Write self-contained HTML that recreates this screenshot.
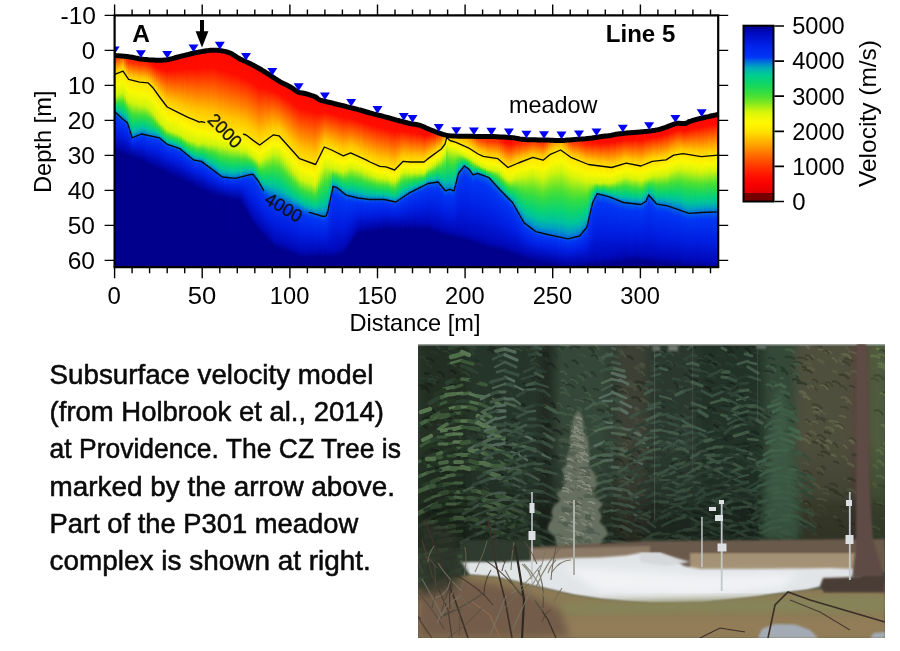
<!DOCTYPE html>
<html><head><meta charset="utf-8"><style>
html,body{margin:0;padding:0;background:#fff}
body{width:900px;height:651px;position:relative;overflow:hidden}
#field i{position:absolute;display:block}
svg{position:absolute;left:0;top:0}
#photo{position:absolute;left:418px;top:344px;width:467px;height:294px;overflow:hidden}
</style></head><body>
<div id="field">
<i style="left:114px;top:54.4px;width:2px;height:212.8px;background:linear-gradient(#ff3c00 0px,#ff3f00 5px,#ffbc00 15px,#ffe600 21px,#f9f901 31px,#d2f40b 41px,#c9f30d 42px,#41df38 47px,#0cd46d 51px,#01ce8e 53px,#00b2b2 55px,#0060e4 58px,#0036f5 62px,#001de0 77px,#0008b5 90px,#00008c 97px,#00008c 213px)"></i>
<i style="left:116px;top:54.6px;width:2px;height:212.6px;background:linear-gradient(#ff4600 0px,#ff4c00 5px,#ffbe00 14px,#ffe400 19px,#f8f902 30px,#d0f40c 40px,#c7f30e 41px,#3bde3b 47px,#09d375 52px,#00cd91 54px,#00a2bf 57px,#006cdf 59px,#0037f5 63px,#001de0 78px,#0008b3 91px,#00008c 97px,#00008c 213px)"></i>
<i style="left:118px;top:54.8px;width:2px;height:212.4px;background:linear-gradient(#ff4c00 0px,#ff4e00 4px,#ffbf00 13px,#ffe400 18px,#f9f902 29px,#d2f40b 39px,#b5f012 41px,#3bde3b 47px,#0cd46d 52px,#00cc92 55px,#00a9bb 58px,#0063e3 61px,#0036f5 65px,#001bdd 80px,#0009b7 91px,#00008c 97px,#00008c 213px)"></i>
<i style="left:120px;top:55.0px;width:2px;height:212.2px;background:linear-gradient(#ff5300 0px,#ff5400 3px,#ffc000 12px,#ffe400 17px,#f9f902 28px,#d3f40b 38px,#a7ee15 41px,#3bde3b 47px,#0bd371 53px,#00c29e 57px,#009bc3 60px,#0051ea 64px,#0037f5 66px,#001de0 80px,#0008b4 92px,#00008c 98px,#00008c 213px)"></i>
<i style="left:122px;top:55.2px;width:2px;height:212.0px;background:linear-gradient(#ff5900 0px,#ff5a00 2px,#ffc100 11px,#ffe700 17px,#f9f901 27px,#ccf30d 38px,#3bde3b 47px,#0dd56b 53px,#00c29e 58px,#00a2bf 61px,#0059e7 65px,#0036f4 68px,#001de0 81px,#0009b8 92px,#00008c 99px,#00008c 213px)"></i>
<i style="left:124px;top:55.4px;width:2px;height:211.8px;background:linear-gradient(#ff4700 0px,#ff4d00 5px,#ffc000 14px,#ffe500 19px,#f9f902 30px,#ccf30d 41px,#41df38 49px,#09d375 56px,#00c0a1 60px,#00adb8 62px,#0050eb 67px,#0037f5 69px,#001de0 82px,#0008b5 93px,#00008c 100px,#00008c 212px)"></i>
<i style="left:126px;top:55.6px;width:2px;height:211.6px;background:linear-gradient(#ff3500 0px,#ff3500 5px,#ffc400 17px,#ffe500 22px,#f8f902 33px,#cbf30d 44px,#3ade3c 52px,#09d375 58px,#00bea4 62px,#0091ca 65px,#0055e8 68px,#0038f4 70px,#001ee3 82px,#0008b3 94px,#00008c 100px,#00008c 212px)"></i>
<i style="left:128px;top:55.8px;width:2px;height:211.4px;background:linear-gradient(#ff2900 0px,#ff2d00 6px,#ffc400 19px,#ffe700 25px,#faf901 35px,#cff40c 46px,#b3ef12 48px,#3cde3a 55px,#09d375 62px,#00c29f 66px,#009fc1 69px,#0040f1 74px,#002cef 79px,#0018d8 87px,#0006a9 96px,#00008c 101px,#00008c 212px)"></i>
<i style="left:130px;top:56.1px;width:2px;height:211.1px;background:linear-gradient(#ff2800 0px,#ff2c00 6px,#ffc200 19px,#ffe600 25px,#f7f902 36px,#d2f40b 46px,#37dd3f 58px,#0cd46e 65px,#00c798 70px,#00a6bd 74px,#0065e2 78px,#0037f5 80px,#001fe4 87px,#000190 100px,#00008c 212px)"></i>
<i style="left:132px;top:56.5px;width:2px;height:210.7px;background:linear-gradient(#ff2700 0px,#ff2b00 6px,#ffc100 19px,#ffe400 24px,#f8f902 36px,#ccf30d 47px,#41df38 58px,#0bd46f 67px,#00c39d 73px,#00a2bf 77px,#0067e1 81px,#0036f4 83px,#001de1 89px,#00039a 99px,#00008c 102px,#00008c 211px)"></i>
<i style="left:134px;top:56.9px;width:2px;height:210.3px;background:linear-gradient(#ff2600 0px,#ff2a00 6px,#ffc000 19px,#ffe600 25px,#f8f902 36px,#cef40c 47px,#3ede39 58px,#0cd46c 66px,#00c49c 72px,#00a2bf 76px,#0061e3 80px,#0036f4 82px,#001cdf 89px,#00008e 101px,#00008c 211px)"></i>
<i style="left:136px;top:57.2px;width:2px;height:210.0px;background:linear-gradient(#ff2600 0px,#ff2a00 6px,#ffbf00 19px,#ffe600 25px,#f9f901 36px,#d0f40c 47px,#3cde3a 58px,#0bd470 66px,#00c59b 71px,#00a1c0 75px,#005ce6 79px,#0036f4 81px,#001cde 89px,#00008c 102px,#00008c 210px)"></i>
<i style="left:138px;top:57.6px;width:2px;height:209.6px;background:linear-gradient(#ff2500 0px,#ff2900 6px,#ffbe00 19px,#ffe500 25px,#faf901 36px,#d3f40b 47px,#9dec18 51px,#3ade3b 58px,#0cd46d 65px,#00c69a 70px,#00a0c1 74px,#0036f4 80px,#001ee2 88px,#00039c 100px,#00008c 103px,#00008c 210px)"></i>
<i style="left:140px;top:58.0px;width:2px;height:209.2px;background:linear-gradient(#ff2600 0px,#ff2a00 6px,#ffbf00 19px,#ffe600 25px,#faf901 36px,#d3f40b 47px,#adef14 50px,#42df38 57px,#0ad373 65px,#00c799 69px,#009ec1 73px,#0042f1 78px,#0033f3 80px,#001bdd 89px,#00049f 100px,#00008c 104px,#00008c 210px)"></i>
<i style="left:142px;top:58.2px;width:2px;height:209.0px;background:linear-gradient(#ff2600 0px,#ff2a00 6px,#ffbf00 19px,#ffe600 25px,#f7f902 37px,#ccf30d 48px,#39dd3d 58px,#0ad372 65px,#00c898 69px,#00a0c1 73px,#0036f5 79px,#001cdf 89px,#0006aa 99px,#00008c 104px,#00008c 210px)"></i>
<i style="left:144px;top:58.3px;width:2px;height:208.9px;background:linear-gradient(#ff2600 0px,#ff2900 6px,#ffbf00 19px,#ffe600 25px,#f7f902 37px,#cef40c 48px,#a2ed16 51px,#3ade3c 58px,#0bd470 65px,#00c19f 70px,#0093c8 74px,#0037f5 79px,#001de1 89px,#0006a8 100px,#00008c 105px,#00008c 209px)"></i>
<i style="left:146px;top:58.5px;width:2px;height:208.7px;background:linear-gradient(#ff2600 0px,#ff2900 6px,#ffbf00 19px,#ffe600 25px,#f7f902 37px,#cff40c 48px,#a5ed16 51px,#3cde3a 58px,#0cd46e 65px,#00c39d 70px,#0097c6 74px,#003df2 79px,#001fe3 89px,#0007ad 100px,#00008c 106px,#00008c 209px)"></i>
<i style="left:148px;top:58.6px;width:2px;height:208.6px;background:linear-gradient(#ff2000 0px,#ff2200 6px,#ffc000 20px,#ffe600 26px,#f8f902 38px,#d1f40c 49px,#a8ee15 52px,#3bde3b 59px,#0bd371 66px,#00c898 70px,#009ec2 74px,#0043f0 79px,#0034f3 81px,#001ee1 90px,#0006ac 101px,#00008c 106px,#00008c 209px)"></i>
<i style="left:150px;top:58.8px;width:2px;height:208.4px;background:linear-gradient(#ff1600 0px,#ff1600 6px,#ffc200 22px,#ffe600 28px,#f7f902 40px,#d1f40b 51px,#b9f011 53px,#41df38 60px,#0bd371 67px,#00c59b 71px,#00a6bc 74px,#0048ee 79px,#0037f5 80px,#001de0 91px,#0007b1 101px,#00008c 107px,#00008c 209px)"></i>
<i style="left:152px;top:59.0px;width:2px;height:208.2px;background:linear-gradient(#ff0e00 0px,#ff1100 7px,#ffc500 24px,#ffe600 30px,#f7f902 42px,#d1f40b 53px,#b8f011 55px,#3ade3c 62px,#0bd371 68px,#00c29e 72px,#009cc3 75px,#003df3 80px,#001ee2 91px,#0007b0 102px,#00008c 108px,#00008c 209px)"></i>
<i style="left:154px;top:59.1px;width:2px;height:208.1px;background:linear-gradient(#fc0800 0px,#fe0d00 8px,#ff9400 21px,#ffde00 30px,#f9f902 44px,#cef40c 56px,#c6f20e 57px,#5ce32d 62px,#2fdc46 65px,#0cd46e 69px,#00c0a0 73px,#00a8bb 75px,#0052ea 79px,#0036f5 81px,#001de0 92px,#0007ae 103px,#00008c 108px,#00008c 209px)"></i>
<i style="left:156px;top:59.2px;width:2px;height:208.0px;background:linear-gradient(#fc0800 0px,#ff0e00 9px,#ffc000 28px,#ffe600 35px,#f9f902 47px,#cdf40c 59px,#c5f20e 60px,#4de033 65px,#17d75c 69px,#00cd91 73px,#00a1c0 76px,#0058e7 79px,#0039f4 81px,#001fe3 92px,#0007ad 104px,#00008c 110px,#00008c 209px)"></i>
<i style="left:158px;top:59.1px;width:2px;height:208.1px;background:linear-gradient(#fc0800 0px,#fe0b00 9px,#ff8400 23px,#ffd700 34px,#fbfa01 49px,#cdf30c 62px,#c3f20f 63px,#3cde3a 68px,#0cd46e 72px,#01ce8e 74px,#00b3b1 76px,#0061e4 79px,#0036f5 82px,#001cdf 94px,#0007ad 105px,#00008c 111px,#00008c 209px)"></i>
<i style="left:160px;top:59.0px;width:2px;height:208.2px;background:linear-gradient(#fc0800 0px,#fe0d00 10px,#ffc200 33px,#ffe600 41px,#faf901 52px,#cdf30c 64px,#c1f20f 65px,#4fe132 69px,#2bdb4a 71px,#0ad374 74px,#00c996 76px,#00a9bb 78px,#0069e0 80px,#0038f5 83px,#001fe3 94px,#0008b5 105px,#00008c 111px,#00008c 209px)"></i>
<i style="left:162px;top:58.9px;width:2px;height:208.3px;background:linear-gradient(#fc0800 0px,#ff0e00 11px,#ffc700 36px,#ffe900 45px,#f8f902 55px,#cef40c 66px,#c4f20e 67px,#4fe132 71px,#1cd858 74px,#00c799 78px,#00a3be 80px,#0063e3 82px,#0036f5 85px,#001de0 96px,#0007ae 107px,#00008c 112px,#00008c 209px)"></i>
<i style="left:164px;top:58.8px;width:2px;height:208.4px;background:linear-gradient(#fc0800 0px,#fe0c00 11px,#ff7c00 27px,#ffd000 40px,#fff700 54px,#cff40c 68px,#c7f20e 69px,#50e132 73px,#2adb4b 75px,#08d278 78px,#00c49c 80px,#009dc2 82px,#005fe4 84px,#0035f4 87px,#001ee1 97px,#0007ae 108px,#00008c 113px,#00008c 209px)"></i>
<i style="left:166px;top:58.7px;width:2px;height:208.5px;background:linear-gradient(#fc0800 0px,#fe0d00 12px,#ffc400 40px,#ffeb00 51px,#f7f902 60px,#d0f40c 70px,#c8f30e 71px,#38dd3e 76px,#08d27a 80px,#00c29f 82px,#0096c6 84px,#005ae6 86px,#0038f5 88px,#001cdf 99px,#0005a7 110px,#00008c 115px,#00008c 209px)"></i>
<i style="left:168px;top:58.2px;width:2px;height:209.0px;background:linear-gradient(#fc0800 0px,#fe0c00 12px,#ff7900 29px,#ffd500 45px,#f9f902 61px,#ccf30d 72px,#baf111 73px,#41df38 77px,#0ad372 81px,#00c897 83px,#00a3bf 85px,#0061e4 87px,#003ef2 89px,#001fe4 99px,#0007b1 110px,#00008c 116px,#00008c 210px)"></i>
<i style="left:170px;top:57.7px;width:2px;height:209.5px;background:linear-gradient(#fc0800 0px,#ff0e00 13px,#ffc100 42px,#ffeb00 54px,#f7f902 63px,#cef40c 73px,#c4f20e 74px,#48e035 78px,#0cd46e 82px,#00cc93 84px,#00a9bb 86px,#0064e2 88px,#0036f5 91px,#001ee2 101px,#0005a6 113px,#00008c 117px,#00008c 210px)"></i>
<i style="left:172px;top:57.2px;width:2px;height:210.0px;background:linear-gradient(#fc0800 0px,#fe0d00 13px,#ffc500 44px,#fff500 60px,#dcf609 72px,#c8f30d 75px,#37dd3e 80px,#07d17c 84px,#00bea3 86px,#00aeb7 87px,#0069e0 89px,#0037f5 92px,#001cdf 103px,#0007b0 113px,#00008c 119px,#00008c 210px)"></i>
<i style="left:174px;top:56.7px;width:2px;height:210.5px;background:linear-gradient(#fc0800 0px,#ff0f00 14px,#ffc400 45px,#fff700 62px,#d4f50b 75px,#b6f012 77px,#3bde3b 81px,#0ed666 84px,#00c29f 87px,#0094c8 89px,#0059e7 91px,#0037f5 93px,#001de0 104px,#0008b3 114px,#00008c 120px,#00008c 211px)"></i>
<i style="left:176px;top:56.2px;width:2px;height:211.0px;background:linear-gradient(#fc0800 0px,#ff0e00 14px,#ffc300 46px,#fff600 63px,#d7f50a 76px,#c0f110 78px,#42df38 82px,#11d662 85px,#00c59a 88px,#009ac4 90px,#005ce6 92px,#003bf3 94px,#0020e5 104px,#0007ae 116px,#00008c 122px,#00008c 211px)"></i>
<i style="left:178px;top:55.8px;width:2px;height:211.4px;background:linear-gradient(#fc0800 0px,#fe0d00 14px,#ff9500 38px,#ffe000 55px,#f9f902 68px,#d0f40c 78px,#c7f30e 79px,#49e035 83px,#14d75f 86px,#00c996 89px,#00a1c0 91px,#005fe4 93px,#0036f4 96px,#001ee3 106px,#0007b1 117px,#00008c 123px,#00008c 212px)"></i>
<i style="left:180px;top:55.3px;width:2px;height:211.9px;background:linear-gradient(#fc0800 0px,#ff0f00 15px,#ffc100 48px,#fff800 67px,#d6f50a 79px,#bcf110 81px,#3ede39 85px,#0fd665 88px,#00c39d 91px,#0095c7 93px,#0059e7 95px,#0038f4 97px,#001de1 108px,#0007ae 119px,#00008c 124px,#00008c 212px)"></i>
<i style="left:182px;top:54.8px;width:2px;height:212.4px;background:linear-gradient(#fc0800 0px,#ff0e00 15px,#ffc400 50px,#fff900 69px,#d5f50b 81px,#b8f011 83px,#3dde39 87px,#0fd664 90px,#00c49c 93px,#0099c4 95px,#005be6 97px,#003af4 99px,#001de0 110px,#0007b1 120px,#00008c 126px,#00008c 213px)"></i>
<i style="left:184px;top:54.3px;width:2px;height:212.9px;background:linear-gradient(#fc0800 0px,#fe0d00 15px,#ff8a00 39px,#ffd900 57px,#fcfa01 72px,#d3f40b 83px,#b5f012 85px,#3dde3a 89px,#09d375 93px,#00c69a 95px,#009ec2 97px,#005ee5 99px,#003bf3 101px,#001fe3 111px,#0005a7 123px,#00008c 128px,#00008c 213px)"></i>
<i style="left:186px;top:53.8px;width:2px;height:213.4px;background:linear-gradient(#fc0800 0px,#ff0f00 16px,#ffc200 52px,#fff400 70px,#edf805 78px,#c9f30d 86px,#3bde3b 91px,#09d375 95px,#00c798 97px,#00a1bf 99px,#0060e4 101px,#003cf3 103px,#001ee2 113px,#0006aa 124px,#00008c 129px,#00008c 214px)"></i>
<i style="left:188px;top:53.3px;width:2px;height:213.9px;background:linear-gradient(#fc0800 0px,#ff0e00 16px,#ffc600 54px,#fcfa01 75px,#cbf30d 87px,#98eb19 89px,#35dd41 93px,#08d278 97px,#00c59a 99px,#00a3bf 101px,#0063e3 103px,#003ef2 105px,#001de1 115px,#0005a7 126px,#00008c 131px,#00008c 214px)"></i>
<i style="left:190px;top:52.8px;width:2px;height:214.4px;background:linear-gradient(#fc0800 0px,#fe0d00 16px,#ffa000 46px,#ffe100 64px,#f9f902 77px,#cbf30d 88px,#bbf111 89px,#51e132 93px,#21d953 96px,#02ce8c 100px,#00a3be 103px,#0067e1 105px,#0035f4 108px,#001de0 117px,#0005a3 128px,#00008c 132px,#00008c 215px)"></i>
<i style="left:192px;top:52.3px;width:2px;height:214.9px;background:linear-gradient(#fc0800 0px,#ff0f00 17px,#ffc500 56px,#fdfa00 77px,#ccf30d 89px,#bef110 90px,#43df37 95px,#10d663 99px,#01ce8e 102px,#00a4be 105px,#0055e8 108px,#0036f4 110px,#001cdf 119px,#00049f 130px,#00008c 134px,#00008c 215px)"></i>
<i style="left:194px;top:51.9px;width:2px;height:215.3px;background:linear-gradient(#fc0800 0px,#ff0e00 17px,#ffc500 57px,#fdfa00 78px,#ccf30d 90px,#a2ed16 92px,#34dd41 97px,#0bd470 101px,#00c49c 104px,#00a7bc 106px,#0058e7 109px,#0036f5 111px,#001de0 120px,#0004a2 131px,#00008c 135px,#00008c 216px)"></i>
<i style="left:196px;top:51.5px;width:2px;height:215.7px;background:linear-gradient(#fc0800 0px,#fe0d00 17px,#ffc500 58px,#fbf901 80px,#cdf40c 91px,#c0f20f 92px,#44df37 97px,#0ad372 102px,#00c19f 105px,#00a1c0 107px,#0054e9 110px,#0036f4 112px,#001de1 121px,#0005a5 132px,#00008c 136px,#00008c 216px)"></i>
<i style="left:198px;top:51.1px;width:2px;height:216.0px;background:linear-gradient(#fc0800 0px,#ff0f00 18px,#ffc100 58px,#fcfa01 81px,#cff40c 92px,#c5f20e 93px,#45df37 98px,#0fd664 102px,#00cd91 105px,#009cc3 108px,#0062e3 110px,#003df3 112px,#001ee1 122px,#0006a8 133px,#00008c 138px,#00008c 217px)"></i>
<i style="left:200px;top:50.8px;width:2px;height:216.4px;background:linear-gradient(#fc0800 0px,#ff0f00 18px,#ffc400 59px,#fcfa01 81px,#cef40c 92px,#c2f20f 93px,#48e035 98px,#0cd46d 103px,#00c699 106px,#00acb9 108px,#005de5 111px,#003af4 113px,#001ee2 123px,#0006aa 134px,#00008c 139px,#00008c 217px)"></i>
<i style="left:202px;top:50.4px;width:2px;height:216.8px;background:linear-gradient(#fc0800 0px,#ff0e00 18px,#ffc600 60px,#faf901 82px,#d2f40b 92px,#b5f012 94px,#44df37 99px,#0dd56b 104px,#00cb94 107px,#00a0c0 110px,#0057e8 113px,#0036f5 115px,#001de0 125px,#0005a6 136px,#00008c 140px,#00008c 217px)"></i>
<i style="left:204px;top:50.0px;width:2px;height:217.2px;background:linear-gradient(#fc0800 0px,#ff0e00 18px,#ffc300 60px,#f9f901 83px,#d0f40c 93px,#c6f20e 94px,#46df36 100px,#0ed567 105px,#00c69a 109px,#00afb6 111px,#0054e9 115px,#0036f4 117px,#001ee2 126px,#0006a9 137px,#00008c 142px,#00008c 218px)"></i>
<i style="left:206px;top:49.8px;width:2px;height:217.4px;background:linear-gradient(#fc0800 0px,#fe0d00 18px,#ffc400 61px,#fcfa01 83px,#ccf30d 94px,#36dd3f 102px,#0bd470 107px,#00bfa2 111px,#00a7bc 113px,#004eeb 117px,#003bf3 118px,#001fe4 127px,#0006aa 138px,#00008c 143px,#00008c 218px)"></i>
<i style="left:208px;top:49.6px;width:2px;height:217.6px;background:linear-gradient(#fc0800 0px,#fe0d00 18px,#ffc500 62px,#fbf901 84px,#d2f40b 94px,#b6f012 96px,#43df37 102px,#0cd46e 108px,#00c49c 112px,#009dc2 115px,#0037f5 120px,#001ee1 129px,#0005a4 140px,#00008c 144px,#00008c 218px)"></i>
<i style="left:210px;top:49.4px;width:2px;height:217.8px;background:linear-gradient(#fc0800 0px,#ff0f00 19px,#ffc300 62px,#faf901 85px,#cef40c 95px,#afef14 97px,#42df38 103px,#0dd56b 109px,#00c897 113px,#00a9bb 116px,#0040f1 121px,#0030f1 124px,#001cde 131px,#00049f 142px,#00008c 146px,#00008c 218px)"></i>
<i style="left:212px;top:49.2px;width:2px;height:218.0px;background:linear-gradient(#fc0800 0px,#ff0e00 19px,#ffc400 63px,#f9f902 86px,#d4f50b 95px,#a8ee15 98px,#41df38 104px,#0ad373 111px,#00c29e 115px,#00a0c0 118px,#0039f4 123px,#001de0 132px,#0004a0 143px,#00008c 147px,#00008c 219px)"></i>
<i style="left:214px;top:49.3px;width:2px;height:217.9px;background:linear-gradient(#fc0800 0px,#ff0e00 19px,#ffc600 64px,#faf901 86px,#cdf40c 96px,#3bde3a 105px,#0ad374 112px,#00c49d 116px,#00a5be 119px,#003ff2 124px,#001fe4 132px,#00039c 144px,#00008c 147px,#00008c 218px)"></i>
<i style="left:216px;top:49.4px;width:2px;height:217.8px;background:linear-gradient(#fc0800 0px,#ff0f00 20px,#ffc100 63px,#fcfa01 86px,#d0f40c 96px,#91ea1b 100px,#39dd3d 106px,#0dd56b 112px,#00c49b 117px,#00a9bb 120px,#005ce5 124px,#0036f4 126px,#001fe3 133px,#000190 146px,#00008c 218px)"></i>
<i style="left:218px;top:49.5px;width:2px;height:217.7px;background:linear-gradient(#fc0800 0px,#ff0e00 20px,#ffc600 65px,#f9f901 87px,#d3f40b 96px,#3fde39 106px,#0cd46c 113px,#00c59a 118px,#009cc3 122px,#004cec 126px,#0037f5 127px,#001ee2 134px,#000193 146px,#00008c 153px,#00008c 218px)"></i>
<i style="left:220px;top:49.8px;width:2px;height:217.4px;background:linear-gradient(#fc0800 0px,#fe0d00 20px,#ffc800 66px,#faf901 87px,#d5f50b 96px,#3ade3c 107px,#0cd46e 114px,#00c59b 119px,#009dc2 123px,#0050eb 127px,#0037f5 128px,#001cdf 135px,#00008d 147px,#00008c 218px)"></i>
<i style="left:222px;top:50.3px;width:2px;height:216.9px;background:linear-gradient(#fc0800 0px,#ff0f00 21px,#ffc500 65px,#faf901 87px,#d4f50b 96px,#3bde3b 107px,#0cd46c 114px,#00c897 119px,#00a5bd 123px,#005ee5 127px,#0043f0 128px,#0031f2 130px,#001ada 136px,#00008d 147px,#00008c 217px)"></i>
<i style="left:224px;top:50.8px;width:2px;height:216.4px;background:linear-gradient(#fc0800 0px,#ff0f00 21px,#ffc400 65px,#faf901 87px,#d3f40b 96px,#3ade3c 107px,#0cd46d 114px,#00c699 119px,#00a1c0 123px,#0070dd 126px,#003cf3 128px,#0021e7 134px,#00039c 145px,#00008c 148px,#00008c 217px)"></i>
<i style="left:226px;top:51.3px;width:2px;height:215.9px;background:linear-gradient(#fc0800 0px,#ff0f00 21px,#ffc400 65px,#fbf901 87px,#d3f40b 96px,#38dd3d 107px,#08d278 115px,#00c49c 119px,#009dc2 123px,#0050eb 127px,#0037f5 128px,#001ddf 135px,#00008e 147px,#00008c 216px)"></i>
<i style="left:228px;top:51.8px;width:2px;height:215.4px;background:linear-gradient(#fc0800 0px,#ff0e00 21px,#ffc700 66px,#fbf901 87px,#d2f40b 96px,#37dd3e 107px,#0bd371 114px,#00c29e 119px,#00a9bb 122px,#0063e3 126px,#0036f4 128px,#001cdf 135px,#00008e 147px,#00008c 216px)"></i>
<i style="left:230px;top:52.6px;width:2px;height:214.6px;background:linear-gradient(#fc0800 0px,#ff0f00 21px,#ffc400 65px,#f9f901 87px,#cdf40c 96px,#3bde3b 106px,#0cd46d 113px,#00c69a 118px,#009fc1 122px,#0053e9 126px,#0039f4 127px,#001ee2 134px,#000192 146px,#00008c 215px)"></i>
<i style="left:232px;top:53.8px;width:2px;height:213.4px;background:linear-gradient(#fc0800 0px,#ff0e00 20px,#ffc300 64px,#fbf901 86px,#d0f40c 95px,#3cde3a 105px,#09d375 113px,#00c699 117px,#009fc1 121px,#0053e9 125px,#003af4 126px,#001fe3 133px,#00008d 146px,#00008c 214px)"></i>
<i style="left:234px;top:55.0px;width:2px;height:212.2px;background:linear-gradient(#fc0800 0px,#ff0f00 20px,#ffc500 64px,#fcfa01 85px,#d2f40b 94px,#3ede39 104px,#0dd56b 111px,#00c799 116px,#009fc1 120px,#0053e9 124px,#003bf3 125px,#001fe4 132px,#000190 145px,#00008c 213px)"></i>
<i style="left:236px;top:56.2px;width:2px;height:211.0px;background:linear-gradient(#fc0800 0px,#ff0e00 19px,#ffc000 62px,#f9f902 85px,#d4f50b 93px,#3dde39 103px,#0cd46e 110px,#00c39d 115px,#0097c6 119px,#0036f4 124px,#001fe4 131px,#00008c 145px,#00008c 212px)"></i>
<i style="left:238px;top:57.4px;width:2px;height:209.8px;background:linear-gradient(#fc0800 0px,#ff0f00 19px,#ffc500 63px,#faf901 84px,#ccf30d 93px,#3cde3a 102px,#0bd371 109px,#00c897 113px,#009ec2 117px,#003af4 122px,#001fe3 130px,#00039b 142px,#00008c 145px,#00008c 210px)"></i>
<i style="left:240px;top:58.5px;width:2px;height:208.8px;background:linear-gradient(#fc0800 0px,#ff0f00 19px,#ffc300 62px,#fcfa01 83px,#d0f40c 92px,#3dde3a 101px,#0ad372 108px,#00c59b 112px,#00a8bb 115px,#0036f5 121px,#001cdf 130px,#000297 142px,#00008c 146px,#00008c 209px)"></i>
<i style="left:242px;top:59.4px;width:2px;height:207.8px;background:linear-gradient(#fc0800 0px,#ff0f00 19px,#ffc400 62px,#fbf901 83px,#d6f50a 91px,#36dd40 101px,#0ad373 107px,#00c39d 111px,#00a3bf 114px,#0044ef 119px,#0034f4 121px,#001cdf 131px,#0007b0 141px,#00008c 147px,#00008c 208px)"></i>
<i style="left:244px;top:60.2px;width:2px;height:206.9px;background:linear-gradient(#fc0800 0px,#ff0f00 19px,#ffc500 62px,#f9f902 83px,#d0f40c 91px,#38dd3e 100px,#0ad373 106px,#00c29f 110px,#009dc2 113px,#0052ea 117px,#0037f5 119px,#001ee3 131px,#0008b4 143px,#00008c 149px,#00008c 207px)"></i>
<i style="left:246px;top:61.1px;width:2px;height:206.0px;background:linear-gradient(#fc0800 0px,#ff0f00 19px,#ffc100 61px,#f9f902 83px,#cff40c 91px,#3cde3a 99px,#0bd371 105px,#00c1a0 109px,#00acb9 111px,#005ce6 115px,#0037f5 118px,#001de0 133px,#0007b1 146px,#00008c 152px,#00008c 207px)"></i>
<i style="left:248px;top:62.0px;width:2px;height:205.1px;background:linear-gradient(#fc0800 0px,#ff0f00 19px,#ffc600 63px,#fbfa01 83px,#d4f50b 91px,#b4f012 93px,#3ade3b 99px,#0cd46d 104px,#00cc92 107px,#00aaba 110px,#0063e2 113px,#0038f5 117px,#001de0 134px,#0008b4 148px,#00008c 154px,#00008c 206px)"></i>
<i style="left:250px;top:63.0px;width:2px;height:204.1px;background:linear-gradient(#fc0800 0px,#ff0e00 19px,#ffc100 62px,#f9f901 84px,#cff40c 92px,#a5ed16 94px,#39dd3d 99px,#09d276 104px,#00cd91 106px,#00a4be 109px,#005fe4 112px,#0038f5 116px,#001de0 135px,#0009b8 150px,#00008c 157px,#00008c 205px)"></i>
<i style="left:252px;top:64.2px;width:2px;height:203.0px;background:linear-gradient(#fc0800 0px,#ff0e00 19px,#ffc300 63px,#fcfa01 84px,#d6f50a 92px,#b3f012 94px,#4ee133 98px,#2ddb48 100px,#07d17b 104px,#00b8aa 107px,#00aabb 108px,#005fe4 111px,#0036f5 116px,#001de0 136px,#0009ba 152px,#00008c 159px,#00008c 204px)"></i>
<i style="left:254px;top:65.2px;width:2px;height:201.9px;background:linear-gradient(#fc0800 0px,#fe0d00 19px,#ffc500 64px,#f9f901 85px,#d0f40c 93px,#c3f20f 94px,#49e035 99px,#0cd46d 104px,#00c799 107px,#00adb8 109px,#0062e3 112px,#0037f5 117px,#001de0 138px,#0008b5 155px,#00008c 161px,#00008c 202px)"></i>
<i style="left:256px;top:66.3px;width:2px;height:200.8px;background:linear-gradient(#fc0800 0px,#ff0f00 20px,#ffc400 64px,#fbf901 85px,#d5f50a 93px,#b5f012 95px,#43df37 100px,#0cd46c 105px,#00ca95 108px,#009dc2 111px,#0068e1 113px,#0036f5 119px,#001de0 139px,#0008b5 156px,#00008c 162px,#00008c 201px)"></i>
<i style="left:258px;top:67.5px;width:2px;height:199.8px;background:linear-gradient(#fc0800 0px,#ff0e00 20px,#ffc300 64px,#fcfa01 85px,#cff40c 94px,#91ea1b 97px,#33dc42 102px,#09d277 107px,#00c29e 110px,#00aaba 112px,#0063e3 115px,#0037f5 120px,#001de1 140px,#0008b5 157px,#00008c 163px,#00008c 200px)"></i>
<i style="left:260px;top:68.6px;width:2px;height:198.6px;background:linear-gradient(#fc0800 0px,#ff0f00 19px,#ffc500 63px,#faf901 84px,#d4f50b 92px,#90ea1b 96px,#3cde3a 101px,#0cd46e 107px,#00c799 111px,#00a8bc 114px,#006ae0 117px,#0038f5 122px,#001ee2 141px,#0008b5 158px,#00008c 164px,#00008c 199px)"></i>
<i style="left:262px;top:69.9px;width:2px;height:197.3px;background:linear-gradient(#fc0800 0px,#ff0e00 18px,#ffc600 61px,#fbfa01 81px,#cef40c 90px,#3cde3a 100px,#0dd56b 107px,#00c798 112px,#00a3bf 116px,#0057e8 121px,#0036f5 125px,#001cde 144px,#0008b4 159px,#00008c 165px,#00008c 198px)"></i>
<i style="left:264px;top:71.1px;width:2px;height:196.1px;background:linear-gradient(#fc0800 0px,#fe0d00 17px,#ff8900 44px,#ffda00 65px,#f9f902 79px,#d3f40b 87px,#43df37 98px,#0bd470 107px,#00c1a0 113px,#009dc2 117px,#0057e8 122px,#0036f5 126px,#001cde 145px,#0009ba 159px,#00008c 166px,#00008c 197px)"></i>
<i style="left:266px;top:72.3px;width:2px;height:194.9px;background:linear-gradient(#fc0800 0px,#ff0f00 17px,#ffc400 56px,#faf901 76px,#ccf30d 85px,#44df37 96px,#0dd56a 105px,#00c996 111px,#00a3bf 116px,#0055e9 122px,#0036f4 126px,#001ee1 144px,#0009b9 160px,#00008c 167px,#00008c 195px)"></i>
<i style="left:268px;top:73.6px;width:2px;height:193.6px;background:linear-gradient(#fc0800 0px,#ff0e00 16px,#ffc500 54px,#fcfa01 73px,#d1f40b 82px,#45df36 94px,#0cd46c 104px,#00c995 110px,#009bc3 116px,#0053ea 122px,#0037f5 125px,#001de0 145px,#0009b8 161px,#00008c 168px,#00008c 194px)"></i>
<i style="left:270px;top:74.9px;width:2px;height:192.3px;background:linear-gradient(#fc0800 0px,#fe0d00 15px,#ff9400 41px,#ffe100 60px,#f9f902 71px,#cbf30d 80px,#50e132 91px,#2cdb49 96px,#09d375 104px,#00c49c 110px,#00a1c0 115px,#0050eb 122px,#0035f4 126px,#001cdf 146px,#0008b6 162px,#00008c 169px,#00008c 193px)"></i>
<i style="left:272px;top:76.2px;width:2px;height:191.0px;background:linear-gradient(#fc0800 0px,#ff0e00 15px,#ffc400 49px,#faf901 68px,#cff40c 77px,#50e132 89px,#28db4c 95px,#09d276 103px,#00c49c 109px,#00a5bd 114px,#004eec 122px,#0035f4 126px,#001ddf 146px,#000abc 162px,#00008c 169px,#00008c 192px)"></i>
<i style="left:274px;top:77.5px;width:2px;height:189.8px;background:linear-gradient(#fc0800 0px,#fe0d00 14px,#ff8700 36px,#ffdb00 54px,#f9f902 67px,#ccf30d 76px,#50e132 88px,#1fd955 96px,#04cf86 105px,#00abba 113px,#004bed 122px,#0035f4 126px,#001cde 147px,#0009bb 163px,#00008c 170px,#00008c 190px)"></i>
<i style="left:276px;top:78.8px;width:2px;height:188.4px;background:linear-gradient(#fc0800 0px,#fe0d00 14px,#ffc800 48px,#f9f901 66px,#cef40c 75px,#4ae034 88px,#0cd46c 100px,#00c49c 108px,#009bc3 114px,#0048ee 122px,#0036f4 125px,#001cdf 146px,#0009b7 163px,#00008c 169px,#00008c 189px)"></i>
<i style="left:278px;top:80.0px;width:2px;height:187.1px;background:linear-gradient(#fc0800 0px,#ff0e00 14px,#ffc700 47px,#faf901 65px,#d0f40c 74px,#44df37 88px,#0bd46f 100px,#00c29f 108px,#00a2bf 113px,#004dec 121px,#0035f4 125px,#001de0 145px,#0009bb 162px,#00008c 169px,#00008c 188px)"></i>
<i style="left:280px;top:81.2px;width:2px;height:186.0px;background:linear-gradient(#fc0800 0px,#fe0d00 14px,#ffc300 47px,#fffa00 65px,#d3f40b 75px,#4be034 88px,#0ed666 99px,#00c897 107px,#00a1c0 113px,#0054e9 120px,#0036f5 124px,#001cde 146px,#0009b8 162px,#00008c 169px,#00008c 187px)"></i>
<i style="left:282px;top:82.2px;width:2px;height:185.0px;background:linear-gradient(#fc0800 0px,#ff0f00 15px,#ffc300 48px,#fcfa01 67px,#d7f50a 76px,#41df38 90px,#0bd46f 101px,#00c49c 108px,#00a2bf 113px,#0054e9 120px,#0036f5 124px,#001ddf 145px,#0009b7 162px,#00008c 168px,#00008c 186px)"></i>
<i style="left:284px;top:83.2px;width:2px;height:184.0px;background:linear-gradient(#fc0800 0px,#ff0e00 15px,#ffc300 49px,#fdfa01 68px,#d0f40c 78px,#41df38 91px,#0ad372 102px,#00c69a 108px,#00a4be 113px,#005ce6 119px,#0036f5 124px,#001cdf 145px,#000abd 161px,#00008c 168px,#00008c 185px)"></i>
<i style="left:286px;top:84.2px;width:2px;height:183.0px;background:linear-gradient(#fc0800 0px,#fe0d00 15px,#ffc700 51px,#faf901 70px,#d4f50b 79px,#40df38 92px,#0bd46f 102px,#00c898 108px,#00a5bd 113px,#0052ea 120px,#0036f4 124px,#001cdf 145px,#0008b4 162px,#00008c 168px,#00008c 184px)"></i>
<i style="left:288px;top:85.2px;width:2px;height:182.0px;background:linear-gradient(#fc0800 0px,#fe0d00 15px,#ff8400 38px,#ffd900 57px,#fbfa01 71px,#cdf40c 81px,#3fde39 93px,#0ad372 103px,#00c39d 109px,#009ac4 114px,#005be6 119px,#0036f4 124px,#001cdf 145px,#0009ba 161px,#00008c 168px,#00008c 183px)"></i>
<i style="left:290px;top:86.4px;width:2px;height:180.8px;background:linear-gradient(#fc0800 0px,#ff0f00 16px,#ffc700 53px,#fcfa01 72px,#cff40c 82px,#3dde3a 94px,#0bd46f 103px,#00c49c 109px,#0099c5 114px,#0059e7 119px,#0036f4 124px,#001de0 144px,#0009b7 161px,#00008c 167px,#00008c 181px)"></i>
<i style="left:292px;top:87.7px;width:2px;height:179.5px;background:linear-gradient(#fc0800 0px,#ff0e00 16px,#ffc400 53px,#fcfa01 73px,#d0f40c 83px,#3ade3c 95px,#09d375 104px,#00c49c 109px,#00a4be 113px,#005ee5 118px,#0036f5 123px,#001cdf 144px,#0009bb 160px,#00008c 167px,#00008c 180px)"></i>
<i style="left:294px;top:89.0px;width:2px;height:178.2px;background:linear-gradient(#fc0800 0px,#ff0e00 16px,#ffc500 54px,#fbfa01 74px,#d0f40c 84px,#3fde39 95px,#0cd46c 103px,#00c49c 109px,#00a1c0 113px,#005be6 118px,#0036f4 123px,#001de0 143px,#0009b7 160px,#00008c 166px,#00008c 179px)"></i>
<i style="left:296px;top:90.3px;width:2px;height:176.9px;background:linear-gradient(#fc0800 0px,#fe0d00 16px,#ffc600 55px,#fbfa01 75px,#d1f40b 85px,#3bde3b 96px,#0ad372 104px,#00c39d 109px,#009ec2 113px,#0057e8 118px,#0035f4 123px,#001cdf 143px,#0009ba 159px,#00008c 166px,#00008c 177px)"></i>
<i style="left:298px;top:91.2px;width:2px;height:176.0px;background:linear-gradient(#fc0800 0px,#ff0f00 17px,#ffc600 56px,#f9f901 77px,#ccf30d 87px,#3bde3b 97px,#0cd46c 104px,#00c799 109px,#00a1c0 113px,#0060e4 117px,#0037f5 122px,#001cdf 143px,#0009ba 159px,#00008c 166px,#00008c 176px)"></i>
<i style="left:300px;top:91.6px;width:2px;height:175.6px;background:linear-gradient(#fc0800 0px,#ff0e00 17px,#ffc300 56px,#fcfa01 77px,#d5f50b 87px,#39de3c 98px,#0bd46f 105px,#00c49c 110px,#009ac4 114px,#0065e2 117px,#0036f4 123px,#001ddf 143px,#0009b9 159px,#00008c 166px,#00008c 176px)"></i>
<i style="left:302px;top:92.1px;width:2px;height:175.1px;background:linear-gradient(#fc0800 0px,#ff0e00 17px,#ffc600 57px,#faf901 78px,#cff40c 88px,#3ede39 98px,#0ad374 106px,#00c898 110px,#00a2bf 114px,#0057e8 119px,#0036f5 123px,#001cdf 143px,#0008b6 159px,#00008c 166px,#00008c 176px)"></i>
<i style="left:304px;top:92.5px;width:2px;height:174.7px;background:linear-gradient(#fc0800 0px,#ff0e00 17px,#ffc500 57px,#fbfa01 78px,#d3f40b 88px,#9bec18 92px,#39dd3d 99px,#0bd46f 106px,#00c49c 111px,#00abba 114px,#0065e2 118px,#0037f5 123px,#001ee1 142px,#0009ba 158px,#00008c 165px,#00008c 175px)"></i>
<i style="left:306px;top:93.1px;width:2px;height:174.1px;background:linear-gradient(#fc0800 0px,#ff0e00 17px,#ffc500 57px,#fcfa01 78px,#ccf30d 89px,#3bde3b 99px,#0cd46d 106px,#00c69a 111px,#009fc1 115px,#005fe5 119px,#0038f4 123px,#001de1 142px,#0008b6 158px,#00008c 165px,#00008c 175px)"></i>
<i style="left:308px;top:93.8px;width:2px;height:173.4px;background:linear-gradient(#fc0800 0px,#ff0e00 17px,#ffc500 57px,#fcfa01 78px,#cef40c 89px,#3dde3a 99px,#0ad374 107px,#00c897 111px,#00a3bf 115px,#0057e8 120px,#0036f4 124px,#001de0 142px,#0009b8 157px,#00008c 164px,#00008c 174px)"></i>
<i style="left:310px;top:94.4px;width:2px;height:172.8px;background:linear-gradient(#fc0800 0px,#ff0e00 17px,#ffc400 57px,#fdfa01 78px,#d0f40c 89px,#3fde39 99px,#0dd56a 106px,#00c897 111px,#00a3bf 115px,#0056e8 120px,#0036f4 124px,#001ee1 141px,#0008b4 157px,#00008c 163px,#00008c 173px)"></i>
<i style="left:312px;top:95.1px;width:2px;height:172.1px;background:linear-gradient(#fc0800 0px,#ff0e00 17px,#ffc800 58px,#faf901 79px,#d3f40b 89px,#37dd3e 100px,#0ad372 107px,#00c897 111px,#00a2bf 115px,#0060e4 119px,#0037f5 123px,#001ee3 140px,#0008b6 156px,#00008c 163px,#00008c 173px)"></i>
<i style="left:314px;top:95.7px;width:2px;height:171.5px;background:linear-gradient(#fc0800 0px,#ff0e00 17px,#ffc400 57px,#faf901 79px,#d5f50b 89px,#9dec18 93px,#38dd3d 100px,#0ad372 107px,#00c897 111px,#00a2bf 115px,#0055e9 120px,#0035f4 124px,#001ddf 141px,#0009b9 155px,#00008c 162px,#00008c 172px)"></i>
<i style="left:316px;top:97.0px;width:2px;height:170.2px;background:linear-gradient(#fc0800 0px,#ff0e00 16px,#ff9500 43px,#ffdf00 62px,#faf901 75px,#d2f40b 85px,#38dd3e 97px,#0ad373 105px,#00c49d 110px,#00a0c0 114px,#0057e8 119px,#0038f5 122px,#001cdf 140px,#0009b7 154px,#00008c 160px,#00008c 171px)"></i>
<i style="left:318px;top:98.3px;width:2px;height:168.9px;background:linear-gradient(#fc0800 0px,#ff0e00 15px,#ffc700 50px,#fcfa01 69px,#ccf30d 80px,#3fde39 92px,#0dd56a 101px,#00c49c 108px,#009cc3 113px,#0045ef 120px,#0034f4 123px,#001cdf 139px,#0008b4 153px,#00008c 159px,#00008c 169px)"></i>
<i style="left:320px;top:99.2px;width:2px;height:167.9px;background:linear-gradient(#fc0800 0px,#ff0f00 14px,#ffc300 45px,#fffa00 63px,#d3f40b 74px,#42df38 88px,#0cd46d 99px,#00c699 106px,#009ec2 112px,#0037f5 121px,#001de0 138px,#0008b5 152px,#00008c 158px,#00008c 168px)"></i>
<i style="left:322px;top:99.8px;width:2px;height:167.4px;background:linear-gradient(#fc0800 0px,#ff0f00 13px,#ffc100 41px,#ffef00 54px,#f5f902 61px,#d4f50b 69px,#47e036 84px,#0cd46e 97px,#00c69a 105px,#00a3bf 111px,#0037f5 121px,#001cdf 138px,#0009b9 151px,#00008c 158px,#00008c 168px)"></i>
<i style="left:324px;top:100.2px;width:2px;height:166.9px;background:linear-gradient(#fc0800 0px,#ff0e00 12px,#ffc300 39px,#ffec00 50px,#f9f902 57px,#d3f40b 66px,#53e131 80px,#2adb4b 87px,#0ad372 96px,#00c39d 104px,#00a2bf 110px,#0038f4 120px,#001ee3 136px,#0008b5 151px,#00008c 157px,#00008c 167px)"></i>
<i style="left:326px;top:100.8px;width:2px;height:166.4px;background:linear-gradient(#fc0800 0px,#ff0e00 12px,#ffc200 39px,#ffee00 51px,#faf901 57px,#d3f40b 66px,#4ce033 80px,#0ed666 92px,#00c29e 102px,#009cc3 108px,#0036f5 118px,#001cdf 136px,#0009b9 150px,#00008c 157px,#00008c 167px)"></i>
<i style="left:328px;top:101.2px;width:2px;height:165.9px;background:linear-gradient(#fc0800 0px,#ff0e00 12px,#ffc600 40px,#fff800 55px,#d2f40b 66px,#3ede39 79px,#0bd470 89px,#00c69a 95px,#00a2bf 100px,#0059e7 106px,#0036f4 111px,#001cde 133px,#000abc 149px,#00008c 156px,#00008c 166px)"></i>
<i style="left:330px;top:101.8px;width:2px;height:165.4px;background:linear-gradient(#fc0800 0px,#fe0d00 12px,#ffc400 40px,#fff500 54px,#eaf705 61px,#c8f30e 67px,#4ae034 75px,#0fd665 82px,#00c29e 88px,#00a6bd 91px,#0062e3 95px,#0036f5 102px,#001de0 128px,#0009b9 149px,#00008c 156px,#00008c 166px)"></i>
<i style="left:332px;top:102.2px;width:2px;height:164.9px;background:linear-gradient(#fc0800 0px,#fe0d00 12px,#ffc200 40px,#fff400 54px,#e7f706 62px,#c9f30d 67px,#3ade3c 73px,#0dd56a 77px,#00c897 80px,#00aeb7 82px,#0063e3 85px,#0036f4 94px,#001de0 124px,#000abc 148px,#00008c 155px,#00008c 165px)"></i>
<i style="left:334px;top:102.8px;width:2px;height:164.4px;background:linear-gradient(#fc0800 0px,#fe0d00 12px,#ff8300 30px,#ffd800 45px,#f9f901 58px,#d5f50a 66px,#b5f012 68px,#4fe132 72px,#21d953 75px,#02ce8a 79px,#00a9bb 82px,#0071dd 84px,#005be6 86px,#0036f5 93px,#001cdf 124px,#000abd 147px,#00008c 154px,#00008c 165px)"></i>
<i style="left:336px;top:103.2px;width:2px;height:163.9px;background:linear-gradient(#fc0800 0px,#fe0c00 12px,#ff8100 30px,#ffd600 45px,#faf901 58px,#ccf30d 67px,#3cde3a 73px,#0dd56a 77px,#00c897 80px,#00adb8 82px,#0062e3 85px,#0036f5 93px,#001de1 122px,#0009ba 146px,#00008c 153px,#00008c 164px)"></i>
<i style="left:338px;top:103.8px;width:2px;height:163.4px;background:linear-gradient(#fc0800 0px,#ff0f00 13px,#ffc100 41px,#fff900 57px,#cdf40c 67px,#a2ed17 69px,#34dd41 74px,#0bd470 78px,#00c49b 81px,#00a9bb 83px,#0074dc 85px,#0061e3 86px,#0036f4 94px,#001de0 122px,#0009b7 145px,#00008c 151px,#00008c 164px)"></i>
<i style="left:340px;top:104.2px;width:2px;height:162.9px;background:linear-gradient(#fc0800 0px,#ff0f00 13px,#ffc400 42px,#fdfa00 58px,#cff40c 67px,#a7ee15 69px,#3ade3c 74px,#0ad373 79px,#00c39d 82px,#00aabb 84px,#0062e3 87px,#0036f4 95px,#001cdf 122px,#0009bb 143px,#00008c 150px,#00008c 163px)"></i>
<i style="left:342px;top:104.8px;width:2px;height:162.4px;background:linear-gradient(#fc0800 0px,#ff0e00 13px,#ffc200 42px,#fffa00 58px,#d1f40b 67px,#acee14 69px,#42df38 74px,#0dd56a 79px,#00cd90 82px,#00aaba 85px,#0064e2 88px,#0036f5 95px,#001de0 121px,#0009b8 142px,#00008c 149px,#00008c 163px)"></i>
<i style="left:344px;top:105.2px;width:2px;height:161.9px;background:linear-gradient(#fc0800 0px,#ff0f00 13px,#ffc100 41px,#fefa00 57px,#cdf30c 66px,#49e035 73px,#0dd569 79px,#00c897 83px,#00a7bc 86px,#0065e2 89px,#0036f5 96px,#001cdf 121px,#0008b5 141px,#00008c 147px,#00008c 162px)"></i>
<i style="left:346px;top:105.8px;width:2px;height:161.4px;background:linear-gradient(#fc0800 0px,#fe0d00 12px,#ffc700 41px,#fcfa01 56px,#d1f40b 64px,#3bde3b 73px,#0cd46d 79px,#00c0a1 84px,#009bc3 87px,#0062e3 90px,#0036f5 96px,#001ee1 118px,#0009b9 137px,#00008c 144px,#00008c 162px)"></i>
<i style="left:348px;top:106.2px;width:2px;height:160.9px;background:linear-gradient(#fc0800 0px,#ff0e00 12px,#ffc200 39px,#fffa00 54px,#d6f50a 62px,#3ade3c 72px,#0ad374 79px,#00c59b 83px,#0098c6 87px,#0062e3 90px,#0037f5 95px,#001cdf 117px,#0008b6 134px,#00008c 141px,#00008c 161px)"></i>
<i style="left:350px;top:106.8px;width:2px;height:160.4px;background:linear-gradient(#fc0800 0px,#ff0f00 12px,#ffc100 38px,#fefa00 53px,#d2f40b 61px,#48e035 70px,#0ed666 77px,#00c29e 83px,#0095c7 87px,#0061e3 90px,#0036f5 95px,#001cdf 115px,#0009ba 130px,#00008c 137px,#00008c 161px)"></i>
<i style="left:352px;top:107.2px;width:2px;height:159.9px;background:linear-gradient(#fc0800 0px,#ff0e00 12px,#ffbf00 38px,#fffa00 53px,#d3f40b 61px,#3bde3b 71px,#0bd46f 78px,#00c29e 83px,#0095c7 87px,#0057e8 91px,#0038f4 94px,#001de1 112px,#0009b7 127px,#00008c 133px,#00008c 160px)"></i>
<i style="left:354px;top:107.8px;width:2px;height:159.4px;background:linear-gradient(#fc0800 0px,#ff0e00 12px,#ffc300 39px,#fcfa01 54px,#d4f50b 61px,#3bde3b 71px,#0bd46f 78px,#00c29e 83px,#0095c7 87px,#0055e8 91px,#0035f4 95px,#001de0 110px,#0008b4 124px,#00008c 130px,#00008c 160px)"></i>
<i style="left:356px;top:108.2px;width:2px;height:158.9px;background:linear-gradient(#fc0800 0px,#ff0e00 12px,#ffc600 40px,#fdfa01 54px,#d5f50a 61px,#3bde3b 71px,#0bd46f 78px,#00c29e 83px,#0094c8 87px,#0053e9 91px,#0036f4 94px,#001de0 108px,#0009b8 120px,#00008c 127px,#00008c 159px)"></i>
<i style="left:358px;top:108.8px;width:2px;height:158.4px;background:linear-gradient(#fc0800 0px,#fe0d00 12px,#ffc400 40px,#f9f902 55px,#d7f50a 61px,#3bde3b 71px,#0bd470 78px,#00c19f 83px,#00a3be 86px,#0050eb 91px,#0037f5 93px,#001cdf 107px,#0009b8 118px,#00008c 125px,#00008c 159px)"></i>
<i style="left:360px;top:109.3px;width:2px;height:157.9px;background:linear-gradient(#fc0800 0px,#fe0d00 12px,#ff9a00 33px,#ffe100 47px,#faf901 55px,#d8f50a 61px,#3bde3b 71px,#0bd371 78px,#00c897 82px,#009fc1 86px,#004bed 91px,#0034f4 94px,#001de0 106px,#0008b2 118px,#00008c 124px,#00008c 158px)"></i>
<i style="left:362px;top:109.9px;width:2px;height:157.3px;background:linear-gradient(#fc0800 0px,#fe0d00 12px,#ffc100 40px,#fcfa01 55px,#cdf40c 62px,#3cde3a 71px,#0ad372 78px,#00c699 82px,#00acb9 85px,#0046ef 91px,#0035f4 93px,#001ee1 105px,#0008b2 117px,#00008c 123px,#00008c 158px)"></i>
<i style="left:364px;top:110.5px;width:2px;height:156.7px;background:linear-gradient(#fc0800 0px,#fe0c00 12px,#ffc500 41px,#fdfa00 55px,#d1f40b 62px,#3cde3a 71px,#0ad373 78px,#00c59b 82px,#0095c7 86px,#0041f1 91px,#0032f3 94px,#001adb 106px,#0008b3 116px,#00008c 122px,#00008c 157px)"></i>
<i style="left:366px;top:111.1px;width:2px;height:156.1px;background:linear-gradient(#fc0800 0px,#fe0c00 12px,#ffc400 41px,#f9f901 56px,#d4f50b 62px,#3dde3a 71px,#0dd56a 77px,#00c39d 82px,#00a2bf 85px,#0058e7 89px,#0035f4 92px,#001de0 104px,#0008b4 115px,#00008c 121px,#00008c 157px)"></i>
<i style="left:368px;top:111.7px;width:2px;height:155.5px;background:linear-gradient(#fc0800 0px,#fe0c00 12px,#ff8600 31px,#ffd900 46px,#fcfa01 56px,#cbf30d 63px,#3fde39 71px,#0dd56a 77px,#00c19f 82px,#009ec2 85px,#0052ea 89px,#0037f5 91px,#001de1 103px,#0008b5 114px,#00008c 120px,#00008c 156px)"></i>
<i style="left:370px;top:112.2px;width:2px;height:154.9px;background:linear-gradient(#fc0800 0px,#ff0f00 13px,#ffc500 42px,#fefa00 56px,#d0f40c 63px,#40df38 71px,#0cd46c 77px,#00c897 81px,#00aabb 84px,#004bed 89px,#0036f4 91px,#001ee2 102px,#0007af 114px,#00008c 120px,#00008c 155px)"></i>
<i style="left:372px;top:112.8px;width:2px;height:154.4px;background:linear-gradient(#fc0800 0px,#ff0f00 13px,#ffc400 42px,#faf901 57px,#d4f50b 63px,#40df38 71px,#0cd46d 77px,#00c59a 81px,#00a1bf 84px,#0052ea 88px,#0037f5 90px,#001de0 102px,#0007b0 113px,#00008c 119px,#00008c 155px)"></i>
<i style="left:374px;top:113.2px;width:2px;height:153.9px;background:linear-gradient(#fc0800 0px,#ff0e00 13px,#ffc200 42px,#fcfa01 57px,#d8f50a 63px,#41df38 71px,#0bd46f 77px,#00c29e 81px,#00adb8 83px,#005ae7 87px,#003bf3 89px,#001de1 101px,#0008b2 112px,#00008c 118px,#00008c 154px)"></i>
<i style="left:376px;top:113.8px;width:2px;height:153.4px;background:linear-gradient(#fc0800 0px,#ff0e00 13px,#ffc500 43px,#fefa00 57px,#cdf40c 64px,#42df38 71px,#0ed666 76px,#00c995 80px,#00a6bd 83px,#0052ea 87px,#0036f5 89px,#001ee2 100px,#0008b4 111px,#00008c 117px,#00008c 154px)"></i>
<i style="left:378px;top:114.2px;width:2px;height:152.9px;background:linear-gradient(#fc0800 0px,#ff0e00 13px,#ffc400 43px,#faf901 58px,#d2f40b 64px,#42df37 71px,#0ed567 76px,#00c699 80px,#009cc3 83px,#004aed 87px,#0035f4 89px,#001de0 100px,#0007ae 111px,#00008c 116px,#00008c 153px)"></i>
<i style="left:380px;top:114.8px;width:2px;height:152.4px;background:linear-gradient(#fc0800 0px,#ff0e00 13px,#ffc400 43px,#f9f901 58px,#cff40c 64px,#3dde39 71px,#0cd46c 76px,#00cd91 79px,#00a9bb 82px,#0051ea 86px,#0036f5 88px,#001bdd 100px,#0007af 110px,#00008c 116px,#00008c 153px)"></i>
<i style="left:382px;top:115.3px;width:2px;height:151.9px;background:linear-gradient(#fc0800 0px,#ff0e00 13px,#ffc500 43px,#fdfa01 57px,#d7f50a 63px,#9aec18 66px,#38dd3e 71px,#0ad372 76px,#00c798 79px,#009cc3 82px,#0058e7 85px,#0038f5 87px,#001ee2 98px,#0007b1 109px,#00008c 115px,#00008c 152px)"></i>
<i style="left:384px;top:115.8px;width:2px;height:151.3px;background:linear-gradient(#fc0800 0px,#ff0e00 13px,#ffc200 42px,#faf901 57px,#d1f40b 63px,#40df39 70px,#0dd56a 75px,#00c39d 79px,#00acb9 81px,#0052ea 85px,#0036f5 87px,#001cdf 98px,#0006ab 109px,#00008c 114px,#00008c 152px)"></i>
<i style="left:386px;top:116.4px;width:2px;height:150.8px;background:linear-gradient(#fc0800 0px,#ff0e00 13px,#ffc200 42px,#faf901 57px,#cef40c 63px,#3cde3a 70px,#0cd46c 75px,#00cd91 78px,#00a9bb 81px,#0050eb 85px,#0036f4 87px,#001ee1 97px,#0007ad 108px,#00008c 113px,#00008c 151px)"></i>
<i style="left:388px;top:116.9px;width:2px;height:150.3px;background:linear-gradient(#fc0800 0px,#ff0e00 13px,#ffc200 42px,#faf901 57px,#d0f40c 63px,#3dde3a 70px,#0cd46c 75px,#00cc92 78px,#00a7bc 81px,#004eec 85px,#0035f4 87px,#001de0 97px,#0006a9 108px,#00008c 113px,#00008c 151px)"></i>
<i style="left:390px;top:117.5px;width:2px;height:149.7px;background:linear-gradient(#fc0800 0px,#ff0e00 13px,#ffc600 43px,#fbfa01 57px,#d1f40b 63px,#3dde3a 70px,#0cd46d 75px,#00cb93 78px,#00a4be 81px,#004bed 85px,#0039f4 86px,#001ee2 96px,#0006ac 107px,#00008c 112px,#00008c 150px)"></i>
<i style="left:392px;top:118.0px;width:2px;height:149.2px;background:linear-gradient(#fc0800 0px,#ff0e00 13px,#ffc500 43px,#fcfa01 57px,#d2f40b 63px,#3dde3a 70px,#0cd46e 75px,#00ca94 78px,#00a2bf 81px,#005ae6 84px,#0037f5 86px,#001de1 96px,#0007af 106px,#00008c 112px,#00008c 150px)"></i>
<i style="left:394px;top:118.6px;width:2px;height:148.6px;background:linear-gradient(#fc0800 0px,#ff0e00 13px,#ffc200 42px,#f9f901 57px,#d8f50a 62px,#9cec18 65px,#39dd3d 70px,#0bd371 75px,#00c798 78px,#009dc2 81px,#0057e8 84px,#0036f5 86px,#001cdf 96px,#0006ab 106px,#00008c 111px,#00008c 149px)"></i>
<i style="left:396px;top:119.2px;width:2px;height:148.0px;background:linear-gradient(#fc0800 0px,#fe0d00 12px,#ffc800 41px,#fcfa01 54px,#cff40c 60px,#45df37 67px,#0bd46f 73px,#00cc92 76px,#00abb9 79px,#0054e9 83px,#0036f5 85px,#001de0 95px,#0007af 105px,#00008c 111px,#00008c 149px)"></i>
<i style="left:398px;top:119.7px;width:2px;height:147.5px;background:linear-gradient(#fc0800 0px,#ff0f00 12px,#ffc300 38px,#fefa00 51px,#d5f50a 57px,#3dde3a 65px,#0bd371 71px,#00cb94 74px,#00abb9 77px,#0057e8 81px,#0037f5 83px,#001de0 94px,#0006ab 105px,#00008c 110px,#00008c 148px)"></i>
<i style="left:400px;top:120.2px;width:2px;height:146.9px;background:linear-gradient(#fc0800 0px,#ff0e00 11px,#ffc400 36px,#faf901 49px,#d9f50a 54px,#47e036 62px,#0ed568 68px,#00ca95 72px,#00acb9 75px,#004aed 80px,#0035f4 82px,#001de0 93px,#0007ae 104px,#00008c 109px,#00008c 147px)"></i>
<i style="left:402px;top:120.8px;width:2px;height:146.4px;background:linear-gradient(#fc0800 0px,#fe0c00 10px,#ffc400 34px,#fdfa00 46px,#d1f40b 52px,#41df38 60px,#09d375 67px,#00c0a1 71px,#00adb8 73px,#004eeb 78px,#0036f5 80px,#001de0 92px,#0008b2 103px,#00008c 109px,#00008c 147px)"></i>
<i style="left:404px;top:121.2px;width:2px;height:145.9px;background:linear-gradient(#fc0800 0px,#fe0c00 10px,#ffc700 34px,#f9f901 46px,#d7f50a 51px,#41df38 59px,#0cd46d 65px,#00c59b 69px,#00a0c1 72px,#0052ea 76px,#0037f5 78px,#001de0 91px,#0008b5 102px,#00008c 108px,#00008c 146px)"></i>
<i style="left:406px;top:121.8px;width:2px;height:145.4px;background:linear-gradient(#fc0800 0px,#fe0d00 10px,#ff8f00 26px,#ffde00 38px,#f7f902 46px,#d2f40b 51px,#45df36 58px,#0bd470 64px,#00c0a1 68px,#00a7bc 70px,#0063e3 73px,#003af4 76px,#001ee3 89px,#0008b2 102px,#00008c 108px,#00008c 146px)"></i>
<i style="left:408px;top:122.2px;width:2px;height:144.9px;background:linear-gradient(#fc0800 0px,#fe0d00 10px,#ffc400 33px,#fbfa01 45px,#cbf30d 51px,#49e035 57px,#0ed666 62px,#00c59a 66px,#00aeb7 68px,#0065e2 71px,#0036f5 75px,#001bdd 90px,#0008b5 101px,#00008c 107px,#00008c 145px)"></i>
<i style="left:410px;top:122.7px;width:2px;height:144.5px;background:linear-gradient(#fc0800 0px,#fe0d00 10px,#ffc500 33px,#f9f901 45px,#d7f50a 50px,#3ade3c 57px,#09d375 62px,#00c19f 65px,#00a4be 67px,#005de5 70px,#0038f5 73px,#001de0 88px,#0008b2 101px,#00008c 107px,#00008c 145px)"></i>
<i style="left:412px;top:123.0px;width:2px;height:144.2px;background:linear-gradient(#fc0800 0px,#ff0e00 10px,#ffc100 32px,#fefa00 44px,#cff40c 50px,#3fde39 56px,#0ed666 60px,#00cd91 63px,#009ec2 66px,#0065e2 68px,#0037f5 72px,#001cde 88px,#0009b7 100px,#00008c 106px,#00008c 145px)"></i>
<i style="left:414px;top:123.4px;width:2px;height:143.8px;background:linear-gradient(#fc0800 0px,#ff0e00 10px,#ffc300 32px,#fbf901 44px,#d8f50a 49px,#acee14 51px,#46df36 55px,#0fd665 59px,#00cc93 62px,#00b0b5 64px,#0061e4 67px,#0036f5 71px,#001ee1 86px,#0008b4 100px,#00008c 106px,#00008c 144px)"></i>
<i style="left:416px;top:123.7px;width:2px;height:143.5px;background:linear-gradient(#fc0800 0px,#ff0f00 10px,#ffc500 32px,#fffa00 43px,#d2f40b 49px,#38dd3e 55px,#0fd664 58px,#00ca94 61px,#00acb8 63px,#0070dd 65px,#003bf3 69px,#001ee2 85px,#0009b9 99px,#00008c 106px,#00008c 144px)"></i>
<i style="left:418px;top:124.1px;width:2px;height:143.1px;background:linear-gradient(#fc0800 0px,#ff0f00 10px,#ffc000 31px,#fcfa01 43px,#cbf30d 49px,#3cde3a 54px,#0ad373 58px,#00c996 60px,#00a6bd 62px,#0064e2 64px,#0039f4 68px,#001ee3 84px,#0008b6 99px,#00008c 106px,#00008c 144px)"></i>
<i style="left:420px;top:124.9px;width:2px;height:142.3px;background:linear-gradient(#fc0800 0px,#fe0b00 9px,#ff8400 23px,#ffd700 34px,#fefa00 42px,#cdf30c 48px,#39dd3d 53px,#0dd569 56px,#01ce8e 58px,#00aeb6 60px,#0069e0 62px,#0036f5 67px,#001de0 84px,#0009b7 98px,#00008c 105px,#00008c 143px)"></i>
<i style="left:422px;top:125.7px;width:2px;height:141.5px;background:linear-gradient(#fc0800 0px,#fe0c00 9px,#ffc200 30px,#fffa00 41px,#cff40c 47px,#35dd40 52px,#0bd371 55px,#00c699 57px,#0098c6 59px,#0073dc 60px,#0053e9 62px,#0035f4 66px,#001cdf 83px,#0009b9 97px,#00008c 104px,#00008c 142px)"></i>
<i style="left:424px;top:126.5px;width:2px;height:140.6px;background:linear-gradient(#fc0800 0px,#ff0e00 9px,#ffc500 29px,#fff900 39px,#d4f50b 45px,#bef110 46px,#56e22f 49px,#29db4c 51px,#06d080 54px,#00b8ab 56px,#007ad8 58px,#0060e4 59px,#0038f5 63px,#001ee1 81px,#0009ba 96px,#00008c 103px,#00008c 141px)"></i>
<i style="left:426px;top:127.4px;width:2px;height:139.8px;background:linear-gradient(#fc0800 0px,#fe0c00 8px,#ff7a00 19px,#ffd400 29px,#fdfa00 37px,#d9f509 42px,#caf30d 43px,#4ce034 47px,#15d75e 50px,#00ca95 53px,#00a2bf 55px,#0062e3 57px,#0036f5 62px,#001cde 81px,#0008b4 96px,#00008c 102px,#00008c 140px)"></i>
<i style="left:428px;top:128.2px;width:2px;height:139.0px;background:linear-gradient(#fe0b00 0px,#fe0d00 7px,#ffc600 25px,#fff800 34px,#d5f50b 40px,#9eec17 42px,#47e035 45px,#0cd46d 49px,#00cd90 51px,#00aeb7 53px,#006ddf 55px,#0038f5 60px,#001ee1 79px,#0009ba 95px,#00008c 102px,#00008c 140px)"></i>
<i style="left:430px;top:129.0px;width:2px;height:138.2px;background:linear-gradient(#ff1400 0px,#ff1400 6px,#ffbf00 22px,#fff500 31px,#dbf609 37px,#cff40c 38px,#48e035 43px,#0ed567 47px,#00c798 50px,#00a7bc 52px,#0067e1 54px,#0038f5 59px,#001de0 79px,#0009b9 95px,#00008c 102px,#00008c 139px)"></i>
<i style="left:432px;top:129.7px;width:2px;height:137.5px;background:linear-gradient(#ff2000 0px,#ff2100 6px,#ffbf00 20px,#ffec00 27px,#f7f902 31px,#caf30d 36px,#4ae034 41px,#12d661 45px,#01ce8e 48px,#00a1bf 51px,#0066e1 53px,#0036f4 59px,#001ddf 79px,#0009b9 95px,#00008c 102px,#00008c 138px)"></i>
<i style="left:434px;top:130.5px;width:2px;height:136.7px;background:linear-gradient(#ff2c00 0px,#ff3200 6px,#ffbf00 18px,#ffed00 25px,#f5f903 29px,#d7f50a 33px,#39dd3d 40px,#0dd569 44px,#00cb93 47px,#009dc2 50px,#0065e2 52px,#0036f5 58px,#001de1 78px,#0009b8 95px,#00008c 102px,#00008c 137px)"></i>
<i style="left:436px;top:131.2px;width:2px;height:136.0px;background:linear-gradient(#ff3700 0px,#ff3800 5px,#ffbf00 16px,#ffe900 22px,#fbf901 26px,#d3f40b 31px,#3bde3b 38px,#0bd371 43px,#00c799 46px,#00afb6 48px,#0065e2 51px,#0036f5 57px,#001cde 79px,#0009b8 95px,#00008c 102px,#00008c 137px)"></i>
<i style="left:438px;top:131.9px;width:2px;height:135.3px;background:linear-gradient(#ff4600 0px,#ff4c00 5px,#ffbf00 14px,#ffea00 20px,#f9f901 24px,#cef40c 29px,#44df37 36px,#0bd46f 42px,#00c29f 46px,#00adb8 48px,#006ae0 51px,#0036f5 57px,#001cde 79px,#0009b7 95px,#00008c 101px,#00008c 136px)"></i>
<i style="left:440px;top:132.6px;width:2px;height:134.6px;background:linear-gradient(#ff5400 0px,#ff5800 3px,#ffc200 12px,#fff500 20px,#e2f607 25px,#b9f011 28px,#44df37 35px,#0cd46d 42px,#00c1a0 47px,#009fc1 50px,#0065e2 53px,#0036f4 59px,#001cdf 79px,#0009b8 95px,#00008c 102px,#00008c 135px)"></i>
<i style="left:442px;top:133.1px;width:2px;height:134.1px;background:linear-gradient(#ff6b00 0px,#ffcf00 10px,#fff900 18px,#daf509 23px,#57e22f 32px,#2fdc46 36px,#0bd46f 42px,#00c699 47px,#00a4be 51px,#005ae6 56px,#0035f4 61px,#001cdf 80px,#0009b9 95px,#00008c 102px,#00008c 135px)"></i>
<i style="left:444px;top:133.6px;width:2px;height:133.6px;background:linear-gradient(#ff9d00 0px,#ffe200 10px,#f7f902 16px,#d8f50a 20px,#63e42b 29px,#33dc42 34px,#0bd371 42px,#00c49c 48px,#009ac4 53px,#004feb 59px,#0035f4 63px,#001cde 81px,#0009ba 95px,#00008c 102px,#00008c 134px)"></i>
<i style="left:446px;top:134.1px;width:2px;height:133.1px;background:linear-gradient(#ffd300 0px,#fefa00 8px,#d8f50a 13px,#82e81e 20px,#35dd41 29px,#0ad372 39px,#00c39d 46px,#00a3bf 51px,#0037f5 61px,#001de0 80px,#0009ba 95px,#00008c 102px,#00008c 134px)"></i>
<i style="left:448px;top:134.6px;width:2px;height:132.6px;background:linear-gradient(#ffc900 0px,#faf901 10px,#cef40c 15px,#5be22e 25px,#32dc43 30px,#0ad373 39px,#00c0a1 46px,#0099c5 51px,#0053e9 57px,#0037f5 60px,#001cdf 80px,#0009ba 95px,#00008c 102px,#00008c 133px)"></i>
<i style="left:450px;top:134.8px;width:2px;height:132.4px;background:linear-gradient(#ffc200 0px,#f9f901 11px,#ccf30d 16px,#57e22f 26px,#30dc46 31px,#0bd371 39px,#00c699 45px,#00a4be 50px,#0052ea 57px,#0035f4 61px,#001cdf 80px,#0008b4 96px,#00008c 102px,#00008c 133px)"></i>
<i style="left:452px;top:134.9px;width:2px;height:132.3px;background:linear-gradient(#ffbe00 0px,#fdfa00 11px,#d5f50a 16px,#71e625 24px,#32dc43 31px,#0ad374 40px,#00c49c 46px,#00a0c0 51px,#004eeb 58px,#0036f5 61px,#001de0 80px,#0009b7 96px,#00008c 102px,#00008c 133px)"></i>
<i style="left:454px;top:134.9px;width:2px;height:132.3px;background:linear-gradient(#ffba00 0px,#fff800 11px,#daf509 16px,#63e42a 25px,#33dc42 30px,#0ad372 38px,#00c29f 44px,#00a2bf 48px,#0057e8 54px,#0035f4 59px,#001de0 79px,#0009ba 96px,#00008c 103px,#00008c 133px)"></i>
<i style="left:456px;top:135.0px;width:2px;height:132.2px;background:linear-gradient(#ffb500 0px,#fff500 11px,#e7f706 15px,#d7f50a 17px,#50e132 25px,#1fd955 30px,#06d080 35px,#00c29e 38px,#00a3be 41px,#0060e4 45px,#0036f4 52px,#001de1 76px,#0008b6 97px,#00008c 104px,#00008c 133px)"></i>
<i style="left:458px;top:135.0px;width:2px;height:132.2px;background:linear-gradient(#ffae00 0px,#fff600 12px,#d3f40b 18px,#39de3d 25px,#0ad374 30px,#00c39d 33px,#00aaba 35px,#0063e3 38px,#0036f5 46px,#001cdf 75px,#0009b9 97px,#00008c 104px,#00008c 133px)"></i>
<i style="left:460px;top:135.1px;width:2px;height:132.1px;background:linear-gradient(#ffa700 0px,#ffe700 10px,#fcfa01 14px,#d1f40b 19px,#49e035 24px,#0ed666 28px,#00c898 31px,#00a8bc 33px,#0068e0 35px,#0036f4 44px,#001de1 73px,#000abc 97px,#00008c 104px,#00008c 133px)"></i>
<i style="left:462px;top:135.1px;width:2px;height:132.1px;background:linear-gradient(#ff9f00 0px,#ffdf00 9px,#fcfa01 15px,#d1f40c 20px,#48e035 24px,#0fd665 27px,#01cd8f 29px,#00a4be 31px,#0062e3 33px,#0036f4 42px,#001de0 73px,#0009b8 98px,#00008c 105px,#00008c 133px)"></i>
<i style="left:464px;top:135.2px;width:2px;height:132.0px;background:linear-gradient(#ff9700 0px,#ffe000 10px,#fbf901 16px,#d0f40c 21px,#afef13 22px,#57e22f 24px,#1fd955 26px,#04d084 28px,#00a7bc 30px,#0077d9 31px,#0061e3 32px,#0036f4 41px,#001de0 73px,#0008b6 99px,#00008c 106px,#00008c 133px)"></i>
<i style="left:466px;top:135.2px;width:2px;height:132.0px;background:linear-gradient(#ff8900 0px,#ffd500 9px,#faf901 17px,#d0f40c 22px,#afef13 23px,#5ae22e 25px,#37dd3f 26px,#0ed666 28px,#00c798 30px,#00b0b4 31px,#0063e3 33px,#0036f5 42px,#001de1 73px,#0009ba 99px,#00008c 106px,#00008c 132px)"></i>
<i style="left:468px;top:135.3px;width:2px;height:131.9px;background:linear-gradient(#ff7900 0px,#ffd500 10px,#fbf901 18px,#d2f40b 23px,#b6f012 24px,#3cde3a 27px,#14d75f 29px,#01ce8e 31px,#009bc3 33px,#006ddf 34px,#0049ed 39px,#0036f4 44px,#001de1 74px,#0009b7 100px,#00008c 106px,#00008c 132px)"></i>
<i style="left:470px;top:135.3px;width:2px;height:131.9px;background:linear-gradient(#ff6400 0px,#ffd200 11px,#fdfa01 19px,#d8f50a 24px,#c6f20e 25px,#56e22f 28px,#26da4e 30px,#0ad373 32px,#00c1a0 34px,#00adb8 35px,#0064e2 37px,#0037f5 45px,#001de0 76px,#000abc 100px,#00008c 107px,#00008c 132px)"></i>
<i style="left:472px;top:135.3px;width:2px;height:131.9px;background:linear-gradient(#ff5c00 0px,#ff6300 2px,#ffc600 11px,#fffa00 20px,#cef40c 26px,#4de033 30px,#15d75f 33px,#00c799 36px,#009ac4 38px,#0075db 39px,#0061e3 40px,#0036f5 48px,#001de0 77px,#0009b9 101px,#00008c 108px,#00008c 132px)"></i>
<i style="left:474px;top:135.4px;width:2px;height:131.8px;background:linear-gradient(#ff5400 0px,#ff5800 3px,#ffc200 12px,#ffef00 19px,#f3f803 23px,#d5f50a 27px,#bef110 28px,#48e035 31px,#0dd56b 34px,#00c69a 36px,#00b1b3 37px,#0064e2 39px,#0037f5 47px,#001de1 77px,#0009b7 102px,#00008c 108px,#00008c 132px)"></i>
<i style="left:476px;top:135.4px;width:2px;height:131.8px;background:linear-gradient(#ff4b00 0px,#ff4c00 4px,#ffbe00 13px,#ffe900 19px,#f5f902 24px,#d9f50a 28px,#caf30d 29px,#3fde39 32px,#0fd665 34px,#00c29f 36px,#00a3bf 37px,#006cdf 38px,#0037f5 46px,#001de1 77px,#0009bb 102px,#00008c 109px,#00008c 132px)"></i>
<i style="left:478px;top:135.4px;width:2px;height:131.8px;background:linear-gradient(#ff4400 0px,#ff4a00 5px,#ffbc00 14px,#ffe900 20px,#fefa00 24px,#cef40c 30px,#a5ed16 31px,#3ede39 33px,#0cd46c 35px,#02ce8b 36px,#00b6ad 37px,#0085d1 38px,#0062e3 39px,#0036f4 48px,#001de0 78px,#0009b9 103px,#00008c 110px,#00008c 132px)"></i>
<i style="left:480px;top:135.4px;width:2px;height:131.8px;background:linear-gradient(#ff3e00 0px,#ff4100 5px,#ffbe00 15px,#ffe900 21px,#f6f902 26px,#cff40c 31px,#a7ee15 32px,#3cde3a 34px,#0bd470 36px,#00cd91 37px,#00afb5 38px,#0076da 39px,#0061e4 40px,#0036f5 48px,#001de0 79px,#0008b6 104px,#00008c 111px,#00008c 132px)"></i>
<i style="left:482px;top:135.4px;width:2px;height:131.8px;background:linear-gradient(#ff3800 0px,#ff3900 5px,#ffc000 16px,#ffe900 22px,#f6f902 27px,#d0f40c 32px,#a9ee15 33px,#3ade3c 35px,#0ad374 37px,#00c897 38px,#00a6bd 39px,#0065e2 40px,#0036f5 49px,#001cdf 80px,#0009b9 104px,#00008c 111px,#00008c 132px)"></i>
<i style="left:484px;top:135.4px;width:2px;height:131.8px;background:linear-gradient(#ff3600 0px,#ff3600 5px,#ffbd00 16px,#ffe700 22px,#f9f901 27px,#d8f50a 32px,#c8f30e 33px,#58e22f 35px,#2fdc46 36px,#14d760 37px,#00bfa3 39px,#0063e3 41px,#0036f4 50px,#001de0 80px,#000abd 104px,#00008c 111px,#00008c 132px)"></i>
<i style="left:486px;top:135.5px;width:2px;height:131.7px;background:linear-gradient(#ff3400 0px,#ff3400 5px,#ffc400 17px,#ffef00 24px,#f5f902 28px,#cff40c 33px,#aaee15 34px,#40df38 36px,#0dd56b 38px,#02ce8b 39px,#00b5ae 40px,#0083d2 41px,#0062e3 42px,#0036f5 50px,#001de1 80px,#0009b9 105px,#00008c 112px,#00008c 132px)"></i>
<i style="left:488px;top:135.5px;width:2px;height:131.7px;background:linear-gradient(#ff3300 0px,#ff3300 5px,#ffc100 17px,#ffe900 23px,#f8f902 28px,#d6f50a 33px,#c5f20e 34px,#59e22e 36px,#32dc43 37px,#09d277 39px,#00c897 40px,#00acb9 41px,#0073dc 42px,#0060e4 43px,#0036f5 51px,#001cdf 82px,#000abc 105px,#00008c 112px,#00008c 132px)"></i>
<i style="left:490px;top:135.6px;width:2px;height:131.6px;background:linear-gradient(#ff3100 0px,#ff3100 5px,#ffbf00 17px,#ffe800 23px,#faf901 28px,#ccf30c 34px,#52e131 37px,#1ed956 39px,#04cf85 41px,#00a6bd 43px,#0076da 44px,#0061e4 45px,#0036f5 53px,#001de0 82px,#0009b8 106px,#00008c 113px,#00008c 132px)"></i>
<i style="left:492px;top:135.7px;width:2px;height:131.5px;background:linear-gradient(#ff3000 0px,#ff3000 5px,#ffbd00 17px,#ffe700 23px,#fcfa01 28px,#d2f40b 34px,#bcf110 35px,#4de033 38px,#0fd664 41px,#01cd8f 43px,#00a2bf 45px,#007ad8 46px,#0062e3 47px,#0036f4 55px,#001de0 83px,#0009bb 106px,#00008c 113px,#00008c 132px)"></i>
<i style="left:494px;top:135.8px;width:2px;height:131.4px;background:linear-gradient(#ff2f00 0px,#ff3600 6px,#ffbb00 17px,#ffe600 23px,#f7f902 29px,#d7f50a 34px,#c8f30e 35px,#49e035 39px,#14d75f 42px,#00c897 45px,#009fc1 47px,#0062e3 49px,#0036f4 57px,#001ee2 83px,#0009b7 107px,#00008c 113px,#00008c 132px)"></i>
<i style="left:496px;top:135.8px;width:2px;height:131.3px;background:linear-gradient(#ff2e00 0px,#ff3500 6px,#ffc300 18px,#ffed00 25px,#f9f902 29px,#cef40c 35px,#46df36 40px,#0dd56a 44px,#00c39d 47px,#009dc2 49px,#0063e3 51px,#0037f5 58px,#001cdf 86px,#0009ba 107px,#00008c 114px,#00008c 132px)"></i>
<i style="left:498px;top:135.9px;width:2px;height:131.2px;background:linear-gradient(#ff2900 0px,#ff2d00 6px,#ffba00 18px,#ffe500 24px,#f9f901 30px,#d0f40c 36px,#3ade3c 42px,#0bd46f 46px,#00c29f 49px,#009ec2 51px,#0064e2 53px,#0037f5 60px,#001de1 86px,#0009b7 108px,#00008c 114px,#00008c 132px)"></i>
<i style="left:500px;top:136.1px;width:2px;height:131.1px;background:linear-gradient(#ff2000 0px,#ff2100 6px,#ffbf00 20px,#ffeb00 27px,#f8f902 32px,#cef40c 38px,#39de3d 44px,#0bd46f 48px,#00c29e 51px,#00a1c0 53px,#0065e2 55px,#0037f5 62px,#001ee1 87px,#0009bb 108px,#00008c 115px,#00008c 132px)"></i>
<i style="left:502px;top:136.2px;width:2px;height:131.0px;background:linear-gradient(#ff1700 0px,#ff1700 6px,#ffc300 22px,#ffec00 29px,#f7f902 34px,#cdf30c 40px,#38dd3d 46px,#0bd470 50px,#00c19f 53px,#009ec2 55px,#0064e2 57px,#0036f5 64px,#001ddf 89px,#0009b7 109px,#00008c 115px,#00008c 132px)"></i>
<i style="left:504px;top:136.2px;width:2px;height:130.9px;background:linear-gradient(#ff0f00 0px,#ff1300 7px,#ffbe00 23px,#ffe900 30px,#fbfa01 35px,#ccf30d 42px,#4be034 47px,#11d662 51px,#00cd90 54px,#00b2b2 56px,#0063e3 59px,#0036f4 66px,#001de0 90px,#0009bb 109px,#00008c 116px,#00008c 131px)"></i>
<i style="left:506px;top:136.3px;width:2px;height:130.8px;background:linear-gradient(#fd0a00 0px,#fd0a00 7px,#ff7100 17px,#ffca00 26px,#fff200 34px,#f4f903 38px,#d8f50a 43px,#b2ef13 45px,#4ae034 49px,#10d663 53px,#00cd91 56px,#00b1b4 58px,#0062e3 61px,#0037f5 67px,#001de0 91px,#0009b8 110px,#00008c 117px,#00008c 131px)"></i>
<i style="left:508px;top:136.4px;width:2px;height:130.8px;background:linear-gradient(#fd0900 0px,#ff0f00 8px,#ffc000 25px,#ffe900 32px,#f7f902 38px,#d4f40b 44px,#aaee15 46px,#37dd3e 51px,#0cd46d 55px,#00c799 58px,#00acb8 60px,#0062e3 63px,#0036f5 69px,#001de0 92px,#0009bb 110px,#00008c 117px,#00008c 131px)"></i>
<i style="left:510px;top:136.6px;width:2px;height:130.6px;background:linear-gradient(#fe0c00 0px,#fe0d00 7px,#ffc800 25px,#fff000 33px,#f2f803 38px,#d7f50a 43px,#9cec18 46px,#39dd3d 51px,#0bd470 56px,#00c896 59px,#00a0c0 62px,#0060e4 65px,#0036f4 71px,#001de0 93px,#0009b7 111px,#00008c 118px,#00008c 131px)"></i>
<i style="left:512px;top:136.9px;width:2px;height:130.3px;background:linear-gradient(#ff0f00 0px,#ff1500 7px,#ffc000 23px,#ffea00 30px,#f8f902 36px,#d8f50a 42px,#3ade3c 51px,#0ad372 57px,#00c29f 61px,#009bc3 64px,#0061e4 67px,#0037f5 72px,#001cde 95px,#0009ba 111px,#00008c 118px,#00008c 131px)"></i>
<i style="left:514px;top:137.2px;width:2px;height:130.0px;background:linear-gradient(#ff1600 0px,#ff1d00 7px,#ffc100 22px,#ffea00 29px,#f8f902 35px,#cdf30c 42px,#40df38 51px,#0cd46c 58px,#00c49c 63px,#0098c5 67px,#0063e3 70px,#0037f5 75px,#001de1 95px,#0008b5 112px,#00008c 119px,#00008c 131px)"></i>
<i style="left:516px;top:137.4px;width:2px;height:129.8px;background:linear-gradient(#ff1c00 0px,#ff1c00 6px,#ffc100 21px,#ffe700 27px,#f8f902 34px,#cff40c 41px,#45df36 51px,#0bd470 60px,#00c69a 65px,#00a5be 69px,#005be6 74px,#0037f5 78px,#001ee2 96px,#0009b8 112px,#00008c 119px,#00008c 130px)"></i>
<i style="left:518px;top:137.7px;width:2px;height:129.5px;background:linear-gradient(#ff2200 0px,#ff2400 6px,#ffc100 20px,#ffe700 26px,#f8f902 33px,#d1f40b 40px,#55e230 50px,#2cdb49 55px,#07d17b 63px,#00c1a0 68px,#00a1c0 72px,#0048ee 79px,#0035f4 82px,#001de0 98px,#0008b3 113px,#00008c 119px,#00008c 130px)"></i>
<i style="left:520px;top:138.0px;width:2px;height:129.2px;background:linear-gradient(#ff2700 0px,#ff2b00 6px,#ffc100 19px,#ffe700 25px,#f9f902 32px,#d4f50b 39px,#4ee133 51px,#20d954 58px,#05d083 66px,#00b7ac 72px,#0092c9 76px,#0036f5 84px,#001ee2 99px,#0008b6 113px,#00008c 120px,#00008c 130px)"></i>
<i style="left:522px;top:138.2px;width:2px;height:129.0px;background:linear-gradient(#ff2d00 0px,#ff3300 6px,#ffc100 18px,#ffe700 24px,#f9f901 31px,#d7f50a 38px,#63e42a 49px,#34dd42 55px,#08d278 66px,#00bfa2 73px,#009cc3 78px,#0036f4 87px,#001de0 101px,#0008b2 114px,#00008c 120px,#00008c 129px)"></i>
<i style="left:524px;top:138.5px;width:2px;height:128.7px;background:linear-gradient(#ff3200 0px,#ff3200 5px,#ffc000 17px,#ffe800 23px,#faf901 30px,#cef40c 38px,#5ae22e 50px,#2cdb49 57px,#09d277 67px,#00c29e 74px,#009cc3 80px,#0059e7 86px,#0036f5 89px,#001de1 102px,#0008b4 114px,#00008c 120px,#00008c 129px)"></i>
<i style="left:526px;top:138.6px;width:2px;height:128.6px;background:linear-gradient(#ff3700 0px,#ff3700 5px,#ffbe00 16px,#ffe700 22px,#fbfa01 29px,#d3f40b 37px,#62e32b 49px,#32dc43 56px,#0ad373 67px,#00c29e 75px,#009ec1 81px,#005ee5 87px,#0037f5 90px,#001de0 103px,#0009b8 114px,#00008c 121px,#00008c 129px)"></i>
<i style="left:528px;top:138.6px;width:2px;height:128.6px;background:linear-gradient(#ff3c00 0px,#ff3e00 5px,#ffbc00 15px,#ffe600 21px,#f8f902 29px,#cdf30c 37px,#59e22e 50px,#2fdc47 57px,#09d375 68px,#00c29f 76px,#00a0c0 82px,#0056e8 89px,#0039f4 91px,#001fe4 103px,#0008b5 115px,#00008c 122px,#00008c 129px)"></i>
<i style="left:530px;top:138.7px;width:2px;height:128.5px;background:linear-gradient(#ff4200 0px,#ff4600 5px,#ffc300 15px,#ffe600 20px,#f9f901 28px,#d2f40b 36px,#60e32b 49px,#33dc42 56px,#0ad372 68px,#00c29f 77px,#00a2bf 83px,#005ce6 90px,#0036f4 93px,#001de0 105px,#0008b2 116px,#00008c 122px,#00008c 129px)"></i>
<i style="left:532px;top:138.7px;width:2px;height:128.5px;background:linear-gradient(#ff4700 0px,#ff4d00 5px,#ffc000 14px,#ffe500 19px,#fbfa01 27px,#cdf30c 36px,#59e22e 50px,#30dc45 57px,#0ad374 69px,#00c29f 78px,#009bc3 85px,#0062e3 91px,#0037f5 94px,#001cdf 106px,#0007ae 117px,#00008c 122px,#00008c 129px)"></i>
<i style="left:534px;top:138.8px;width:2px;height:128.4px;background:linear-gradient(#ff4300 0px,#ff4800 5px,#ffc500 15px,#ffe600 20px,#faf901 28px,#d6f50a 36px,#67e429 49px,#34dd41 57px,#0ad373 70px,#00c39d 79px,#009ec1 86px,#0068e1 92px,#0039f4 95px,#001ee2 106px,#0007b0 117px,#00008c 123px,#00008c 129px)"></i>
<i style="left:536px;top:138.8px;width:2px;height:128.4px;background:linear-gradient(#ff4000 0px,#ff4400 5px,#ffc100 15px,#ffe500 20px,#f8f902 29px,#d3f40b 37px,#66e429 50px,#34dd42 58px,#0ad374 71px,#00c29e 80px,#009dc2 87px,#0066e1 93px,#0037f5 96px,#001de0 107px,#0006ac 118px,#00008c 123px,#00008c 129px)"></i>
<i style="left:538px;top:138.8px;width:2px;height:128.3px;background:linear-gradient(#ff3c00 0px,#ff3f00 5px,#ffbc00 15px,#ffe600 21px,#fbf901 29px,#d1f40b 38px,#5de32d 52px,#33dc43 59px,#09d375 72px,#00c49b 80px,#00a1c0 87px,#005ee5 94px,#003cf3 96px,#001ee2 107px,#0007ae 118px,#00008c 124px,#00008c 129px)"></i>
<i style="left:540px;top:138.9px;width:2px;height:128.3px;background:linear-gradient(#ff3900 0px,#ff3a00 5px,#ffb700 15px,#ffe500 21px,#f9f901 30px,#cff40c 39px,#5be22e 53px,#2ddb48 61px,#09d277 73px,#00c29e 81px,#009dc2 88px,#0065e2 94px,#0036f5 97px,#001cdf 108px,#0007b1 118px,#00008c 124px,#00008c 129px)"></i>
<i style="left:542px;top:138.9px;width:2px;height:128.2px;background:linear-gradient(#ff3600 0px,#ff3600 5px,#ffbd00 16px,#ffe600 22px,#f8f902 31px,#cdf30c 40px,#59e22e 54px,#30dc45 61px,#09d375 73px,#00c59b 81px,#00a1c0 88px,#005ce6 95px,#003af4 97px,#001de1 108px,#0006ac 119px,#00008c 124px,#00008c 129px)"></i>
<i style="left:544px;top:139.0px;width:2px;height:128.2px;background:linear-gradient(#ff4000 0px,#ff4400 5px,#ffc100 15px,#ffe500 20px,#fbf901 29px,#d5f50b 38px,#61e32b 52px,#32dc44 60px,#0bd371 72px,#00c59b 81px,#00a3be 88px,#0063e3 95px,#0036f5 98px,#001ee2 108px,#0007af 119px,#00008c 125px,#00008c 129px)"></i>
<i style="left:546px;top:139.1px;width:2px;height:128.1px;background:linear-gradient(#ff4b00 0px,#ff4b00 4px,#ffbd00 13px,#ffe700 19px,#f8f902 28px,#d0f40c 37px,#5ae22e 52px,#2fdc46 60px,#09d277 73px,#00c59b 81px,#009dc2 89px,#0069e0 95px,#0038f5 98px,#001de0 109px,#0007b1 119px,#00008c 125px,#00008c 129px)"></i>
<i style="left:548px;top:139.1px;width:2px;height:128.1px;background:linear-gradient(#ff5600 0px,#ff5f00 3px,#ffc600 12px,#ffe600 17px,#faf901 26px,#d7f50a 35px,#61e32b 50px,#30dc45 59px,#0ad374 72px,#00c1a0 82px,#009ec2 89px,#0060e4 96px,#0036f4 99px,#001ee1 109px,#0007ad 120px,#00008c 125px,#00008c 129px)"></i>
<i style="left:550px;top:139.2px;width:2px;height:128.0px;background:linear-gradient(#ff6000 0px,#ff6e00 2px,#ffcc00 11px,#ffea00 17px,#f9f902 25px,#cbf30d 35px,#5ce32d 50px,#31dc44 58px,#09d375 72px,#00c1a0 82px,#00a0c1 89px,#0066e2 96px,#0036f5 99px,#001cdf 110px,#0006a8 121px,#00008c 126px,#00008c 129px)"></i>
<i style="left:552px;top:139.3px;width:2px;height:127.9px;background:linear-gradient(#ff6700 0px,#ffcd00 10px,#ffec00 17px,#f6f902 25px,#cff40c 34px,#60e32c 49px,#31dc45 58px,#09d375 72px,#00c19f 82px,#009ac4 90px,#006ae0 96px,#003af4 99px,#001de0 110px,#0008b2 120px,#00008c 126px,#00008c 128px)"></i>
<i style="left:554px;top:139.3px;width:2px;height:127.9px;background:linear-gradient(#ff7800 0px,#ffcd00 9px,#ffe900 15px,#fbf901 23px,#d2f40b 33px,#57e22f 50px,#2cdb49 59px,#08d279 73px,#00c29f 82px,#009cc3 90px,#0062e3 97px,#0036f4 100px,#001ee1 110px,#0007ad 121px,#00008c 126px,#00008c 128px)"></i>
<i style="left:556px;top:139.4px;width:2px;height:127.8px;background:linear-gradient(#ff8700 0px,#ffdb00 10px,#f8f902 23px,#ccf30d 33px,#55e230 50px,#2fdc46 58px,#09d375 72px,#00c29e 82px,#009ec2 90px,#0067e1 97px,#0037f5 100px,#001cdf 111px,#0007af 121px,#00008c 127px,#00008c 128px)"></i>
<i style="left:558px;top:139.5px;width:2px;height:127.7px;background:linear-gradient(#ff9600 0px,#ffe000 10px,#f9f902 22px,#d0f40c 32px,#59e22e 49px,#31dc44 57px,#09d375 72px,#00c39e 82px,#00a0c1 90px,#006ae0 97px,#003bf3 100px,#001fe4 110px,#0006ab 122px,#00008c 127px,#00008c 128px)"></i>
<i style="left:560px;top:139.4px;width:2px;height:127.8px;background:linear-gradient(#ff9a00 0px,#ffe100 10px,#f8f902 22px,#cdf30c 32px,#5ee32c 48px,#31dc44 57px,#09d375 72px,#00c49c 82px,#009bc3 91px,#0065e2 98px,#0036f5 101px,#001cde 112px,#0005a7 123px,#00008c 128px)"></i>
<i style="left:562px;top:139.3px;width:2px;height:127.9px;background:linear-gradient(#ff8200 0px,#ffd900 10px,#f9f901 23px,#d0f40c 33px,#59e22e 50px,#32dc44 58px,#09d375 73px,#00c39e 83px,#0099c5 92px,#005de5 99px,#003bf3 101px,#001fe4 111px,#0006ab 123px,#00008c 128px)"></i>
<i style="left:564px;top:139.2px;width:2px;height:128.0px;background:linear-gradient(#ff6600 0px,#ffcc00 10px,#ffe900 16px,#fbf901 24px,#d3f40b 34px,#5ae22e 51px,#2edc47 60px,#09d276 74px,#00c59a 83px,#00a5bd 91px,#0066e1 99px,#0037f5 102px,#001ee3 112px,#0007af 123px,#00008c 129px)"></i>
<i style="left:566px;top:139.0px;width:2px;height:128.2px;background:linear-gradient(#ff5b00 0px,#ff6d00 3px,#ffce00 12px,#ffea00 18px,#f9f902 26px,#cdf30c 36px,#5be22e 52px,#32dc43 60px,#0ad372 74px,#00c59b 84px,#009bc4 93px,#005fe4 100px,#003cf3 102px,#001fe3 112px,#0007ae 123px,#00008c 129px)"></i>
<i style="left:568px;top:138.9px;width:2px;height:128.3px;background:linear-gradient(#ff5100 0px,#ff5100 3px,#ffc700 13px,#ffe600 18px,#f7f902 28px,#d0f40c 37px,#5be22e 53px,#2edc47 62px,#0bd470 74px,#00c69a 84px,#009cc3 93px,#0060e4 100px,#003df2 102px,#001fe3 112px,#0005a7 124px,#00008c 129px)"></i>
<i style="left:570px;top:138.8px;width:2px;height:128.4px;background:linear-gradient(#ff4700 0px,#ff4d00 5px,#ffc000 14px,#ffe500 19px,#f8f902 29px,#d3f40b 38px,#61e32b 53px,#30dc45 62px,#0ad373 75px,#00c29e 85px,#009bc4 93px,#0069e0 99px,#0038f5 102px,#001cdf 113px,#0005a7 124px,#00008c 129px)"></i>
<i style="left:572px;top:138.6px;width:2px;height:128.6px;background:linear-gradient(#ff4100 0px,#ff4400 5px,#ffc100 15px,#ffe500 20px,#f8f902 30px,#d0f40c 39px,#5de32d 54px,#31dc44 62px,#0ad372 75px,#00c29e 85px,#0099c5 93px,#0065e2 99px,#0036f5 102px,#001cde 113px,#0007ad 123px,#00008c 129px)"></i>
<i style="left:574px;top:138.5px;width:2px;height:128.7px;background:linear-gradient(#ff3a00 0px,#ff3c00 5px,#ffb900 15px,#ffe500 21px,#fbf901 30px,#cef40c 40px,#60e32b 54px,#2fdc46 63px,#09d276 76px,#00c59a 84px,#009fc1 92px,#005fe4 99px,#0036f4 102px,#001ee1 112px,#0007ad 123px,#00008c 129px)"></i>
<i style="left:576px;top:138.3px;width:2px;height:128.9px;background:linear-gradient(#ff3400 0px,#ff3400 5px,#ffc400 17px,#ffe800 23px,#f6f902 32px,#d6f50a 40px,#64e42a 54px,#34dd42 62px,#0ad372 75px,#00c59a 84px,#009dc2 92px,#0069e0 98px,#0039f4 101px,#001de1 112px,#0007ad 123px,#00008c 129px)"></i>
<i style="left:578px;top:138.2px;width:2px;height:129.0px;background:linear-gradient(#ff2f00 0px,#ff3600 6px,#ffbb00 17px,#ffe500 23px,#faf901 32px,#d3f40b 41px,#59e22e 56px,#31dc44 63px,#0bd371 75px,#00c59b 84px,#00a4be 91px,#0065e2 98px,#0037f5 101px,#001de0 112px,#0008b4 122px,#00008c 128px,#00008c 130px)"></i>
<i style="left:580px;top:138.0px;width:2px;height:129.2px;background:linear-gradient(#ff2a00 0px,#ff2f00 6px,#ffbc00 18px,#ffe500 24px,#f9f901 33px,#d1f40b 42px,#62e32b 55px,#35dd41 62px,#0bd46f 74px,#00c59b 83px,#00a1c0 90px,#005be6 97px,#0036f4 100px,#001ee2 111px,#0007ad 123px,#00008c 129px,#00008c 130px)"></i>
<i style="left:582px;top:137.8px;width:2px;height:129.4px;background:linear-gradient(#ff2400 0px,#ff2800 6px,#ffbd00 19px,#ffe500 25px,#f9f902 34px,#cef40c 43px,#53e131 57px,#2bdb4a 64px,#08d279 75px,#00c39e 82px,#00a2bf 88px,#0059e7 95px,#0036f4 98px,#001cdf 111px,#0008b4 122px,#00008c 128px,#00008c 130px)"></i>
<i style="left:584px;top:137.6px;width:2px;height:129.6px;background:linear-gradient(#ff1f00 0px,#ff2000 6px,#ffbe00 20px,#ffe500 26px,#f8f902 35px,#d7f50a 43px,#5be22e 56px,#32dc43 62px,#09d375 73px,#00c0a1 81px,#0099c5 87px,#0036f4 96px,#001cdf 110px,#0008b4 122px,#00008c 128px,#00008c 130px)"></i>
<i style="left:586px;top:137.5px;width:2px;height:129.7px;background:linear-gradient(#ff1a00 0px,#ff1a00 6px,#ffbf00 21px,#ffe500 27px,#f8f902 36px,#d4f50b 44px,#52e131 57px,#2bdb4a 63px,#09d276 72px,#00c699 78px,#00a2bf 84px,#003af4 93px,#001ee2 108px,#0008b4 122px,#00008c 128px,#00008c 130px)"></i>
<i style="left:588px;top:137.3px;width:2px;height:129.9px;background:linear-gradient(#ff1500 0px,#ff1500 6px,#ffc100 22px,#ffe600 28px,#fbf901 36px,#d0f40c 45px,#3ede39 57px,#09d375 67px,#00c699 72px,#009ec2 77px,#005ce6 82px,#0037f5 86px,#001ee2 105px,#0008b4 122px,#00008c 128px,#00008c 130px)"></i>
<i style="left:590px;top:137.0px;width:2px;height:130.2px;background:linear-gradient(#ff1300 0px,#ff1900 7px,#ffc500 23px,#ffe700 29px,#f8f902 37px,#d3f40b 45px,#3ade3c 55px,#0ad373 62px,#00c59a 66px,#0099c5 70px,#0063e3 73px,#0037f5 79px,#001cdf 103px,#0008b5 122px,#00008c 128px,#00008c 131px)"></i>
<i style="left:592px;top:136.8px;width:2px;height:130.4px;background:linear-gradient(#ff1000 0px,#ff1500 7px,#ffc100 23px,#ffe600 29px,#faf901 37px,#ccf30d 46px,#46df36 52px,#0dd56b 57px,#00cb94 60px,#009fc1 63px,#006ae0 65px,#0036f5 73px,#001de0 100px,#0008b6 122px,#00008c 129px,#00008c 131px)"></i>
<i style="left:594px;top:136.4px;width:2px;height:130.8px;background:linear-gradient(#ff0e00 0px,#ff1100 7px,#ffc500 24px,#ffe700 30px,#f8f902 38px,#cff40c 46px,#c0f20f 47px,#4ae034 51px,#0dd56a 55px,#02ce8c 57px,#00b2b2 59px,#0077d9 61px,#0062e3 62px,#0036f5 70px,#001de1 98px,#0009b7 122px,#00008c 128px,#00008c 131px)"></i>
<i style="left:596px;top:136.1px;width:2px;height:131.1px;background:linear-gradient(#fe0c00 0px,#ff0e00 7px,#ffc900 25px,#ffec00 32px,#f9f901 38px,#d2f40b 46px,#c6f20e 47px,#4de033 50px,#1ed956 52px,#05d081 54px,#00b1b3 56px,#0064e2 58px,#0036f4 67px,#001de0 97px,#0009b8 122px,#00008c 129px,#00008c 132px)"></i>
<i style="left:598px;top:135.8px;width:2px;height:131.3px;background:linear-gradient(#fd0a00 0px,#fe0c00 7px,#ff7f00 18px,#ffd400 27px,#fcfa01 38px,#ccf30d 47px,#afef13 48px,#3bde3b 51px,#09d375 54px,#02ce8c 55px,#00a2bf 57px,#0077da 58px,#0061e3 59px,#0036f5 67px,#001de1 97px,#0009b9 122px,#00008c 129px,#00008c 132px)"></i>
<i style="left:600px;top:135.6px;width:2px;height:131.6px;background:linear-gradient(#fd0900 0px,#ff0f00 8px,#ffc000 25px,#ffe500 31px,#f9f901 39px,#cff40c 47px,#bcf110 48px,#4ae034 51px,#0ed568 54px,#00ca95 56px,#0096c6 58px,#006be0 59px,#0036f5 68px,#001de0 98px,#0009b9 122px,#00008c 129px,#00008c 132px)"></i>
<i style="left:602px;top:135.3px;width:2px;height:131.9px;background:linear-gradient(#fc0800 0px,#fe0d00 8px,#ffc500 26px,#ffea00 33px,#fbf901 39px,#d2f40b 47px,#c6f20e 48px,#57e22f 51px,#27da4e 53px,#0ad372 55px,#00c29e 57px,#00afb5 58px,#0064e2 60px,#0037f5 68px,#001cdf 99px,#0009b9 122px,#00008c 129px,#00008c 132px)"></i>
<i style="left:604px;top:135.1px;width:2px;height:132.1px;background:linear-gradient(#fc0800 0px,#fe0c00 8px,#ffc100 26px,#ffe900 33px,#f8f902 40px,#d6f50a 47px,#caf30d 48px,#44df37 52px,#0ed567 55px,#00cd90 57px,#00a5bd 59px,#0063e3 61px,#0036f5 69px,#001de1 98px,#0009b9 122px,#00008c 129px,#00008c 133px)"></i>
<i style="left:606px;top:134.9px;width:2px;height:132.3px;background:linear-gradient(#fc0800 0px,#fe0c00 8px,#ff7a00 19px,#ffd400 29px,#faf901 40px,#cdf30c 48px,#b6f012 49px,#50e132 52px,#26da4f 54px,#04d084 57px,#00b5ae 59px,#0075db 61px,#0061e4 62px,#0036f4 70px,#001de1 98px,#0009b9 122px,#00008c 129px,#00008c 133px)"></i>
<i style="left:608px;top:134.6px;width:2px;height:132.6px;background:linear-gradient(#fc0800 0px,#fe0b00 8px,#ff6c00 18px,#ffca00 28px,#ffec00 35px,#f7f902 41px,#d0f40c 48px,#c0f10f 49px,#3fde39 53px,#0fd665 56px,#00c1a0 59px,#00b0b5 60px,#006ae0 62px,#0037f5 70px,#001de0 99px,#0009b9 122px,#00008c 129px,#00008c 133px)"></i>
<i style="left:610px;top:134.3px;width:2px;height:132.9px;background:linear-gradient(#fc0800 0px,#fe0b00 8px,#ff7e00 20px,#ffd500 30px,#f9f902 41px,#d5f50b 48px,#c8f30e 49px,#4fe133 53px,#19d85a 56px,#01ce8e 59px,#00afb5 61px,#006fde 63px,#0053e9 66px,#0036f4 72px,#001de1 99px,#0009ba 122px,#00008c 129px,#00008c 133px)"></i>
<i style="left:612px;top:134.0px;width:2px;height:133.2px;background:linear-gradient(#fc0800 0px,#fe0b00 8px,#ff7e00 20px,#ffd500 30px,#f8f902 41px,#d2f40b 48px,#c4f20e 49px,#53e131 53px,#2ddb48 55px,#0bd371 58px,#00cc92 60px,#00afb6 62px,#0074db 64px,#0061e3 65px,#0037f5 72px,#001de0 100px,#0009bb 122px,#00008c 129px,#00008c 134px)"></i>
<i style="left:614px;top:133.6px;width:2px;height:133.6px;background:linear-gradient(#fc0800 0px,#fe0b00 8px,#ff6a00 18px,#ffc800 28px,#ffef00 36px,#f7f902 41px,#ccf30d 48px,#3bde3b 54px,#08d278 59px,#00bba7 62px,#0093c8 64px,#0062e3 66px,#0036f4 74px,#001cdf 101px,#0009bb 122px,#00008c 129px,#00008c 134px)"></i>
<i style="left:616px;top:133.2px;width:2px;height:134.0px;background:linear-gradient(#fc0800 0px,#fe0b00 8px,#ff7600 19px,#ffd100 29px,#fffa00 39px,#d3f40b 47px,#c6f20e 48px,#3cde3a 54px,#0bd371 59px,#00c59b 62px,#00acb8 64px,#0063e3 67px,#0037f5 74px,#001de0 101px,#000abc 122px,#00008c 129px,#00008c 134px)"></i>
<i style="left:618px;top:132.9px;width:2px;height:134.3px;background:linear-gradient(#fc0800 0px,#fe0b00 8px,#ff8300 20px,#ffd900 30px,#f8f902 40px,#cdf30c 47px,#3dde3a 54px,#0dd56b 59px,#00cd90 62px,#00abb9 65px,#0064e2 68px,#0037f5 75px,#001de1 101px,#0008b6 123px,#00008c 130px,#00008c 135px)"></i>
<i style="left:620px;top:132.6px;width:2px;height:134.6px;background:linear-gradient(#fc0800 0px,#fe0c00 8px,#ff7a00 19px,#ffd400 29px,#fbfa01 39px,#d5f50b 46px,#3ede39 54px,#0ad372 60px,#00bfa2 64px,#00a8bb 66px,#0065e2 69px,#0037f5 76px,#001de0 102px,#0008b6 123px,#00008c 130px,#00008c 135px)"></i>
<i style="left:622px;top:132.4px;width:2px;height:134.8px;background:linear-gradient(#fc0800 0px,#fe0c00 8px,#ffc900 27px,#fff000 35px,#f4f903 40px,#cff40c 46px,#3fde39 54px,#0cd46d 60px,#00c69a 64px,#00a4be 67px,#0065e2 70px,#0036f5 77px,#001de0 102px,#0008b6 123px,#00008c 130px,#00008c 135px)"></i>
<i style="left:624px;top:132.3px;width:2px;height:134.9px;background:linear-gradient(#fc0800 0px,#fe0d00 8px,#ffc400 26px,#ffea00 33px,#f7f902 39px,#d7f50a 45px,#3dde3a 54px,#0cd46c 60px,#00c996 64px,#00acb9 67px,#0061e4 71px,#0036f4 78px,#001de1 102px,#0008b5 123px,#00008c 130px,#00008c 135px)"></i>
<i style="left:626px;top:132.1px;width:2px;height:135.1px;background:linear-gradient(#fc0800 0px,#fe0d00 8px,#ffc400 26px,#ffea00 33px,#f7f902 39px,#d7f50a 45px,#3fde39 54px,#0dd56a 60px,#00c29e 65px,#009fc1 68px,#0064e2 71px,#0036f5 78px,#001cdf 103px,#0008b5 123px,#00008c 129px,#00008c 136px)"></i>
<i style="left:628px;top:131.9px;width:2px;height:135.3px;background:linear-gradient(#fc0800 0px,#fe0c00 8px,#ffc800 27px,#ffec00 34px,#faf901 39px,#d3f40b 46px,#3ade3c 55px,#0bd46f 61px,#00c699 65px,#00a7bc 68px,#005fe4 72px,#0035f4 79px,#001cdf 103px,#000abc 122px,#00008c 129px,#00008c 136px)"></i>
<i style="left:630px;top:131.8px;width:2px;height:135.4px;background:linear-gradient(#fc0800 0px,#fe0c00 8px,#ff6e00 18px,#ffcc00 28px,#fff800 38px,#cef40c 47px,#41df38 55px,#0dd56a 61px,#00c1a0 66px,#009cc3 69px,#0062e3 72px,#0036f4 79px,#001ddf 103px,#0009bb 122px,#00008c 129px,#00008c 136px)"></i>
<i style="left:632px;top:131.6px;width:2px;height:135.6px;background:linear-gradient(#fc0800 0px,#fe0b00 8px,#ff6a00 18px,#ffc800 28px,#ffef00 36px,#f6f902 41px,#d6f50a 47px,#3bde3b 56px,#0bd46f 62px,#00c59a 66px,#00a4be 69px,#0066e2 72px,#0036f5 79px,#001de0 103px,#0009bb 122px,#00008c 129px,#00008c 136px)"></i>
<i style="left:634px;top:131.4px;width:2px;height:135.8px;background:linear-gradient(#fc0800 0px,#fd0a00 8px,#ff7c00 20px,#ffd300 30px,#f9f902 41px,#d1f40c 48px,#42df37 56px,#0dd56a 62px,#00c0a1 67px,#0099c5 70px,#0061e4 73px,#0037f5 79px,#001de0 103px,#0008b5 123px,#00008c 129px,#00008c 136px)"></i>
<i style="left:636px;top:131.3px;width:2px;height:135.9px;background:linear-gradient(#fc0800 0px,#ff0f00 9px,#ffc100 28px,#ffeb00 36px,#f7f902 42px,#d8f50a 48px,#3bde3b 57px,#0bd46f 63px,#00c49b 67px,#00a1c0 70px,#0064e2 73px,#0036f4 80px,#001cdf 104px,#0009b7 123px,#00008c 130px,#00008c 136px)"></i>
<i style="left:638px;top:131.1px;width:2px;height:136.1px;background:linear-gradient(#fc0800 0px,#ff0e00 9px,#ffc500 29px,#fff000 38px,#f5f903 43px,#d4f40b 49px,#37dd3e 58px,#09d375 64px,#00bfa2 68px,#00aaba 70px,#006bdf 73px,#0036f5 80px,#001de0 104px,#0009ba 123px,#00008c 130px,#00008c 137px)"></i>
<i style="left:640px;top:130.9px;width:2px;height:136.3px;background:linear-gradient(#fc0800 0px,#fe0d00 9px,#ffca00 30px,#fff500 40px,#d8f50a 49px,#a8ee15 52px,#3bde3b 58px,#0bd371 64px,#00c29e 68px,#009cc3 71px,#0061e3 74px,#0037f5 80px,#001cdf 105px,#0008b6 124px,#00008c 131px,#00008c 137px)"></i>
<i style="left:642px;top:130.7px;width:2px;height:136.5px;background:linear-gradient(#fc0800 0px,#ff0e00 9px,#ffc600 29px,#ffed00 37px,#f9f901 42px,#d3f40b 49px,#40df38 57px,#0bd46f 63px,#00c39d 67px,#009cc3 70px,#0061e3 73px,#0036f4 80px,#001de0 104px,#0009b9 124px,#00008c 131px,#00008c 137px)"></i>
<i style="left:644px;top:130.4px;width:2px;height:136.8px;background:linear-gradient(#fc0800 0px,#ff0f00 9px,#ffc200 28px,#ffe800 35px,#f7f902 42px,#ccf30d 49px,#45df36 56px,#0cd46d 62px,#00c49c 66px,#009dc2 69px,#0061e3 72px,#0036f4 79px,#001de0 104px,#0008b5 125px,#00008c 132px,#00008c 137px)"></i>
<i style="left:646px;top:130.2px;width:2px;height:137.0px;background:linear-gradient(#fc0800 0px,#fd0a00 8px,#ff7d00 20px,#ffd400 30px,#f9f902 41px,#d2f40b 48px,#acee14 50px,#42df38 55px,#0dd56a 60px,#00cd90 63px,#00aaba 66px,#0063e2 69px,#0036f4 77px,#001cdf 104px,#0009b9 125px,#00008c 132px,#00008c 137px)"></i>
<i style="left:648px;top:130.0px;width:2px;height:137.2px;background:linear-gradient(#fc0800 0px,#fe0b00 8px,#ff7600 19px,#ffd100 29px,#fff900 39px,#d7f50a 47px,#b4f012 49px,#50e132 53px,#2edb47 55px,#08d27a 59px,#00b9a9 62px,#00acb9 63px,#0062e3 66px,#0036f4 74px,#001de0 102px,#000abc 125px,#00008c 132px,#00008c 138px)"></i>
<i style="left:650px;top:129.7px;width:2px;height:137.5px;background:linear-gradient(#fc0800 0px,#fe0c00 8px,#ff7a00 19px,#ffd400 29px,#f8f902 40px,#d1f40b 47px,#abee14 49px,#42df37 54px,#0dd569 59px,#00c49c 63px,#00adb8 65px,#0065e2 68px,#0036f5 76px,#001ddf 104px,#0009b8 126px,#00008c 133px,#00008c 138px)"></i>
<i style="left:652px;top:129.4px;width:2px;height:137.8px;background:linear-gradient(#fc0800 0px,#fe0c00 8px,#ff7c00 19px,#ffd600 29px,#fcfa01 39px,#cef40c 47px,#3cde3a 55px,#0bd470 61px,#00c39e 65px,#009cc3 68px,#0062e3 71px,#0036f5 78px,#001de0 105px,#000abc 126px,#00008c 134px,#00008c 138px)"></i>
<i style="left:654px;top:129.1px;width:2px;height:138.1px;background:linear-gradient(#fc0800 0px,#fe0c00 8px,#ff9000 21px,#ffdb00 30px,#f8f902 40px,#d1f40b 47px,#3bde3b 56px,#09d375 63px,#00c29e 67px,#00a2bf 70px,#0066e1 73px,#0036f4 81px,#001cdf 107px,#0009b9 127px,#00008c 134px,#00008c 139px)"></i>
<i style="left:656px;top:128.7px;width:2px;height:138.5px;background:linear-gradient(#fc0800 0px,#fe0c00 8px,#ff7a00 19px,#ffd400 29px,#f9f902 40px,#d3f40b 47px,#3bde3b 57px,#0bd470 64px,#00c29f 69px,#0094c8 73px,#0062e3 76px,#0036f4 83px,#001de1 107px,#0008b6 128px,#00008c 135px,#00008c 139px)"></i>
<i style="left:658px;top:128.4px;width:2px;height:138.8px;background:linear-gradient(#fc0800 0px,#fe0c00 8px,#ff8400 20px,#ffda00 30px,#f9f901 40px,#d5f50a 47px,#3ede39 57px,#0cd46c 64px,#00c699 69px,#009ec2 73px,#0068e0 76px,#0037f5 83px,#001de0 108px,#0009ba 128px,#00008c 135px,#00008c 139px)"></i>
<i style="left:660px;top:127.8px;width:2px;height:139.3px;background:linear-gradient(#fc0800 0px,#fe0b00 8px,#ffcb00 28px,#fff000 36px,#f6f902 41px,#cdf30c 48px,#45df36 57px,#0bd46f 65px,#00c49c 70px,#009ac4 74px,#0065e2 77px,#0036f5 84px,#001de0 109px,#0009b9 129px,#00008c 136px,#00008c 140px)"></i>
<i style="left:662px;top:127.2px;width:2px;height:140.0px;background:linear-gradient(#fc0800 0px,#fe0b00 8px,#ff7400 19px,#ffcf00 29px,#fff800 39px,#d3f40b 48px,#41df38 58px,#0bd371 66px,#00c39e 71px,#0099c5 75px,#0065e2 78px,#0036f5 85px,#001de0 110px,#0009b8 130px,#00008c 137px,#00008c 141px)"></i>
<i style="left:664px;top:126.4px;width:2px;height:140.8px;background:linear-gradient(#fc0800 0px,#fd0a00 8px,#ff7100 19px,#ffcc00 29px,#fff300 38px,#f1f803 43px,#cdf40c 49px,#3cde3a 59px,#0ad372 67px,#00c29f 72px,#0098c5 76px,#0065e2 79px,#0036f5 86px,#001de0 111px,#0009b8 131px,#00008c 138px,#00008c 141px)"></i>
<i style="left:666px;top:125.8px;width:2px;height:141.4px;background:linear-gradient(#fc0800 0px,#fd0a00 8px,#ff7100 19px,#ffcc00 29px,#fff300 38px,#f1f803 43px,#cef40c 49px,#4ee133 58px,#15d75e 65px,#00c898 72px,#00a6bd 76px,#0065e2 80px,#0036f5 87px,#001de0 112px,#0009b7 132px,#00008c 138px,#00008c 142px)"></i>
<i style="left:668px;top:125.0px;width:2px;height:142.1px;background:linear-gradient(#fc0800 0px,#fe0b00 8px,#ff7400 19px,#ffcf00 29px,#fff800 39px,#d5f50b 48px,#42df38 59px,#0dd569 67px,#00c699 73px,#00a7bc 77px,#0060e4 82px,#0037f5 88px,#001de0 113px,#0008b6 133px,#00008c 140px,#00008c 143px)"></i>
<i style="left:670px;top:124.4px;width:2px;height:142.8px;background:linear-gradient(#fc0800 0px,#fe0b00 8px,#ffcb00 28px,#ffef00 36px,#f6f902 41px,#cff40c 48px,#43df37 59px,#0cd46c 68px,#00c69a 74px,#009bc3 79px,#005be6 84px,#0036f4 90px,#001de0 114px,#0008b6 134px,#00008c 141px,#00008c 143px)"></i>
<i style="left:672px;top:123.7px;width:2px;height:143.5px;background:linear-gradient(#fc0800 0px,#fe0c00 8px,#ff9000 21px,#ffdb00 30px,#f9f902 40px,#d6f50a 47px,#44df37 59px,#0bd46f 69px,#00c59a 75px,#009ec2 80px,#005ee5 85px,#0036f5 91px,#001de0 115px,#0008b5 135px,#00008c 141px,#00008c 144px)"></i>
<i style="left:674px;top:123.0px;width:2px;height:144.2px;background:linear-gradient(#fc0800 0px,#fe0c00 8px,#ff9000 21px,#ffe000 31px,#f9f901 40px,#d7f50a 47px,#54e130 58px,#27da4e 64px,#09d277 71px,#00c0a1 77px,#00a1c0 81px,#0059e7 87px,#0035f4 93px,#001de0 116px,#0009bb 135px,#00008c 142px,#00008c 145px)"></i>
<i style="left:676px;top:122.3px;width:2px;height:144.9px;background:linear-gradient(#fc0800 0px,#fe0b00 8px,#ff8300 20px,#ffd900 30px,#fbf901 40px,#cff40c 48px,#5be22e 58px,#31dc44 63px,#0bd470 71px,#00c799 77px,#00a5be 82px,#005ce5 88px,#0036f4 94px,#001de0 117px,#0009ba 136px,#00008c 143px,#00008c 145px)"></i>
<i style="left:678px;top:122.3px;width:2px;height:144.8px;background:linear-gradient(#fc0800 0px,#fe0c00 8px,#ff8600 20px,#ffdb00 30px,#f9f901 40px,#d7f50a 47px,#5ae22e 58px,#31dc44 63px,#09d375 72px,#00c39d 78px,#009fc1 83px,#005ae7 89px,#0036f5 94px,#001cdf 118px,#0009bb 136px,#00008c 143px,#00008c 145px)"></i>
<i style="left:680px;top:122.4px;width:2px;height:144.8px;background:linear-gradient(#fc0800 0px,#fe0c00 8px,#ffc100 26px,#ffe900 33px,#f7f902 40px,#d3f40b 47px,#4fe132 59px,#27da4e 65px,#08d27a 73px,#00c0a1 79px,#009ac4 84px,#0057e8 90px,#0036f4 95px,#001ee1 117px,#000abc 136px,#00008c 143px,#00008c 145px)"></i>
<i style="left:682px;top:122.5px;width:2px;height:144.8px;background:linear-gradient(#fc0800 0px,#fe0d00 8px,#ffc400 26px,#ffea00 33px,#faf901 39px,#cff40c 47px,#4ee133 59px,#18d85c 68px,#00c897 78px,#00a0c0 84px,#0054e9 91px,#0036f4 96px,#001de0 118px,#000abc 136px,#00008c 144px,#00008c 145px)"></i>
<i style="left:684px;top:122.5px;width:2px;height:144.7px;background:linear-gradient(#fc0800 0px,#fe0d00 8px,#ffca00 27px,#ffec00 34px,#f7f902 40px,#d3f40b 47px,#52e131 59px,#1fd955 67px,#01ce8d 77px,#00a7bc 84px,#0059e7 91px,#0036f5 96px,#001bdd 120px,#0008b6 137px,#00008c 144px,#00008c 145px)"></i>
<i style="left:686px;top:121.6px;width:2px;height:145.6px;background:linear-gradient(#fc0800 0px,#fe0b00 8px,#ff7600 19px,#ffd100 29px,#fdfa00 40px,#d6f50a 48px,#5fe32c 59px,#31dc45 65px,#0ad372 74px,#00c39d 81px,#00a2bf 86px,#0056e8 93px,#0036f4 98px,#001ee1 119px,#0009b7 138px,#00008c 144px,#00008c 146px)"></i>
<i style="left:688px;top:120.7px;width:2px;height:146.5px;background:linear-gradient(#fc0800 0px,#ff0f00 9px,#ffc200 28px,#ffeb00 36px,#f9f901 42px,#cdf40c 50px,#59e22e 61px,#33dc43 66px,#09d375 76px,#00c0a1 83px,#009dc2 88px,#0052ea 95px,#0036f5 99px,#001cde 122px,#0009b7 139px,#00008c 145px,#00008c 147px)"></i>
<i style="left:690px;top:120.0px;width:2px;height:147.2px;background:linear-gradient(#fc0800 0px,#ff0e00 9px,#ffc300 29px,#ffea00 37px,#faf901 43px,#cff40c 51px,#4fe132 63px,#19d85b 72px,#00c49c 83px,#00a4be 88px,#004feb 96px,#0036f4 100px,#001ee1 121px,#0008b6 140px,#00008c 147px,#00008c 148px)"></i>
<i style="left:692px;top:119.5px;width:2px;height:147.7px;background:linear-gradient(#fc0800 0px,#fe0d00 9px,#ff8200 22px,#ffd800 33px,#faf901 44px,#cef40c 52px,#57e22f 63px,#31dc44 68px,#0ad373 77px,#00c798 83px,#009ec1 89px,#0052ea 96px,#0036f5 100px,#001bdd 124px,#000abc 140px,#00008c 147px,#00008c 148px)"></i>
<i style="left:694px;top:118.9px;width:2px;height:148.3px;background:linear-gradient(#fc0800 0px,#fe0c00 9px,#ff7300 21px,#ffd300 33px,#f9f901 45px,#cdf40c 53px,#4ce034 65px,#10d663 75px,#00c49b 84px,#00a4be 89px,#005ee5 95px,#0036f4 101px,#001de0 123px,#0009ba 141px,#00008c 148px,#00008c 149px)"></i>
<i style="left:696px;top:118.3px;width:2px;height:148.9px;background:linear-gradient(#fc0800 0px,#ff0f00 10px,#ffc200 31px,#ffef00 41px,#f9f902 46px,#cdf30c 54px,#53e131 65px,#24da51 72px,#06d17e 80px,#00c29f 85px,#009ec2 90px,#0059e7 96px,#0036f5 101px,#001de1 123px,#0009b8 142px,#00008c 149px)"></i>
<i style="left:698px;top:117.8px;width:2px;height:149.4px;background:linear-gradient(#fc0800 0px,#ff0e00 10px,#ffc300 32px,#ffef00 42px,#f4f903 48px,#ccf30d 55px,#48e035 67px,#0cd46d 78px,#00c59b 85px,#00a3be 90px,#005ce5 96px,#0036f4 102px,#001de0 124px,#0008b6 143px,#00008c 150px)"></i>
<i style="left:700px;top:117.3px;width:2px;height:149.9px;background:linear-gradient(#fc0800 0px,#fe0d00 10px,#ffc500 33px,#ffef00 43px,#f3f803 49px,#d6f50a 55px,#4ee133 67px,#20d954 74px,#05d083 82px,#00b6ad 88px,#0084d2 93px,#0058e7 97px,#0036f5 102px,#001ee1 124px,#0009bb 143px,#00008c 150px)"></i>
<i style="left:702px;top:116.8px;width:2px;height:150.4px;background:linear-gradient(#fc0800 0px,#fe0d00 10px,#ffc300 33px,#ffee00 43px,#f9f901 48px,#cdf30c 56px,#47e035 68px,#0cd46e 79px,#00c49c 86px,#00a1c0 91px,#005be6 97px,#0037f5 102px,#001cdf 126px,#0009b8 144px,#00008c 151px)"></i>
<i style="left:704px;top:116.3px;width:2px;height:150.8px;background:linear-gradient(#fc0800 0px,#fe0d00 10px,#ffc800 34px,#fffa00 47px,#cff40c 56px,#54e131 67px,#23da51 74px,#06d17f 82px,#00c0a1 87px,#0099c5 92px,#005ee5 97px,#0036f4 103px,#001de0 126px,#0008b6 145px,#00008c 151px)"></i>
<i style="left:706px;top:115.9px;width:2px;height:151.3px;background:linear-gradient(#fc0800 0px,#fe0c00 10px,#ffc700 34px,#fff900 47px,#d1f40b 56px,#42df38 69px,#0bd470 80px,#00c29e 87px,#009dc2 92px,#0059e7 98px,#0036f5 103px,#001cdf 127px,#0009bb 145px,#00008c 152px)"></i>
<i style="left:708px;top:115.4px;width:2px;height:151.8px;background:linear-gradient(#fc0800 0px,#fe0c00 10px,#ff8c00 26px,#ffdb00 38px,#f8f902 49px,#d3f40b 56px,#44df37 69px,#0cd46e 80px,#00c49c 87px,#00a2bf 92px,#005ce6 98px,#0036f4 104px,#001de0 127px,#0009ba 146px,#00018f 152px)"></i>
<i style="left:710px;top:115.0px;width:2px;height:152.2px;background:linear-gradient(#fc0800 0px,#fe0c00 10px,#ff7900 24px,#ffd500 37px,#f9f902 49px,#c9f30d 57px,#50e132 68px,#22d952 75px,#06d080 83px,#00c0a1 88px,#009ac4 93px,#0057e8 99px,#0036f5 104px,#001cdf 128px,#0009b7 147px,#00008d 153px)"></i>
<i style="left:712px;top:114.6px;width:2px;height:152.6px;background:linear-gradient(#fc0800 0px,#fe0c00 10px,#ff9900 28px,#ffe100 40px,#f9f901 49px,#d7f50a 56px,#5ce32d 67px,#2edb47 73px,#08d278 82px,#00c29f 88px,#009ec2 93px,#005ae6 99px,#0036f4 105px,#001de0 128px,#0008b5 148px,#000191 153px)"></i>
<i style="left:714px;top:114.1px;width:2px;height:153.1px;background:linear-gradient(#fc0800 0px,#fe0b00 10px,#ff9800 28px,#ffe000 40px,#faf901 49px,#d8f50a 56px,#54e130 68px,#2adb4b 74px,#09d276 82px,#00c39d 88px,#00a1bf 93px,#005de5 99px,#0036f4 105px,#001ddf 129px,#0009ba 148px,#00018f 154px)"></i>
<i style="left:716px;top:113.7px;width:2px;height:153.5px;background:linear-gradient(#fc0800 0px,#fe0b00 10px,#ff7600 24px,#ffd100 37px,#fbfa01 49px,#cef40c 57px,#56e230 68px,#30dc45 73px,#0ad374 82px,#00c59b 88px,#009ac4 94px,#0058e7 100px,#0036f5 105px,#001cdf 130px,#0009b8 149px,#000294 154px)"></i>
<i style="left:718px;top:113.3px;width:0px;height:153.9px;background:linear-gradient(#fc0800 0px,#ff0f00 11px,#ffc500 35px,#fff800 48px,#d1f40b 57px,#59e22f 68px,#32dc44 73px,#0ad372 82px,#00c798 88px,#009ec2 94px,#005be6 100px,#0036f4 106px,#001de0 130px,#0008b5 150px,#000298 154px)"></i>
</div>
<svg width="900" height="651" viewBox="0 0 900 651" font-family="Liberation Sans, Arial, sans-serif" fill="#000">
<polygon points="113.6,16.4 114.0,55.3 115.8,55.5 118.3,55.7 121.3,56.0 124.4,56.3 127.4,56.6 130.0,56.9 132.1,57.2 133.9,57.6 135.6,58.0 137.2,58.3 139.0,58.7 141.0,59.0 143.3,59.3 145.9,59.5 148.5,59.8 151.1,60.0 153.7,60.1 156.0,60.2 158.1,60.2 160.0,60.2 161.8,60.2 163.5,60.1 165.2,59.9 167.0,59.7 168.8,59.4 170.5,59.0 172.2,58.6 174.0,58.1 175.9,57.5 178.0,57.0 180.3,56.4 182.8,55.8 185.4,55.1 188.1,54.5 190.6,53.8 193.0,53.3 195.2,52.8 197.4,52.4 199.4,52.0 201.4,51.6 203.3,51.3 205.0,51.0 206.6,50.8 208.0,50.6 209.3,50.4 210.6,50.3 211.8,50.2 213.0,50.2 214.2,50.2 215.3,50.2 216.4,50.2 217.5,50.3 218.7,50.4 220.0,50.6 221.5,50.8 223.1,51.1 224.8,51.4 226.6,51.9 228.3,52.4 230.0,53.0 231.7,53.8 233.3,54.8 235.0,55.9 236.7,57.0 238.3,58.0 240.0,59.0 241.7,59.8 243.3,60.6 245.0,61.3 246.7,62.0 248.3,62.7 250.0,63.5 251.7,64.4 253.3,65.2 255.0,66.1 256.7,67.1 258.3,68.0 260.0,69.0 261.7,70.0 263.3,71.0 265.0,72.0 266.7,73.1 268.3,74.1 270.0,75.2 271.7,76.3 273.3,77.4 275.0,78.5 276.7,79.6 278.3,80.7 280.0,81.7 281.7,82.6 283.4,83.5 285.1,84.3 286.8,85.1 288.4,85.9 290.0,86.7 291.5,87.6 292.9,88.6 294.2,89.6 295.5,90.5 296.7,91.3 298.0,92.0 299.2,92.5 300.3,92.7 301.4,92.9 302.5,93.0 303.7,93.2 305.0,93.5 306.6,93.9 308.3,94.4 310.1,95.0 311.9,95.6 313.6,96.1 315.0,96.7 316.1,97.3 316.9,97.8 317.5,98.4 318.1,99.0 318.9,99.5 320.0,100.0 321.4,100.5 323.0,100.9 324.7,101.3 326.5,101.7 328.3,102.1 330.0,102.5 331.7,102.9 333.3,103.3 335.0,103.8 336.7,104.2 338.3,104.6 340.0,105.0 341.7,105.4 343.3,105.8 345.0,106.2 346.7,106.7 348.3,107.1 350.0,107.5 351.7,107.9 353.3,108.3 355.0,108.7 356.7,109.1 358.3,109.6 360.0,110.0 361.7,110.5 363.3,111.0 365.0,111.5 366.7,112.0 368.3,112.5 370.0,113.0 371.7,113.4 373.3,113.9 375.0,114.3 376.7,114.7 378.3,115.1 380.0,115.5 381.7,115.9 383.3,116.4 385.0,116.8 386.7,117.3 388.3,117.7 390.0,118.2 391.7,118.7 393.3,119.1 395.0,119.6 396.7,120.1 398.3,120.5 400.0,121.0 401.7,121.4 403.4,121.9 405.1,122.3 406.7,122.7 408.4,123.1 410.0,123.5 411.5,123.8 413.0,124.0 414.4,124.2 415.8,124.4 417.3,124.7 419.0,125.1 420.9,125.7 422.9,126.5 425.0,127.4 427.1,128.4 429.1,129.2 431.0,130.0 432.7,130.7 434.2,131.2 435.6,131.8 437.0,132.3 438.5,132.8 440.0,133.3 441.5,133.8 442.9,134.3 444.3,134.7 445.9,135.1 447.7,135.5 450.0,135.8 452.8,136.0 455.9,136.1 459.4,136.2 463.0,136.2 466.6,136.3 470.0,136.3 473.3,136.3 476.7,136.4 480.0,136.4 483.3,136.4 486.7,136.4 490.0,136.5 493.4,136.6 496.9,136.7 500.3,136.9 503.7,137.1 507.0,137.3 510.0,137.5 512.7,137.8 515.2,138.1 517.5,138.5 519.8,138.9 522.3,139.2 525.0,139.5 528.1,139.7 531.5,139.8 535.0,139.8 538.5,139.9 541.9,139.9 545.0,140.0 547.8,140.1 550.4,140.2 552.8,140.3 555.2,140.4 557.6,140.5 560.0,140.5 562.5,140.4 565.0,140.3 567.5,140.1 570.0,139.9 572.5,139.7 575.0,139.5 577.6,139.3 580.2,139.1 582.8,138.9 585.4,138.7 587.8,138.4 590.0,138.2 592.0,138.0 593.7,137.7 595.3,137.4 596.9,137.2 598.4,136.9 600.0,136.7 601.7,136.5 603.3,136.3 605.0,136.1 606.7,135.9 608.3,135.7 610.0,135.5 611.6,135.2 613.0,134.9 614.4,134.6 615.9,134.3 617.8,134.0 620.0,133.7 622.9,133.4 626.3,133.1 630.0,132.8 633.7,132.5 637.1,132.2 640.0,132.0 642.2,131.8 644.1,131.6 645.6,131.4 647.0,131.3 648.4,131.1 650.0,130.9 651.7,130.7 653.3,130.4 655.0,130.2 656.7,129.9 658.3,129.6 660.0,129.2 661.7,128.7 663.4,128.1 665.2,127.5 666.9,126.9 668.5,126.2 670.0,125.7 671.3,125.2 672.5,124.7 673.6,124.3 674.7,123.9 675.8,123.5 677.0,123.3 678.3,123.2 679.7,123.3 681.1,123.4 682.5,123.5 683.8,123.6 685.0,123.5 685.9,123.3 686.7,123.0 687.4,122.6 688.1,122.2 688.9,121.7 690.0,121.3 691.4,120.9 693.0,120.4 694.7,119.9 696.5,119.4 698.3,118.9 700.0,118.5 701.7,118.1 703.4,117.7 705.1,117.3 706.7,116.9 708.4,116.6 710.0,116.2 711.7,115.8 713.4,115.5 715.1,115.1 716.7,114.8 718.0,114.5 719.0,114.3 719.2,16.4" fill="#fff"/>
<polyline points="114.5,75.0 116.0,73.8 123.0,71.1 128.6,79.4 139.6,82.1 147.9,82.8 153.4,88.3 160.3,98.0 167.2,107.0 176.9,111.8 188.0,117.3 195.5,120.3 199.2,122.1 201.5,121.6 205.2,122.6" fill="none" stroke="#0a0a0a" stroke-width="1.35" stroke-linejoin="round"/>
<polyline points="243.0,134.0 246.2,135.0 254.5,141.4 259.7,145.0 273.5,134.8 279.0,135.8 299.6,158.7 315.6,164.5 324.3,147.0 331.6,150.0 343.3,155.8 350.6,152.9 366.6,160.2 370.0,162.0 379.8,166.3 386.0,166.9 394.6,170.0 403.2,161.3 410.5,162.0 424.0,162.0 427.7,158.9 441.3,149.0 445.0,144.1 446.8,137.4 449.9,140.5 456.0,142.3 468.3,147.8 478.1,154.0 483.3,156.4 497.9,158.7 508.0,167.5 518.3,163.0 532.9,157.3 543.1,160.2 550.4,154.3 560.6,150.0 570.8,157.3 588.4,164.5 611.6,167.5 626.2,163.1 640.8,166.0 652.3,161.3 666.0,159.8 673.7,155.2 683.0,153.6 701.3,156.7 718.0,155.2" fill="none" stroke="#0a0a0a" stroke-width="1.35" stroke-linejoin="round"/>
<polyline points="114.5,111.5 122.9,119.2 127.5,122.9 132.2,137.9 141.3,134.0 159.6,137.9 167.4,144.4 180.0,148.7 193.6,160.0 201.4,161.4 222.3,177.0 235.3,178.3 251.0,174.4 253.2,174.5 258.6,181.5 264.0,191.2" fill="none" stroke="#0a0a0a" stroke-width="1.35" stroke-linejoin="round"/>
<polyline points="308.6,212.2 323.1,216.5 326.3,215.9 328.0,210.5 333.1,186.4 337.5,187.9 346.2,195.2 357.9,198.0 369.5,199.5 384.0,199.5 395.8,202.0 410.4,192.3 428.0,183.5 438.1,182.0 445.4,190.8 449.8,189.3 454.1,190.8 458.5,173.3 464.3,166.0 468.7,169.0 473.1,174.8 477.5,173.3 489.1,177.7 500.8,190.8 512.5,202.5 524.1,222.9 535.8,231.6 547.5,234.5 567.9,238.9 579.6,236.0 586.9,227.2 592.7,202.5 597.1,193.7 608.7,196.6 623.3,202.5 640.8,204.5 646.1,201.2 648.6,195.0 656.9,204.2 667.6,205.8 689.0,213.4 701.3,212.5 718.0,211.9" fill="none" stroke="#0a0a0a" stroke-width="1.35" stroke-linejoin="round"/>
<text x="0" y="0" transform="translate(224.8 130.9) rotate(46)" font-size="18" text-anchor="middle" dominant-baseline="central" fill="#111" stroke="#111" stroke-width="0.3">2000</text>
<text x="0" y="0" transform="translate(283.6 207.6) rotate(31)" font-size="18" text-anchor="middle" dominant-baseline="central" fill="#111" stroke="#111" stroke-width="0.3">4000</text>
<clipPath id="pc"><rect x="114.6" y="0" width="604.6" height="300"/></clipPath>
<polyline clip-path="url(#pc)" points="114.0,55.3 115.8,55.5 118.3,55.7 121.3,56.0 124.4,56.3 127.4,56.6 130.0,56.9 132.1,57.2 133.9,57.6 135.6,58.0 137.2,58.3 139.0,58.7 141.0,59.0 143.3,59.3 145.9,59.5 148.5,59.8 151.1,60.0 153.7,60.1 156.0,60.2 158.1,60.2 160.0,60.2 161.8,60.2 163.5,60.1 165.2,59.9 167.0,59.7 168.8,59.4 170.5,59.0 172.2,58.6 174.0,58.1 175.9,57.5 178.0,57.0 180.3,56.4 182.8,55.8 185.4,55.1 188.1,54.5 190.6,53.8 193.0,53.3 195.2,52.8 197.4,52.4 199.4,52.0 201.4,51.6 203.3,51.3 205.0,51.0 206.6,50.8 208.0,50.6 209.3,50.4 210.6,50.3 211.8,50.2 213.0,50.2 214.2,50.2 215.3,50.2 216.4,50.2 217.5,50.3 218.7,50.4 220.0,50.6 221.5,50.8 223.1,51.1 224.8,51.4 226.6,51.9 228.3,52.4 230.0,53.0 231.7,53.8 233.3,54.8 235.0,55.9 236.7,57.0 238.3,58.0 240.0,59.0 241.7,59.8 243.3,60.6 245.0,61.3 246.7,62.0 248.3,62.7 250.0,63.5 251.7,64.4 253.3,65.2 255.0,66.1 256.7,67.1 258.3,68.0 260.0,69.0 261.7,70.0 263.3,71.0 265.0,72.0 266.7,73.1 268.3,74.1 270.0,75.2 271.7,76.3 273.3,77.4 275.0,78.5 276.7,79.6 278.3,80.7 280.0,81.7 281.7,82.6 283.4,83.5 285.1,84.3 286.8,85.1 288.4,85.9 290.0,86.7 291.5,87.6 292.9,88.6 294.2,89.6 295.5,90.5 296.7,91.3 298.0,92.0 299.2,92.5 300.3,92.7 301.4,92.9 302.5,93.0 303.7,93.2 305.0,93.5 306.6,93.9 308.3,94.4 310.1,95.0 311.9,95.6 313.6,96.1 315.0,96.7 316.1,97.3 316.9,97.8 317.5,98.4 318.1,99.0 318.9,99.5 320.0,100.0 321.4,100.5 323.0,100.9 324.7,101.3 326.5,101.7 328.3,102.1 330.0,102.5 331.7,102.9 333.3,103.3 335.0,103.8 336.7,104.2 338.3,104.6 340.0,105.0 341.7,105.4 343.3,105.8 345.0,106.2 346.7,106.7 348.3,107.1 350.0,107.5 351.7,107.9 353.3,108.3 355.0,108.7 356.7,109.1 358.3,109.6 360.0,110.0 361.7,110.5 363.3,111.0 365.0,111.5 366.7,112.0 368.3,112.5 370.0,113.0 371.7,113.4 373.3,113.9 375.0,114.3 376.7,114.7 378.3,115.1 380.0,115.5 381.7,115.9 383.3,116.4 385.0,116.8 386.7,117.3 388.3,117.7 390.0,118.2 391.7,118.7 393.3,119.1 395.0,119.6 396.7,120.1 398.3,120.5 400.0,121.0 401.7,121.4 403.4,121.9 405.1,122.3 406.7,122.7 408.4,123.1 410.0,123.5 411.5,123.8 413.0,124.0 414.4,124.2 415.8,124.4 417.3,124.7 419.0,125.1 420.9,125.7 422.9,126.5 425.0,127.4 427.1,128.4 429.1,129.2 431.0,130.0 432.7,130.7 434.2,131.2 435.6,131.8 437.0,132.3 438.5,132.8 440.0,133.3 441.5,133.8 442.9,134.3 444.3,134.7 445.9,135.1 447.7,135.5 450.0,135.8 452.8,136.0 455.9,136.1 459.4,136.2 463.0,136.2 466.6,136.3 470.0,136.3 473.3,136.3 476.7,136.4 480.0,136.4 483.3,136.4 486.7,136.4 490.0,136.5 493.4,136.6 496.9,136.7 500.3,136.9 503.7,137.1 507.0,137.3 510.0,137.5 512.7,137.8 515.2,138.1 517.5,138.5 519.8,138.9 522.3,139.2 525.0,139.5 528.1,139.7 531.5,139.8 535.0,139.8 538.5,139.9 541.9,139.9 545.0,140.0 547.8,140.1 550.4,140.2 552.8,140.3 555.2,140.4 557.6,140.5 560.0,140.5 562.5,140.4 565.0,140.3 567.5,140.1 570.0,139.9 572.5,139.7 575.0,139.5 577.6,139.3 580.2,139.1 582.8,138.9 585.4,138.7 587.8,138.4 590.0,138.2 592.0,138.0 593.7,137.7 595.3,137.4 596.9,137.2 598.4,136.9 600.0,136.7 601.7,136.5 603.3,136.3 605.0,136.1 606.7,135.9 608.3,135.7 610.0,135.5 611.6,135.2 613.0,134.9 614.4,134.6 615.9,134.3 617.8,134.0 620.0,133.7 622.9,133.4 626.3,133.1 630.0,132.8 633.7,132.5 637.1,132.2 640.0,132.0 642.2,131.8 644.1,131.6 645.6,131.4 647.0,131.3 648.4,131.1 650.0,130.9 651.7,130.7 653.3,130.4 655.0,130.2 656.7,129.9 658.3,129.6 660.0,129.2 661.7,128.7 663.4,128.1 665.2,127.5 666.9,126.9 668.5,126.2 670.0,125.7 671.3,125.2 672.5,124.7 673.6,124.3 674.7,123.9 675.8,123.5 677.0,123.3 678.3,123.2 679.7,123.3 681.1,123.4 682.5,123.5 683.8,123.6 685.0,123.5 685.9,123.3 686.7,123.0 687.4,122.6 688.1,122.2 688.9,121.7 690.0,121.3 691.4,120.9 693.0,120.4 694.7,119.9 696.5,119.4 698.3,118.9 700.0,118.5 701.7,118.1 703.4,117.7 705.1,117.3 706.7,116.9 708.4,116.6 710.0,116.2 711.7,115.8 713.4,115.5 715.1,115.1 716.7,114.8 718.0,114.5 719.0,114.3" fill="none" stroke="#000" stroke-width="5.0" stroke-linejoin="round" stroke-linecap="butt"/>
<polygon points="114.6,46.6 119.6,46.6 114.6,54.2" fill="#0000f5"/>
<polygon points="135.9,50.2 145.9,50.2 140.9,57.8" fill="#0000f5"/>
<polygon points="162.2,50.9 172.2,50.9 167.2,58.5" fill="#0000f5"/>
<polygon points="188.5,44.4 198.5,44.4 193.5,52.0" fill="#0000f5"/>
<polygon points="214.8,41.8 224.8,41.8 219.8,49.4" fill="#0000f5"/>
<polygon points="241.0,52.9 251.0,52.9 246.0,60.5" fill="#0000f5"/>
<polygon points="267.3,67.9 277.3,67.9 272.3,75.5" fill="#0000f5"/>
<polygon points="293.6,83.3 303.6,83.3 298.6,90.9" fill="#0000f5"/>
<polygon points="319.9,92.4 329.9,92.4 324.9,100.0" fill="#0000f5"/>
<polygon points="346.2,99.0 356.2,99.0 351.2,106.6" fill="#0000f5"/>
<polygon points="372.5,106.1 382.5,106.1 377.5,113.7" fill="#0000f5"/>
<polygon points="398.8,113.1 408.8,113.1 403.8,120.7" fill="#0000f5"/>
<polygon points="407.5,115.1 417.5,115.1 412.5,122.7" fill="#0000f5"/>
<polygon points="433.8,124.1 443.8,124.1 438.8,131.7" fill="#0000f5"/>
<polygon points="451.3,127.2 461.3,127.2 456.3,134.8" fill="#0000f5"/>
<polygon points="468.9,127.5 478.9,127.5 473.9,135.1" fill="#0000f5"/>
<polygon points="486.4,127.8 496.4,127.8 491.4,135.4" fill="#0000f5"/>
<polygon points="503.9,128.6 513.9,128.6 508.9,136.2" fill="#0000f5"/>
<polygon points="521.4,130.7 531.4,130.7 526.4,138.3" fill="#0000f5"/>
<polygon points="539.0,131.2 549.0,131.2 544.0,138.8" fill="#0000f5"/>
<polygon points="556.5,131.6 566.5,131.6 561.5,139.2" fill="#0000f5"/>
<polygon points="574.0,130.4 584.0,130.4 579.0,138.0" fill="#0000f5"/>
<polygon points="591.5,128.4 601.5,128.4 596.5,136.0" fill="#0000f5"/>
<polygon points="617.8,124.7 627.8,124.7 622.8,132.3" fill="#0000f5"/>
<polygon points="644.1,122.2 654.1,122.2 649.1,129.8" fill="#0000f5"/>
<polygon points="670.4,115.0 680.4,115.0 675.4,122.6" fill="#0000f5"/>
<polygon points="696.7,109.3 706.7,109.3 701.7,116.9" fill="#0000f5"/>
<path d="M114.6 267.2V15.4H718.2V267.2" fill="none" stroke="#000" stroke-width="2.2"/>
<line x1="113.6" y1="267.2" x2="719.2" y2="267.2" stroke="#000" stroke-width="2.2"/>
<path d="M104.6 15.4H114.6M718.2 15.4H728.2M104.6 50.4H114.6M718.2 50.4H728.2M104.6 85.4H114.6M718.2 85.4H728.2M104.6 120.4H114.6M718.2 120.4H728.2M104.6 155.4H114.6M718.2 155.4H728.2M104.6 190.4H114.6M718.2 190.4H728.2M104.6 225.4H114.6M718.2 225.4H728.2M104.6 260.4H114.6M718.2 260.4H728.2M114.6 267.2V278.2M114.6 15.4V4.4M132.1 267.2V273.2M132.1 15.4V9.4M149.6 267.2V273.2M149.6 15.4V9.4M167.2 267.2V273.2M167.2 15.4V9.4M184.7 267.2V273.2M184.7 15.4V9.4M202.2 267.2V278.2M202.2 15.4V4.4M219.8 267.2V273.2M219.8 15.4V9.4M237.3 267.2V273.2M237.3 15.4V9.4M254.8 267.2V273.2M254.8 15.4V9.4M272.3 267.2V273.2M272.3 15.4V9.4M289.9 267.2V278.2M289.9 15.4V4.4M307.4 267.2V273.2M307.4 15.4V9.4M324.9 267.2V273.2M324.9 15.4V9.4M342.4 267.2V273.2M342.4 15.4V9.4M359.9 267.2V273.2M359.9 15.4V9.4M377.5 267.2V278.2M377.5 15.4V4.4M395.0 267.2V273.2M395.0 15.4V9.4M412.5 267.2V273.2M412.5 15.4V9.4M430.0 267.2V273.2M430.0 15.4V9.4M447.6 267.2V273.2M447.6 15.4V9.4M465.1 267.2V278.2M465.1 15.4V4.4M482.6 267.2V273.2M482.6 15.4V9.4M500.1 267.2V273.2M500.1 15.4V9.4M517.7 267.2V273.2M517.7 15.4V9.4M535.2 267.2V273.2M535.2 15.4V9.4M552.7 267.2V278.2M552.7 15.4V4.4M570.2 267.2V273.2M570.2 15.4V9.4M587.8 267.2V273.2M587.8 15.4V9.4M605.3 267.2V273.2M605.3 15.4V9.4M622.8 267.2V273.2M622.8 15.4V9.4M640.4 267.2V278.2M640.4 15.4V4.4M657.9 267.2V273.2M657.9 15.4V9.4M675.4 267.2V273.2M675.4 15.4V9.4M692.9 267.2V273.2M692.9 15.4V9.4M710.5 267.2V273.2M710.5 15.4V9.4" stroke="#000" stroke-width="1.4" fill="none"/>
<text x="96.0" y="23.9" font-size="24.0" text-anchor="end" textLength="35.5" lengthAdjust="spacingAndGlyphs">-10</text>
<text x="95.0" y="58.9" font-size="24.0" text-anchor="end">0</text>
<text x="95.0" y="93.9" font-size="24.0" text-anchor="end" textLength="27.3" lengthAdjust="spacingAndGlyphs">10</text>
<text x="95.0" y="128.9" font-size="24.0" text-anchor="end" textLength="27.3" lengthAdjust="spacingAndGlyphs">20</text>
<text x="95.0" y="163.9" font-size="24.0" text-anchor="end" textLength="27.3" lengthAdjust="spacingAndGlyphs">30</text>
<text x="95.0" y="198.9" font-size="24.0" text-anchor="end" textLength="27.3" lengthAdjust="spacingAndGlyphs">40</text>
<text x="95.0" y="233.9" font-size="24.0" text-anchor="end" textLength="27.3" lengthAdjust="spacingAndGlyphs">50</text>
<text x="95.0" y="268.9" font-size="24.0" text-anchor="end" textLength="27.3" lengthAdjust="spacingAndGlyphs">60</text>
<text x="114.3" y="303.5" font-size="24.0" text-anchor="middle">0</text>
<text x="201.9" y="303.5" font-size="24.0" text-anchor="middle" textLength="28.5" lengthAdjust="spacingAndGlyphs">50</text>
<text x="289.6" y="303.5" font-size="24.0" text-anchor="middle" textLength="39.5" lengthAdjust="spacingAndGlyphs">100</text>
<text x="377.2" y="303.5" font-size="24.0" text-anchor="middle" textLength="39.5" lengthAdjust="spacingAndGlyphs">150</text>
<text x="464.8" y="303.5" font-size="24.0" text-anchor="middle" textLength="39.5" lengthAdjust="spacingAndGlyphs">200</text>
<text x="552.4" y="303.5" font-size="24.0" text-anchor="middle" textLength="39.5" lengthAdjust="spacingAndGlyphs">250</text>
<text x="640.1" y="303.5" font-size="24.0" text-anchor="middle" textLength="39.5" lengthAdjust="spacingAndGlyphs">300</text>
<text x="415.0" y="331.0" font-size="24.0" text-anchor="middle" textLength="131.0" lengthAdjust="spacingAndGlyphs">Distance [m]</text>
<text x="0" y="0" transform="translate(51.2 141.8) rotate(-90)" font-size="24.5" text-anchor="middle" textLength="102.5" lengthAdjust="spacingAndGlyphs">Depth [m]</text>
<text x="132.3" y="41.7" font-size="24.5" font-weight="bold">A</text>
<text x="605.8" y="41.8" font-size="24.5" font-weight="bold" textLength="69.5" lengthAdjust="spacingAndGlyphs">Line 5</text>
<text x="509.0" y="113.3" font-size="24.0" textLength="88.5" lengthAdjust="spacingAndGlyphs">meadow</text>
<path d="M202 20V36" stroke="#000" stroke-width="4"/>
<polygon points="195.6,31.3 208.4,31.3 202,47.5" fill="#000"/>
<defs><linearGradient id="cbg" x1="0" y1="1" x2="0" y2="0"><stop offset="0.00" stop-color="#e10000"/><stop offset="0.02" stop-color="#e10000"/><stop offset="0.04" stop-color="#e10000"/><stop offset="0.06" stop-color="#e60000"/><stop offset="0.08" stop-color="#f00000"/><stop offset="0.10" stop-color="#fa0000"/><stop offset="0.12" stop-color="#fc0800"/><stop offset="0.14" stop-color="#ff0f00"/><stop offset="0.16" stop-color="#ff1c00"/><stop offset="0.18" stop-color="#ff2a00"/><stop offset="0.20" stop-color="#ff3700"/><stop offset="0.22" stop-color="#ff4800"/><stop offset="0.24" stop-color="#ff5800"/><stop offset="0.26" stop-color="#ff6900"/><stop offset="0.28" stop-color="#ff7b00"/><stop offset="0.30" stop-color="#ff8e00"/><stop offset="0.32" stop-color="#ffa000"/><stop offset="0.34" stop-color="#ffb100"/><stop offset="0.36" stop-color="#ffc200"/><stop offset="0.38" stop-color="#ffd300"/><stop offset="0.40" stop-color="#ffe400"/><stop offset="0.42" stop-color="#ffed00"/><stop offset="0.44" stop-color="#fff600"/><stop offset="0.46" stop-color="#f8f902"/><stop offset="0.48" stop-color="#ebf805"/><stop offset="0.50" stop-color="#def608"/><stop offset="0.52" stop-color="#c6f20e"/><stop offset="0.54" stop-color="#a4ed16"/><stop offset="0.56" stop-color="#82e81e"/><stop offset="0.58" stop-color="#66e429"/><stop offset="0.60" stop-color="#4ae034"/><stop offset="0.62" stop-color="#34dd41"/><stop offset="0.64" stop-color="#26da4f"/><stop offset="0.66" stop-color="#16d75d"/><stop offset="0.68" stop-color="#0cd46d"/><stop offset="0.70" stop-color="#06d17f"/><stop offset="0.72" stop-color="#00cd91"/><stop offset="0.74" stop-color="#00bca5"/><stop offset="0.76" stop-color="#00acb9"/><stop offset="0.78" stop-color="#008ace"/><stop offset="0.80" stop-color="#0065e2"/><stop offset="0.82" stop-color="#0037f5"/><stop offset="0.84" stop-color="#0030f2"/><stop offset="0.86" stop-color="#002aee"/><stop offset="0.88" stop-color="#0023eb"/><stop offset="0.90" stop-color="#001de0"/><stop offset="0.92" stop-color="#0016d4"/><stop offset="0.94" stop-color="#0010c9"/><stop offset="0.96" stop-color="#000abe"/><stop offset="0.98" stop-color="#0005a5"/><stop offset="1.00" stop-color="#00008c"/></linearGradient></defs>
<rect x="743.5" y="25.7" width="30" height="175.8" fill="url(#cbg)"/>
<rect x="743.5" y="193" width="30" height="8.5" fill="#760000"/>
<rect x="743.5" y="25.7" width="30" height="175.8" fill="none" stroke="#000" stroke-width="2"/>
<text x="792.2" y="209.8" font-size="24.0">0</text>
<text x="792.2" y="174.7" font-size="24.0" textLength="52.5" lengthAdjust="spacingAndGlyphs">1000</text>
<text x="792.2" y="139.6" font-size="24.0" textLength="52.5" lengthAdjust="spacingAndGlyphs">2000</text>
<text x="792.2" y="104.5" font-size="24.0" textLength="52.5" lengthAdjust="spacingAndGlyphs">3000</text>
<text x="792.2" y="69.4" font-size="24.0" textLength="52.5" lengthAdjust="spacingAndGlyphs">4000</text>
<text x="792.2" y="34.3" font-size="24.0" textLength="52.5" lengthAdjust="spacingAndGlyphs">5000</text>
<path d="M774.5 201.5H784M774.5 166.4H784M774.5 131.3H784M774.5 96.2H784M774.5 61.1H784M774.5 26.0H784" stroke="#000" stroke-width="1.7"/>
<text x="0" y="0" transform="translate(876.3 113.5) rotate(-90)" font-size="24.5" text-anchor="middle" textLength="147" lengthAdjust="spacingAndGlyphs">Velocity (m/s)</text>
<g fill="#0a0a0a" stroke="#0a0a0a" stroke-width="0.55">
<text x="49.6" y="383.6" font-size="28.0" textLength="323.7" lengthAdjust="spacingAndGlyphs">Subsurface velocity model</text>
<text x="49.6" y="420.9" font-size="28.0" textLength="334.4" lengthAdjust="spacingAndGlyphs">(from Holbrook et al., 2014)</text>
<text x="49.6" y="458.2" font-size="28.0" textLength="351.3" lengthAdjust="spacingAndGlyphs">at Providence. The CZ Tree is</text>
<text x="49.6" y="495.5" font-size="28.0" textLength="345.3" lengthAdjust="spacingAndGlyphs">marked by the arrow above.</text>
<text x="49.6" y="532.8" font-size="28.0" textLength="308.6" lengthAdjust="spacingAndGlyphs">Part of the P301 meadow</text>
<text x="49.6" y="570.1" font-size="28.0" textLength="321.2" lengthAdjust="spacingAndGlyphs">complex is shown at right.</text>
</g>
</svg>
<div id="photo"><svg width="467" height="294" viewBox="0 0 467 294" style="display:block"><defs><filter id="b05"><feGaussianBlur stdDeviation="0.7"/></filter><filter id="b1" x="-5%" y="-5%" width="110%" height="110%"><feGaussianBlur stdDeviation="1.2"/></filter><filter id="b3" x="-10%" y="-10%" width="120%" height="120%"><feGaussianBlur stdDeviation="4"/></filter></defs><rect width="467" height="294" fill="#3a4a3c"/><g filter="url(#b3)"><rect x="-1.0" y="-6.0" width="54.0" height="162.0" fill="#222e24"/><rect x="-1.0" y="156.0" width="54.0" height="50.0" fill="#1c271e"/><rect x="51.0" y="-6.0" width="72.0" height="162.0" fill="#28362a"/><rect x="51.0" y="156.0" width="72.0" height="50.0" fill="#222d23"/><rect x="121.0" y="-6.0" width="18.0" height="162.0" fill="#202a23"/><rect x="121.0" y="156.0" width="18.0" height="50.0" fill="#1b231d"/><rect x="137.0" y="-6.0" width="54.0" height="162.0" fill="#364638"/><rect x="137.0" y="156.0" width="54.0" height="50.0" fill="#2d3b2f"/><rect x="189.0" y="-6.0" width="12.0" height="162.0" fill="#2e3c30"/><rect x="189.0" y="156.0" width="12.0" height="50.0" fill="#273328"/><rect x="199.0" y="-6.0" width="32.0" height="162.0" fill="#3e4034"/><rect x="199.0" y="156.0" width="32.0" height="50.0" fill="#34362c"/><rect x="229.0" y="-6.0" width="54.0" height="162.0" fill="#2a382e"/><rect x="229.0" y="156.0" width="54.0" height="50.0" fill="#232f27"/><rect x="281.0" y="-6.0" width="67.0" height="162.0" fill="#243228"/><rect x="281.0" y="156.0" width="67.0" height="50.0" fill="#1e2a22"/><rect x="346.0" y="-6.0" width="34.0" height="162.0" fill="#344a38"/><rect x="346.0" y="156.0" width="34.0" height="50.0" fill="#2c3e2f"/><rect x="378.0" y="-6.0" width="57.0" height="162.0" fill="#50503c"/><rect x="378.0" y="156.0" width="57.0" height="50.0" fill="#444433"/><rect x="433.0" y="-6.0" width="20.0" height="162.0" fill="#54463e"/><rect x="433.0" y="156.0" width="20.0" height="50.0" fill="#473b34"/><rect x="451.0" y="-6.0" width="18.0" height="162.0" fill="#505c3e"/><rect x="451.0" y="156.0" width="18.0" height="50.0" fill="#444e34"/></g><g filter="url(#b05)" opacity="0.6" fill="none"><path d="M211 113q3 -3 7 4M218 104q3 -2 5 3M204 94q4 -2 7 3M216 41q3 -3 7 4M226 125q3 -3 6 4" stroke="#25271f" stroke-width="1.6"/><path d="M86 103q4 -1 9 2M115 44q3 -2 6 3M97 109q3 -3 7 4M111 114q4 -2 7 3M58 90q5 -3 9 4M78 130q4 -3 9 4M56 154q3 -3 5 4M86 136q3 -2 6 3M99 60q4 -2 9 3M60 71q4 -3 9 4M64 102q4 -2 8 3M111 12q3 -2 6 4M107 43q5 -1 10 2M56 141q3 -1 7 2M95 108q2 -2 5 4" stroke="#161e17" stroke-width="2.4"/><path d="M66 108q4 -2 8 3M61 91q3 -2 6 3M74 83q2 -2 5 3M80 117q2 -1 5 2M97 129q3 -1 7 2M92 92q4 -2 8 3M91 40q3 -1 7 2" stroke="#3c543f" stroke-width="2.4"/><path d="M305 124q4 -3 8 4M331 63q4 -1 7 2M303 156q5 -3 9 4M283 32q4 -1 9 2M300 8q3 -2 6 3M325 106q4 -2 7 3M295 80q2 -2 4 4M346 42q4 -2 7 4M285 72q2 -1 4 2M334 69q3 -2 6 3M291 32q3 -2 7 3M335 140q5 -1 9 2" stroke="#2b3e30" stroke-width="1.6"/><path d="M28 38q4 -3 8 4M67 193q4 -1 8 2M9 38q5 -1 10 2M14 142q4 -2 9 3M3 119q3 -2 6 3M52 72q4 -2 7 2M0 14q5 -3 10 4M22 143q3 -2 5 3M28 117q5 -2 9 3M101 177q3 -1 7 2M6 145q4 -1 8 2M19 124q4 -3 9 4M73 198q5 -1 9 2M49 93q3 -2 6 4M31 11q4 -3 8 4M17 33q2 -1 4 2M14 106q4 -2 9 2" stroke="#2d4030" stroke-width="2.4"/><path d="M206 169q3 -2 5 2M216 187q5 -2 10 3M203 170q3 -3 6 4" stroke="#494f3d" stroke-width="1.6"/><path d="M309 92q3 -2 6 3M342 120q5 -3 9 4M292 113q3 -1 6 2M334 66q5 -1 9 2M313 1q3 -3 7 4M344 72q4 -1 9 2M292 111q4 -1 8 2M322 90q5 -3 10 4M324 104q3 -2 7 4M319 110q5 -1 10 2M302 71q4 -2 7 2M283 70q3 -1 6 2M346 27q5 -1 10 2M306 31q3 -2 6 3M307 58q4 -2 8 4M303 94q5 -2 10 2M302 29q2 -3 5 4M304 148q3 -3 7 4M338 102q4 -2 7 3M315 79q5 -2 10 4" stroke="#19241c" stroke-width="1.6"/><path d="M187 170q2 -1 4 2M171 199q3 -1 7 2M163 179q4 -2 8 3M183 183q5 -2 9 3" stroke="#1b251c" stroke-width="1.6"/><path d="M100 186q3 -3 7 4M100 181q5 -2 10 3M117 183q2 -1 4 2M73 193q4 -2 8 2" stroke="#334735" stroke-width="2.4"/><path d="M196 114q4 -2 9 2M158 195q3 -2 7 3M195 17q3 -2 6 3M193 105q3 -1 7 2M170 187q4 -3 8 4M198 86q3 -1 6 2M157 191q3 -1 7 2" stroke="#374a39" stroke-width="1.6"/><path d="M145 3q4 -1 9 2M144 135q4 -2 8 3M144 100q5 -1 9 2M146 144q4 -3 8 4M173 29q2 -3 5 4M176 144q5 -1 9 2M181 130q3 -3 7 4M157 99q2 -2 5 3M153 35q3 -3 6 4M143 38q2 -1 5 2M148 41q4 -2 9 3M149 63q2 -2 4 3M180 157q4 -3 7 4M175 45q3 -1 6 2M173 12q4 -3 8 4M182 197q4 -2 9 3" stroke="#202b21" stroke-width="1.6"/><path d="M330 2q4 -1 9 2M321 78q4 -2 8 3M311 40q4 -3 9 4M303 45q3 -2 6 4M320 101q3 -2 5 3M317 101q5 -1 9 2M310 58q4 -1 8 2M303 62q5 -1 9 2M289 64q5 -3 9 4M326 72q3 -2 6 2M310 9q2 -1 4 2M306 42q3 -1 7 2M311 51q5 -1 10 2M326 74q4 -3 7 4M302 153q3 -3 6 4M316 73q2 -2 5 3M311 7q3 -1 5 2" stroke="#151f18" stroke-width="1.6"/><path d="M209 38q3 -2 7 3M220 139q3 -2 6 2M211 74q5 -2 10 3M206 50q2 -3 5 4M216 41q5 -2 9 3M202 119q2 -1 5 2M200 155q4 -2 9 2" stroke="#4a4f3e" stroke-width="2.4"/><path d="M196 43q5 -3 9 4M150 167q5 -1 9 2M194 34q2 -2 5 4M179 66q4 -1 8 2M186 149q3 -2 6 3M144 161q3 -2 5 4M164 44q2 -3 4 4M156 82q4 -1 7 2M193 106q5 -2 9 4M161 99q3 -2 5 3M140 192q3 -2 6 3M168 150q3 -3 6 4M171 5q2 -3 5 4M153 2q4 -1 9 2M154 17q3 -2 6 3M178 113q4 -1 8 2M185 160q3 -2 5 3" stroke="#202b21" stroke-width="2.4"/><path d="M466 4q3 -3 6 4M461 104q4 -1 7 2M464 134q2 -2 5 4" stroke="#60724a" stroke-width="1.6"/><path d="M20 29q3 -3 6 4M31 108q5 -3 10 4M11 35q5 -3 9 4M10 65q3 -3 7 4M19 125q5 -1 9 2M34 112q5 -1 9 2M101 185q5 -1 9 2M53 170q4 -1 8 2M6 30q4 -3 8 4M34 122q4 -2 9 3M3 45q5 -3 9 4M22 118q5 -1 9 2M4 75q3 -1 6 2M13 106q4 -1 9 2M4 115q3 -2 7 2M37 68q3 -1 5 2M45 126q3 -2 6 3M7 40q4 -2 8 3" stroke="#161f17" stroke-width="2.4"/><path d="M388 78q2 -2 5 3M410 8q2 -2 4 2M381 93q2 -1 4 2M400 6q5 -2 9 3M423 113q3 -3 7 4M399 16q2 -2 4 3M394 78q3 -2 6 2M405 149q3 -1 6 2M428 58q3 -1 6 2M385 41q3 -2 6 3M427 29q3 -1 5 2M387 92q3 -2 6 3M430 8q4 -1 9 2M385 148q4 -1 9 2" stroke="#686c4e" stroke-width="1.6"/><path d="M7 74q3 -3 7 4M15 198q3 -1 6 2M30 73q3 -1 6 2M24 71q5 -3 9 4M1 198q4 -2 8 3M111 196q4 -2 8 3M13 122q4 -3 7 4M1 42q4 -2 9 3M24 129q5 -3 10 4M32 27q3 -2 6 3" stroke="#121a13" stroke-width="2.4"/><path d="M389 27q3 -1 5 2M394 36q3 -2 6 3M411 140q4 -2 9 3M399 97q5 -2 9 3M379 14q5 -2 10 2M431 42q3 -1 6 2M415 118q3 -2 6 2M414 38q4 -3 9 4M399 92q4 -3 9 4M385 127q4 -2 9 4M414 100q3 -3 6 4M398 66q2 -2 5 3M397 72q2 -1 4 2M420 151q3 -2 6 3M398 75q5 -2 9 3" stroke="#303124" stroke-width="1.6"/><path d="M382 50q2 -2 5 3M398 125q4 -3 8 4M386 19q4 -1 8 2M411 87q3 -1 6 2M421 14q4 -2 7 2M392 137q2 -2 5 3M383 119q4 -1 8 2M411 78q3 -2 5 4M403 145q4 -1 8 2M425 135q3 -2 7 3M400 68q4 -2 8 3M427 4q2 -3 4 4" stroke="#606348" stroke-width="1.6"/><path d="M51 103q3 -2 5 4M34 7q5 -2 9 3M44 9q4 -2 9 3M35 50q4 -2 7 3M7 61q3 -3 6 4M32 73q3 -2 6 3M44 102q3 -1 7 2M48 148q5 -2 9 3M29 72q3 -1 6 2M12 8q4 -2 8 3" stroke="#28392b" stroke-width="2.4"/><path d="M197 182q3 -1 6 2" stroke="#171f18" stroke-width="1.6"/><path d="M59 96q4 -2 8 2M104 150q2 -1 5 2M121 109q4 -2 8 2M101 90q4 -3 9 4M55 72q3 -2 6 2M121 9q3 -3 6 4M72 3q3 -1 6 2M88 151q5 -1 9 2M81 133q3 -2 6 3M81 95q5 -1 9 2" stroke="#161e17" stroke-width="1.6"/><path d="M350 14q3 -1 7 2M372 22q2 -2 5 3M370 123q5 -2 10 3M350 134q5 -3 9 4M355 68q5 -3 9 4M360 60q4 -3 8 4M373 30q4 -3 7 4M369 62q4 -2 8 3M375 154q2 -1 4 2" stroke="#1f2e21" stroke-width="1.6"/><path d="M132 107q2 -1 5 2M126 95q3 -3 6 4M131 23q4 -2 9 3M125 113q3 -2 6 4M134 10q3 -3 6 4" stroke="#26342a" stroke-width="2.4"/><path d="M458 132q4 -1 8 2" stroke="#708556" stroke-width="1.6"/><path d="M431 95q4 -3 8 4M422 63q5 -1 9 2M407 39q4 -3 8 4M406 143q4 -2 7 3M379 36q2 -2 4 3M387 76q2 -2 5 3M423 43q3 -3 6 4M395 44q2 -2 4 3M399 111q4 -1 7 2M405 7q3 -2 6 3M396 2q4 -1 8 2" stroke="#383a2a" stroke-width="1.6"/><path d="M279 15q4 -2 8 2M254 114q4 -3 8 4M245 143q3 -2 7 3M263 92q5 -3 9 4M261 71q5 -3 10 4M243 106q3 -2 6 3M254 57q3 -2 5 4M274 84q4 -1 7 2M232 18q3 -2 7 3M238 36q4 -3 8 4M251 6q5 -3 10 4" stroke="#364b3b" stroke-width="1.6"/><path d="M35 110q5 -2 9 4M19 81q4 -2 8 3M24 7q3 -1 7 2M23 56q3 -3 5 4M10 70q5 -3 9 4M45 124q4 -2 8 3M27 155q5 -2 10 3M51 6q3 -2 5 3M23 70q4 -2 7 3M6 79q4 -2 8 3" stroke="#334736" stroke-width="1.6"/><path d="M370 184q2 -2 5 3M378 196q4 -1 8 2M377 190q3 -2 6 2M357 188q3 -2 5 3M351 200q3 -2 5 3" stroke="#1e2d21" stroke-width="1.6"/><path d="M407 84q5 -2 9 3M385 24q5 -2 9 3M395 141q3 -3 7 4M386 1q3 -2 5 4M429 146q4 -2 9 3M382 96q5 -3 10 4M423 54q4 -3 9 4M405 102q3 -3 6 4" stroke="#686c4e" stroke-width="2.4"/><path d="M177 3q2 -2 4 3M188 138q2 -2 5 3M160 131q4 -1 7 2M169 55q4 -2 7 4M164 83q3 -1 6 2M143 37q3 -2 6 3M160 33q3 -3 6 4M142 49q5 -2 10 3M178 122q2 -2 5 4M168 73q5 -3 10 4M180 14q3 -1 6 2M159 64q3 -2 5 3M148 151q5 -2 10 4M186 131q4 -2 7 3M187 68q2 -1 5 2M160 85q5 -3 9 4M151 78q5 -2 10 3M149 65q3 -2 7 2" stroke="#465e48" stroke-width="2.4"/><path d="M411 146q5 -2 10 4M384 23q3 -1 6 2M421 31q5 -2 10 4M403 41q3 -1 7 2M412 146q3 -2 6 4M403 108q4 -2 9 3M434 111q4 -1 8 2M385 26q5 -2 9 3M406 88q3 -1 7 2M402 102q2 -2 4 3M429 135q4 -2 9 3M394 98q3 -1 6 2" stroke="#303124" stroke-width="2.4"/><path d="M206 169q4 -2 7 3M216 192q5 -1 9 2" stroke="#444939" stroke-width="2.4"/><path d="M281 97q5 -1 10 2M258 112q2 -3 4 4M255 20q2 -2 5 3M236 138q2 -3 4 4M241 57q4 -2 9 3M264 34q4 -2 8 3M258 1q2 -1 4 2M276 84q4 -3 9 4M261 23q4 -3 8 4" stroke="#324537" stroke-width="2.4"/><path d="M119 2q2 -2 5 3M89 155q3 -1 5 2M84 55q4 -3 7 4M82 153q4 -1 9 2M79 150q4 -1 8 2M81 104q3 -3 5 4M85 47q4 -2 9 3M100 94q3 -2 7 3M94 154q4 -1 8 2M58 76q3 -1 5 2M63 60q3 -2 5 2M119 123q5 -2 10 3M99 141q3 -3 6 4M122 3q3 -1 6 2M58 90q4 -2 7 3M114 25q4 -3 8 4M120 130q4 -3 8 4M113 106q3 -1 6 2M53 144q3 -3 7 4M62 38q4 -2 7 3M112 149q3 -2 6 3M99 75q4 -3 8 4M100 117q4 -3 8 4" stroke="#304332" stroke-width="1.6"/><path d="M352 69q3 -1 7 2M363 27q4 -2 7 4M351 98q5 -3 9 4M366 52q2 -2 5 3M362 24q2 -2 5 3M370 77q3 -1 6 2M374 36q5 -3 9 4M366 88q4 -2 8 3M379 39q5 -1 10 2" stroke="#1f2e21" stroke-width="2.4"/><path d="M411 77q5 -1 10 2M399 155q5 -1 10 2M390 12q3 -2 6 2M392 42q2 -1 4 2M414 15q2 -3 5 4M398 97q2 -2 5 2M421 72q4 -1 7 2M425 102q2 -2 4 3M394 64q5 -3 10 4M402 42q4 -3 8 4M395 68q4 -1 7 2" stroke="#707454" stroke-width="1.6"/><path d="M232 168q4 -3 8 4M273 183q3 -1 6 2M278 165q3 -2 6 3M267 192q2 -2 5 3" stroke="#2e4032" stroke-width="2.4"/><path d="M179 105q4 -3 8 4M189 78q3 -2 5 2M181 74q4 -2 9 3M143 86q4 -2 8 3M146 21q2 -2 4 3M139 2q3 -3 6 4M164 149q4 -3 9 4" stroke="#253227" stroke-width="2.4"/><path d="M266 62q2 -1 4 2M266 38q5 -3 10 4M248 9q4 -2 8 3M279 144q3 -3 7 4M232 132q4 -1 9 2M260 43q4 -2 8 3M239 97q4 -1 8 2M261 100q4 -2 8 4M254 35q5 -1 9 2M232 90q4 -2 7 4M251 103q3 -3 7 4M258 152q3 -3 7 4M234 24q4 -1 8 2" stroke="#3a5140" stroke-width="2.4"/><path d="M460 23q4 -2 8 3M463 82q3 -3 6 4M452 12q5 -1 10 2M458 107q4 -3 7 4M459 118q3 -3 7 4M462 50q4 -3 7 4" stroke="#687c50" stroke-width="2.4"/><path d="M93 96q4 -3 8 4M86 41q5 -3 10 4M70 39q3 -1 6 2M88 58q5 -2 10 3M61 77q5 -2 9 3M113 20q5 -2 9 3M83 147q3 -2 6 3M83 110q4 -1 7 2M112 6q5 -3 9 4" stroke="#364b38" stroke-width="1.6"/><path d="M184 159q2 -3 5 4M192 96q4 -2 7 3M196 135q3 -3 6 4M194 86q3 -2 5 3M165 178q2 -3 5 4M188 189q4 -2 7 4M191 149q4 -3 7 4" stroke="#374a39" stroke-width="2.4"/><path d="M217 131q2 -3 5 4M216 79q3 -3 6 4M205 52q3 -3 6 4" stroke="#4a4f3e" stroke-width="1.6"/><path d="M122 144q3 -1 6 2M128 118q4 -1 8 2M126 52q4 -1 7 2M137 88q5 -1 10 2" stroke="#29382d" stroke-width="2.4"/><path d="M160 85q3 -1 7 2M168 151q2 -2 4 3M165 56q4 -2 8 2M162 31q3 -2 6 3M190 130q5 -3 9 4M187 114q3 -2 6 3M163 155q3 -3 5 4M170 2q4 -2 8 3M187 98q2 -2 4 3M189 22q5 -3 9 4M189 66q2 -3 4 4M180 106q3 -3 6 4" stroke="#253227" stroke-width="1.6"/><path d="M200 7q3 -3 6 4M202 46q4 -3 8 4M225 58q4 -3 7 4M219 106q5 -3 10 4M220 28q3 -2 7 4M218 4q4 -2 8 3M204 104q3 -2 6 2" stroke="#565d48" stroke-width="1.6"/><path d="M220 201q5 -2 9 4M225 185q2 -2 4 3M219 200q3 -2 6 4M218 199q3 -2 7 3M220 192q2 -1 5 2M203 189q4 -3 8 4" stroke="#494f3d" stroke-width="2.4"/><path d="M270 139q3 -2 7 3M235 138q4 -2 9 3M265 131q3 -2 6 3M265 85q4 -3 8 4M276 54q4 -1 8 2M277 46q3 -1 5 2M251 124q2 -2 5 3M239 138q4 -2 8 3M266 82q4 -2 8 4M281 96q5 -2 10 3M235 61q4 -3 9 4M234 100q4 -3 8 4" stroke="#324537" stroke-width="1.6"/><path d="M244 170q3 -2 6 4" stroke="#314536" stroke-width="1.6"/><path d="M142 28q4 -2 7 3M150 71q3 -2 7 3M175 83q4 -2 8 3M148 81q3 -2 6 3M152 155q4 -2 8 2M152 36q4 -3 8 4M189 99q4 -3 8 4M154 98q5 -2 10 3M156 56q5 -1 10 2M142 44q4 -2 7 4M141 111q4 -1 7 2M166 29q3 -3 7 4M147 99q4 -3 8 4M153 93q4 -2 8 3M173 151q4 -2 8 3M167 49q3 -2 6 4" stroke="#4b654e" stroke-width="1.6"/><path d="M192 23q4 -1 8 2M195 98q4 -1 8 2" stroke="#3b513e" stroke-width="1.6"/><path d="M241 81q2 -1 5 2M272 61q2 -1 5 2M256 71q4 -2 7 3M241 102q4 -2 8 3M241 8q4 -2 8 3M233 61q5 -2 10 3" stroke="#3a5140" stroke-width="1.6"/><path d="M245 22q4 -3 8 4M241 6q3 -2 7 3M271 1q3 -2 7 4M257 0q4 -2 8 3M263 79q3 -2 6 3M252 80q2 -2 5 2M232 2q2 -3 4 4M256 40q2 -3 4 4M243 58q3 -2 7 3M237 23q3 -2 5 3" stroke="#19221b" stroke-width="1.6"/><path d="M328 196q3 -1 5 2" stroke="#27392c" stroke-width="2.4"/><path d="M247 171q4 -1 8 2M256 197q5 -1 10 2" stroke="#314536" stroke-width="2.4"/><path d="M414 27q2 -1 5 2M420 17q2 -3 5 4M433 28q4 -3 9 4M389 24q4 -1 8 2M401 17q3 -2 5 3M391 88q3 -2 7 3M423 11q3 -3 7 4" stroke="#606348" stroke-width="2.4"/><path d="M45 167q4 -2 7 4M17 111q5 -2 9 3M117 182q4 -2 7 3M25 195q2 -1 5 2M11 71q4 -3 7 4M64 181q2 -3 5 4M14 115q4 -2 7 3M40 140q3 -1 7 2M119 181q2 -2 5 3M3 82q3 -2 6 3M22 190q3 -3 5 4M40 143q4 -1 9 2M14 72q3 -2 6 2M32 41q4 -2 8 3M72 191q5 -3 10 4M88 198q5 -1 9 2" stroke="#121a13" stroke-width="1.6"/><path d="M426 195q4 -2 8 3M381 157q5 -1 10 2" stroke="#585b42" stroke-width="2.4"/><path d="M271 27q2 -1 4 2M249 78q4 -2 8 4M253 120q5 -2 10 3M272 35q4 -1 8 2M272 65q4 -2 8 2M277 118q3 -1 7 2" stroke="#19221b" stroke-width="2.4"/><path d="M282 19q3 -1 6 2M307 66q3 -2 6 3M286 13q4 -3 9 4M312 31q3 -2 6 3M329 80q4 -1 8 2M328 68q4 -1 8 2M297 124q5 -2 9 2M325 77q5 -2 10 4M307 20q4 -3 9 4M324 74q4 -2 9 3M294 69q5 -1 10 2M343 20q3 -3 7 4" stroke="#2e4334" stroke-width="2.4"/><path d="M33 69q2 -3 5 4M43 112q3 -1 7 2M8 15q4 -2 8 3M48 67q2 -2 4 3M35 85q4 -1 8 2M121 171q4 -3 9 4M10 76q4 -1 8 2M13 137q4 -1 8 2" stroke="#161f17" stroke-width="1.6"/><path d="M108 190q3 -2 6 3M91 168q5 -1 9 2M70 194q4 -3 9 4M75 161q5 -1 10 2" stroke="#28392a" stroke-width="1.6"/><path d="M458 5q2 -1 5 2M460 20q4 -2 8 3" stroke="#708556" stroke-width="2.4"/><path d="M188 10q4 -1 8 2M195 50q4 -2 9 3M182 60q3 -1 6 2M191 76q2 -1 5 2M143 96q4 -3 8 4M196 81q4 -1 8 2M187 105q4 -3 8 4M195 128q4 -2 8 3M164 117q4 -1 8 2M156 73q2 -2 5 3M192 12q5 -1 9 2" stroke="#405743" stroke-width="2.4"/><path d="M298 163q4 -2 7 4M294 183q2 -2 4 3" stroke="#27392c" stroke-width="1.6"/><path d="M180 189q3 -1 7 2M196 177q4 -3 8 4M162 187q5 -1 10 2M173 184q4 -2 8 4M197 115q4 -1 7 2M171 167q3 -2 5 3M194 45q2 -2 5 3M198 77q3 -1 6 2" stroke="#1b251c" stroke-width="2.4"/><path d="M279 73q3 -2 7 2M257 127q3 -2 7 3M238 62q4 -1 9 2M265 111q3 -2 7 3M268 4q3 -2 5 2M262 72q2 -3 4 4M256 89q5 -2 10 4M262 105q2 -2 5 3M248 19q5 -2 9 3" stroke="#1d2820" stroke-width="2.4"/><path d="M310 150q2 -1 4 2M285 28q4 -2 8 3M315 143q3 -2 6 3M311 110q4 -2 8 3M345 41q4 -2 9 3M303 138q3 -3 6 4M336 9q4 -2 9 4M284 41q3 -3 7 4M343 6q3 -2 7 3M312 113q5 -2 9 3M345 31q3 -3 6 4M294 77q5 -2 9 3M343 148q4 -1 8 2M291 33q3 -2 6 3" stroke="#2e4334" stroke-width="1.6"/><path d="M296 82q2 -2 4 2M287 106q4 -1 8 2M305 2q4 -2 8 3M291 11q2 -2 4 2M327 5q2 -3 5 4M290 18q4 -2 8 3M287 44q3 -3 6 4M323 101q4 -2 9 3M291 126q3 -1 6 2M343 155q3 -3 6 4M326 136q3 -1 6 2" stroke="#151f18" stroke-width="2.4"/><path d="M23 199q2 -3 4 4M25 181q2 -3 4 4" stroke="#223024" stroke-width="2.4"/><path d="M336 50q2 -1 4 2M339 134q5 -3 9 4M285 109q4 -2 7 3M316 125q3 -2 7 3M298 12q5 -2 10 2M339 144q4 -2 8 4M315 21q4 -2 8 3M344 74q2 -2 4 3" stroke="#2b3e30" stroke-width="2.4"/><path d="M213 41q3 -1 6 2M225 44q3 -1 5 2M224 131q5 -3 10 4M202 10q3 -2 6 4M207 114q4 -3 8 4M216 24q3 -1 5 2M204 100q3 -2 6 2M212 43q3 -3 6 4M221 56q4 -2 8 2M221 151q4 -1 9 2M208 42q5 -1 10 2" stroke="#505643" stroke-width="2.4"/><path d="M207 134q4 -2 8 3M208 150q4 -2 9 3M209 13q3 -2 6 3M211 118q3 -2 6 3M217 38q5 -1 10 2M215 106q4 -3 7 4M204 92q4 -3 9 4M219 43q2 -3 4 4M214 117q2 -2 4 2M213 92q3 -2 6 3M214 54q5 -3 9 4" stroke="#25271f" stroke-width="2.4"/><path d="M170 150q5 -2 10 4M151 122q3 -2 6 4M139 5q3 -2 5 4M186 70q4 -3 7 4M159 11q5 -2 10 3M162 21q2 -1 4 2M163 54q4 -1 8 2" stroke="#405743" stroke-width="1.6"/><path d="M225 101q4 -2 9 3M227 118q5 -2 10 3M203 153q3 -2 6 3M216 101q2 -2 4 2" stroke="#2b2e24" stroke-width="2.4"/><path d="M128 123q4 -1 8 2M127 76q3 -2 6 4M133 151q3 -2 7 3M128 114q5 -2 10 2M123 98q2 -3 4 4M133 38q4 -2 8 4" stroke="#2c3d31" stroke-width="2.4"/><path d="M352 38q4 -2 7 3M351 101q4 -2 8 3M355 52q5 -2 9 3M372 71q3 -3 7 4" stroke="#3e5c43" stroke-width="1.6"/><path d="M291 21q3 -3 6 4M317 144q3 -2 5 2M295 85q3 -2 6 3M300 94q4 -1 8 2M327 8q2 -2 4 3M334 109q4 -2 9 3M325 75q4 -3 9 4M346 41q2 -3 4 4M335 0q3 -2 6 3M293 18q5 -3 10 4" stroke="#324838" stroke-width="1.6"/><path d="M161 150q4 -2 9 3M168 138q4 -2 8 4M187 10q3 -2 6 3M141 102q2 -1 4 2M190 123q3 -1 6 2M173 72q5 -2 10 3M171 86q5 -2 9 3M139 60q3 -3 5 4M180 17q3 -3 6 4M188 104q4 -1 8 2" stroke="#465e48" stroke-width="1.6"/><path d="M136 153q3 -2 7 3M130 110q4 -1 9 2M123 60q4 -3 9 4M131 10q3 -1 7 2M125 37q3 -3 6 4" stroke="#26342a" stroke-width="1.6"/><path d="M216 65q2 -2 4 3M219 83q5 -2 9 3M228 38q4 -1 8 2M202 138q4 -3 9 4M222 20q2 -1 5 2M212 86q5 -3 10 4M221 22q3 -1 5 2M224 1q3 -1 7 2M217 65q2 -3 5 4" stroke="#565d48" stroke-width="2.4"/><path d="M325 99q3 -1 6 2M322 73q4 -3 8 4M321 50q2 -1 5 2M287 37q4 -2 9 3M302 95q4 -1 8 2M342 123q2 -2 4 3M282 27q4 -2 7 2M333 88q4 -2 8 3M332 92q5 -2 10 3M309 5q3 -2 6 4M301 145q3 -3 7 4" stroke="#19241c" stroke-width="2.4"/><path d="M205 161q3 -1 7 2" stroke="#24271e" stroke-width="1.6"/><path d="M39 167q3 -2 6 3M1 184q5 -1 9 2" stroke="#2b3c2d" stroke-width="2.4"/><path d="M372 149q4 -2 9 3M375 18q5 -1 10 2M375 137q3 -2 6 3M370 72q3 -1 6 2" stroke="#243527" stroke-width="1.6"/><path d="M331 184q4 -3 9 4M310 187q3 -1 6 2M329 169q5 -2 10 3M325 191q3 -2 5 3M330 166q3 -2 6 2" stroke="#121a14" stroke-width="2.4"/><path d="M399 162q5 -3 9 4M433 197q3 -2 5 3M390 173q2 -3 4 4" stroke="#585b42" stroke-width="1.6"/><path d="M115 33q4 -2 8 2M58 108q2 -1 4 2M71 4q4 -2 9 3M74 125q4 -2 9 2M72 55q2 -2 4 3M94 141q3 -2 7 4M94 42q3 -3 7 4M113 94q3 -1 6 2M93 76q4 -2 9 4M67 152q2 -2 5 3M69 6q4 -2 7 3M114 31q5 -3 9 4M120 155q4 -1 8 2M79 134q5 -3 10 4M84 148q3 -1 5 2M118 154q4 -2 8 4M76 52q3 -1 7 2M67 84q3 -2 6 4" stroke="#1a241b" stroke-width="2.4"/><path d="M198 59q3 -2 7 4M196 5q3 -2 6 3M198 54q4 -2 8 3" stroke="#3b513e" stroke-width="2.4"/><path d="M102 47q4 -1 8 2M84 81q4 -1 8 2M52 88q4 -2 7 2M83 152q5 -1 10 2M104 40q5 -1 9 2M56 16q2 -1 5 2M108 33q4 -2 8 3M78 49q2 -2 5 3" stroke="#1a241b" stroke-width="1.6"/><path d="M418 81q4 -3 8 4M424 18q4 -2 8 4M403 123q2 -2 4 3M426 150q4 -2 8 3M399 74q5 -1 9 2M394 61q5 -2 10 4M388 90q2 -2 5 3M387 12q4 -3 8 4M426 15q4 -2 9 3M399 129q3 -1 6 2M395 0q4 -2 9 3" stroke="#383a2a" stroke-width="2.4"/><path d="M456 160q4 -1 9 2" stroke="#2f3824" stroke-width="1.6"/><path d="M417 176q3 -1 7 2M382 178q2 -2 5 3" stroke="#2f3123" stroke-width="2.4"/><path d="M297 200q4 -1 7 2M293 174q4 -1 9 2M290 192q3 -1 6 2M305 186q4 -2 9 3M303 170q4 -1 7 2" stroke="#151e17" stroke-width="1.6"/><path d="M1 165q4 -1 9 2" stroke="#273629" stroke-width="2.4"/><path d="M353 112q3 -1 6 2M356 106q2 -1 4 2M349 121q3 -2 5 2M373 125q5 -2 10 4" stroke="#436448" stroke-width="1.6"/><path d="M154 190q3 -2 7 3" stroke="#405642" stroke-width="2.4"/><path d="M459 159q4 -2 7 2M463 175q3 -3 7 4" stroke="#5f7149" stroke-width="1.6"/><path d="M368 166q4 -2 8 2M359 163q5 -2 10 3" stroke="#3d5b42" stroke-width="2.4"/><path d="M43 175q3 -1 7 2M40 198q3 -2 6 2M14 181q4 -2 8 3" stroke="#223024" stroke-width="1.6"/><path d="M135 180q4 -2 9 3M122 164q4 -1 9 2M137 179q5 -2 9 3" stroke="#202c23" stroke-width="1.6"/><path d="M87 110q3 -2 7 3M68 92q2 -2 4 3M66 144q3 -1 5 2M96 5q4 -1 8 2M76 8q3 -2 5 3M97 151q5 -1 9 2M83 142q5 -2 10 3" stroke="#3c543f" stroke-width="1.6"/><path d="M411 201q5 -2 9 3M396 181q3 -2 7 3M422 163q3 -2 7 3" stroke="#2f3123" stroke-width="1.6"/><path d="M66 139q2 -1 4 2M82 5q4 -2 7 4M81 17q3 -2 6 3M94 70q4 -2 8 3M93 117q3 -2 7 3M96 87q4 -2 8 3M53 28q4 -2 7 2M69 134q4 -1 8 2M64 147q4 -2 7 3M118 27q3 -1 6 2M63 55q2 -3 4 4" stroke="#364b38" stroke-width="2.4"/><path d="M249 47q4 -2 8 2M236 114q2 -2 5 4M241 152q5 -1 9 2M280 27q5 -1 10 2M265 15q2 -1 4 2M269 150q2 -2 5 3M238 69q4 -1 7 2M244 151q4 -3 8 4M248 18q4 -3 7 4M251 105q3 -1 6 2" stroke="#364b3b" stroke-width="2.4"/><path d="M275 46q5 -1 9 2M265 31q3 -2 7 3M232 130q3 -1 5 2M265 45q2 -3 5 4M280 16q4 -1 8 2M242 132q2 -2 4 4M269 116q4 -3 8 4M234 6q3 -2 7 3" stroke="#1d2820" stroke-width="1.6"/><path d="M129 129q3 -1 7 2" stroke="#29382d" stroke-width="1.6"/><path d="M290 184q3 -3 6 4M301 192q5 -1 10 2M344 176q3 -2 6 3" stroke="#2a3d2f" stroke-width="2.4"/><path d="M28 13q3 -2 6 3M14 119q5 -3 10 4M22 74q4 -2 7 3M20 31q2 -3 4 4M18 58q5 -1 10 2M40 9q4 -3 8 4M14 64q2 -3 5 4M24 57q4 -2 9 3M28 115q3 -2 6 4M12 94q5 -2 9 4M5 35q5 -3 10 4M29 37q4 -2 7 3M8 58q3 -1 7 2" stroke="#28392b" stroke-width="1.6"/><path d="M357 100q3 -2 5 2M369 137q4 -2 8 3" stroke="#486b4e" stroke-width="1.6"/><path d="M218 140q2 -3 5 4M209 97q2 -3 4 4M224 76q4 -3 7 4M228 106q3 -3 6 4M218 22q5 -2 9 2" stroke="#505643" stroke-width="1.6"/><path d="M340 156q4 -2 9 4M301 196q4 -2 8 3" stroke="#243528" stroke-width="1.6"/><path d="M347 182q3 -2 7 2M285 198q4 -2 7 3" stroke="#243528" stroke-width="2.4"/><path d="M381 178q3 -2 6 3M421 182q3 -2 5 2" stroke="#282a1e" stroke-width="2.4"/><path d="M189 182q5 -1 9 2M156 193q4 -3 7 4" stroke="#405642" stroke-width="1.6"/><path d="M357 197q4 -1 8 2" stroke="#1a271c" stroke-width="2.4"/><path d="M374 30q5 -2 9 3M376 20q3 -1 5 2M375 68q4 -2 7 2M376 111q3 -1 6 2" stroke="#3e5c43" stroke-width="2.4"/><path d="M128 80q3 -2 5 3M134 113q3 -2 7 2M135 87q4 -3 9 4M123 81q4 -2 8 2M123 96q3 -2 5 3M123 129q4 -1 7 2" stroke="#161e18" stroke-width="2.4"/><path d="M186 161q5 -2 10 3" stroke="#3b503d" stroke-width="2.4"/><path d="M10 35q4 -1 9 2M40 104q2 -2 5 2M29 20q5 -2 9 3M34 105q3 -2 5 3M43 29q5 -3 9 4M21 98q3 -3 7 4M51 9q3 -2 5 2M18 3q2 -1 4 2M38 91q3 -3 5 4" stroke="#334736" stroke-width="2.4"/><path d="M201 193q3 -3 7 4" stroke="#3f4335" stroke-width="1.6"/><path d="M363 106q2 -2 5 3M368 129q5 -2 10 3M374 89q5 -3 9 4M355 145q3 -1 6 2M348 23q5 -3 10 4M372 131q4 -3 9 4M376 131q5 -1 9 2" stroke="#436448" stroke-width="2.4"/><path d="M425 11q4 -3 8 4M413 111q3 -1 5 2M381 48q4 -2 7 3M385 53q4 -2 7 3M382 1q4 -2 8 2M431 97q2 -2 5 3M429 120q3 -2 7 3M417 82q4 -2 8 3M408 97q3 -2 6 3" stroke="#707454" stroke-width="2.4"/><path d="M387 160q3 -2 6 2M394 190q3 -1 5 2M430 196q3 -3 5 4M389 166q4 -3 8 4M411 198q4 -2 7 3M390 186q4 -2 8 3" stroke="#5f6347" stroke-width="1.6"/><path d="M250 174q3 -3 7 4M254 198q4 -2 9 3M262 191q2 -3 5 4M277 181q4 -2 8 3" stroke="#2a3b2e" stroke-width="1.6"/><path d="M262 200q2 -2 4 3M276 169q3 -1 6 2M270 160q2 -3 5 4M235 196q3 -1 6 2" stroke="#151d17" stroke-width="2.4"/><path d="M329 47q2 -1 5 2M310 11q5 -2 9 4M317 112q4 -2 8 2M309 50q2 -2 5 3M329 149q2 -2 5 3M286 123q4 -2 8 2M302 84q2 -2 5 2" stroke="#324838" stroke-width="2.4"/><path d="M137 140q3 -2 5 3M123 73q3 -3 5 4M125 15q3 -2 5 3" stroke="#2c3d31" stroke-width="1.6"/><path d="M277 174q3 -2 7 3M266 190q3 -2 5 4M263 189q4 -2 8 3M276 179q4 -2 7 3" stroke="#151d17" stroke-width="1.6"/><path d="M467 132q4 -2 7 3M465 100q3 -2 6 3M455 122q2 -2 5 3M454 140q2 -2 4 3" stroke="#60724a" stroke-width="2.4"/><path d="M184 60q3 -2 6 3M141 1q5 -1 10 2M187 100q3 -1 7 2M138 146q4 -2 8 4M139 69q5 -1 10 2M159 103q2 -2 4 3" stroke="#4b654e" stroke-width="2.4"/><path d="M456 183q3 -1 6 2" stroke="#28301f" stroke-width="1.6"/><path d="M352 21q4 -1 7 2M372 143q4 -1 9 2M349 116q3 -2 6 4M367 13q5 -1 10 2M348 82q4 -2 8 3" stroke="#243527" stroke-width="2.4"/><path d="M371 190q5 -1 9 2" stroke="#354e39" stroke-width="1.6"/><path d="M144 175q5 -2 10 3M182 166q4 -2 8 3M187 193q2 -3 5 4" stroke="#3b503d" stroke-width="1.6"/><path d="M456 191q5 -3 9 4M456 191q5 -3 10 4" stroke="#51613f" stroke-width="1.6"/><path d="M284 160q4 -2 8 3M292 198q3 -1 5 2M301 161q2 -2 5 2M285 174q4 -3 8 4M328 168q3 -3 5 4M332 178q3 -3 5 4" stroke="#2a3d2f" stroke-width="1.6"/><path d="M15 167q4 -2 7 3M31 193q4 -1 8 2" stroke="#0f1610" stroke-width="1.6"/><path d="M96 177q5 -2 10 3M68 175q4 -2 8 4M11 32q3 -2 5 3M42 101q5 -3 9 4M2 34q2 -1 5 2M7 154q3 -3 5 4M24 74q2 -2 4 2M112 171q2 -2 5 3M102 172q4 -1 9 2M69 175q4 -2 8 3M26 49q5 -2 10 3M8 21q3 -3 6 4M55 189q5 -3 9 4M40 26q3 -2 6 4" stroke="#2d4030" stroke-width="1.6"/><path d="M137 159q3 -2 7 3M124 174q4 -2 7 3" stroke="#263329" stroke-width="2.4"/><path d="M198 193q4 -2 8 3" stroke="#364a39" stroke-width="1.6"/><path d="M201 118q3 -3 6 4M230 122q3 -2 7 3M200 48q5 -1 9 2M200 1q4 -1 8 2" stroke="#2b2e24" stroke-width="1.6"/><path d="M456 32q5 -3 10 4" stroke="#38422b" stroke-width="2.4"/><path d="M136 191q3 -2 6 3" stroke="#263329" stroke-width="1.6"/><path d="M125 160q4 -2 8 3" stroke="#233026" stroke-width="2.4"/><path d="M120 159q3 -2 7 3M105 176q4 -3 8 4M89 171q2 -1 5 2" stroke="#28392a" stroke-width="2.4"/><path d="M387 184q3 -2 7 3M387 183q3 -2 7 2M424 167q4 -1 8 2M394 179q3 -2 5 3M394 170q4 -1 9 2" stroke="#51543d" stroke-width="2.4"/><path d="M133 60q2 -3 4 4M134 156q3 -1 7 2" stroke="#131a15" stroke-width="2.4"/><path d="M301 198q5 -2 9 4M346 174q4 -2 8 4" stroke="#151e17" stroke-width="2.4"/><path d="M467 169q5 -1 10 2" stroke="#2f3824" stroke-width="2.4"/><path d="M197 170q4 -2 8 3" stroke="#364a39" stroke-width="2.4"/><path d="M60 121q5 -2 10 3M116 111q5 -2 9 3M83 124q5 -2 10 3M58 20q3 -1 7 2M64 112q3 -1 6 2M104 155q4 -2 7 3M102 4q4 -2 9 4" stroke="#304332" stroke-width="2.4"/><path d="M456 67q5 -3 9 4M461 7q4 -3 9 4" stroke="#303925" stroke-width="1.6"/><path d="M453 35q4 -2 8 3M460 142q4 -3 9 4" stroke="#38422b" stroke-width="1.6"/><path d="M59 162q3 -2 5 3M94 162q3 -3 7 4" stroke="#334735" stroke-width="1.6"/><path d="M376 150q4 -3 7 4M348 41q4 -2 7 3M367 6q5 -2 10 3M355 83q4 -2 8 3" stroke="#486b4e" stroke-width="2.4"/><path d="M377 193q3 -1 7 2" stroke="#1a271c" stroke-width="1.6"/><path d="M216 180q4 -2 8 3M219 191q5 -2 9 3" stroke="#1f211a" stroke-width="2.4"/><path d="M392 199q2 -2 5 3M415 173q2 -2 4 2" stroke="#5f6347" stroke-width="2.4"/><path d="M465 49q2 -3 5 4" stroke="#303925" stroke-width="2.4"/><path d="M194 192q2 -1 5 2" stroke="#324435" stroke-width="2.4"/><path d="M129 20q4 -2 8 3M126 9q2 -2 5 4" stroke="#161e18" stroke-width="1.6"/><path d="M135 75q3 -3 7 4M126 118q3 -3 7 4" stroke="#131a15" stroke-width="1.6"/><path d="M200 195q4 -2 8 3M198 183q3 -3 6 4" stroke="#171f18" stroke-width="2.4"/><path d="M246 176q5 -3 10 4M274 189q3 -2 7 3M279 183q4 -2 8 4M275 176q4 -1 8 2" stroke="#18221b" stroke-width="2.4"/><path d="M35 200q4 -2 9 2M50 178q4 -2 8 2" stroke="#2b3c2d" stroke-width="1.6"/><path d="M453 183q4 -2 9 3" stroke="#5f7149" stroke-width="2.4"/><path d="M135 192q3 -1 6 2" stroke="#233026" stroke-width="1.6"/><path d="M48 185q3 -2 5 3" stroke="#273629" stroke-width="1.6"/><path d="M281 165q2 -2 5 3M255 200q4 -2 9 3" stroke="#2e4032" stroke-width="1.6"/><path d="M11 175q4 -2 8 3" stroke="#0f1610" stroke-width="2.4"/><path d="M357 192q3 -1 7 2M374 186q3 -3 6 4" stroke="#39553d" stroke-width="1.6"/><path d="M399 167q5 -3 10 4" stroke="#51543d" stroke-width="1.6"/><path d="M430 179q3 -1 7 2M385 158q4 -3 8 4" stroke="#282a1e" stroke-width="1.6"/><path d="M241 173q5 -2 9 3" stroke="#2a3b2e" stroke-width="2.4"/><path d="M225 167q3 -3 7 4M201 199q3 -1 6 2" stroke="#24271e" stroke-width="2.4"/><path d="M460 11q4 -2 9 3" stroke="#687c50" stroke-width="1.6"/></g><g filter="url(#b05)" fill="none" stroke-linecap="round" opacity="0.8"><path d="M44 -14L42 -14M44 131L36 131M66 245L73 246" stroke="#2e4430" stroke-width="3.0"/><path d="M44 -14L48 -13M98 233L105 238" stroke="#5a7e52" stroke-width="3.7"/><path d="M44 -8L52 -5M22 71L15 75M109 259L117 263" stroke="#4e7048" stroke-width="4.2"/><path d="M44 0L32 4M36 36L29 39M61 86L69 88M-23 134L-30 137M14 138L6 141M96 179L104 184M-8 217L-16 222M52 220L59 219" stroke="#2e4430" stroke-width="4.3"/><path d="M44 0L57 4M30 106L23 109M44 118L52 117M59 154L66 156M51 160L58 161M44 181L36 182" stroke="#2e4430" stroke-width="3.2"/><path d="M44 10L33 13" stroke="#5a7e52" stroke-width="4.5"/><path d="M44 8L51 11M86 153L93 155" stroke="#66885c" stroke-width="4.3"/><path d="M44 16L33 19M36 84L28 85M66 168L74 171M66 175L73 177M59 221L67 222" stroke="#5a7e52" stroke-width="2.6"/><path d="M44 17L55 20M60 39L68 41M102 257L109 259" stroke="#42603e" stroke-width="3.5"/><path d="M44 22L54 26M102 186L110 190M-1 189L-9 192M21 198L13 200" stroke="#2e4430" stroke-width="4.0"/><path d="M44 36L36 37M58 66L66 68M29 160L22 163M20 170L12 174" stroke="#263828" stroke-width="3.1"/><path d="M44 35L52 36M52 235L59 235" stroke="#4e7048" stroke-width="3.6"/><path d="M52 36L60 38" stroke="#263828" stroke-width="2.5"/><path d="M44 41L35 44M15 75L8 77M59 182L66 183M22 214L14 215" stroke="#42603e" stroke-width="2.9"/><path d="M35 43L26 45M28 52L20 54M44 50L52 49M14 121L7 123M88 250L95 254" stroke="#4e7048" stroke-width="3.7"/><path d="M26 46L17 50M8 249L1 253" stroke="#263828" stroke-width="4.1"/><path d="M44 49L36 50M-20 141L-27 145M73 164L80 165" stroke="#66885c" stroke-width="3.2"/><path d="M36 50L28 51M75 56L82 61M23 109L16 112" stroke="#5a7e52" stroke-width="4.2"/><path d="M20 54L12 59M20 94L11 98M-2 207L-10 209" stroke="#2e4430" stroke-width="4.7"/><path d="M52 50L59 52M44 124L37 124M20 255L12 259" stroke="#66885c" stroke-width="3.3"/><path d="M59 52L67 53M73 177L81 180M66 183L73 185M80 247L88 250" stroke="#5a7e52" stroke-width="3.4"/><path d="M67 53L75 57M51 166L59 168M80 233L87 236M95 252L102 256" stroke="#263828" stroke-width="2.8"/><path d="M44 57L36 58M-9 192L-16 196" stroke="#2e4430" stroke-width="3.4"/><path d="M36 57L28 58M6 104L-2 107M30 112L23 113M9 116L2 118M22 120L14 120M104 132L112 136M59 167L66 169" stroke="#263828" stroke-width="4.6"/><path d="M28 58L20 61M11 97L3 102M30 244L22 245" stroke="#42603e" stroke-width="3.1"/><path d="M20 60L12 65" stroke="#263828" stroke-width="3.8"/><path d="M12 65L3 68M22 246L15 247" stroke="#66885c" stroke-width="4.4"/><path d="M44 57L53 58M51 97L58 99M-0 124L-8 128M44 234L36 235M61 252L69 255" stroke="#2e4430" stroke-width="4.1"/><path d="M53 58L62 60M66 69L73 73M36 90L28 91M-22 191L-29 196" stroke="#5a7e52" stroke-width="3.3"/><path d="M62 60L71 64M44 77L36 77M37 154L29 154M51 181L59 183" stroke="#42603e" stroke-width="3.3"/><path d="M44 63L36 64" stroke="#42603e" stroke-width="4.7"/><path d="M36 63L29 65M29 133L21 135" stroke="#66885c" stroke-width="2.6"/><path d="M29 65L21 68M65 207L72 210" stroke="#263828" stroke-width="4.0"/><path d="M21 69L13 73M36 99L29 100" stroke="#42603e" stroke-width="2.7"/><path d="M44 63L51 63M0 196L-7 198" stroke="#66885c" stroke-width="3.0"/><path d="M51 63L58 65M37 175L29 176" stroke="#42603e" stroke-width="4.0"/><path d="M44 69L37 69M72 102L79 106M66 128L74 130M22 176L15 178M44 212L37 213" stroke="#4e7048" stroke-width="3.1"/><path d="M37 70L30 71M104 169L111 174M-6 239L-13 245" stroke="#2e4430" stroke-width="2.8"/><path d="M30 71L22 73M51 124L59 124" stroke="#42603e" stroke-width="4.9"/><path d="M8 77L1 81M80 118L87 121M-0 182L-7 185" stroke="#4e7048" stroke-width="3.8"/><path d="M1 81L-6 85M1 147L-6 149M67 222L75 225" stroke="#2e4430" stroke-width="3.9"/><path d="M44 69L52 70M37 119L29 119" stroke="#263828" stroke-width="3.0"/><path d="M52 70L60 72M21 101L13 102M44 203L37 205" stroke="#263828" stroke-width="3.6"/><path d="M60 72L67 75M67 120L74 121" stroke="#66885c" stroke-width="4.8"/><path d="M67 74L75 80M66 115L73 117M119 254L127 260" stroke="#2e4430" stroke-width="2.9"/><path d="M36 78L29 81M12 175L4 178" stroke="#2e4430" stroke-width="2.7"/><path d="M29 80L21 85M36 131L29 132M52 250L61 252" stroke="#5a7e52" stroke-width="3.5"/><path d="M44 77L51 77M81 188L88 191" stroke="#66885c" stroke-width="3.5"/><path d="M51 77L59 79M7 180L-0 182M104 248L112 251" stroke="#42603e" stroke-width="3.9"/><path d="M59 78L66 82M44 123L51 125M74 130L81 132M97 245L104 247" stroke="#66885c" stroke-width="4.5"/><path d="M66 81L74 85M59 119L67 119" stroke="#66885c" stroke-width="4.2"/><path d="M74 84L81 89M37 227L30 229M37 243L30 244" stroke="#4e7048" stroke-width="3.2"/><path d="M44 83L36 85M28 86L20 87M-10 111L-17 115M82 124L89 125M15 161L8 165M79 212L86 216" stroke="#66885c" stroke-width="3.9"/><path d="M20 88L13 90M7 123L-0 126" stroke="#263828" stroke-width="4.5"/><path d="M13 92L5 96M44 118L37 118M36 236L28 236" stroke="#66885c" stroke-width="4.1"/><path d="M44 83L52 84M28 93L20 93M44 154L51 154M58 162L65 161" stroke="#42603e" stroke-width="3.0"/><path d="M52 84L61 85" stroke="#42603e" stroke-width="3.8"/><path d="M69 87L77 90M81 161L89 164M12 258L5 262" stroke="#4e7048" stroke-width="4.6"/><path d="M77 91L86 95M44 148L37 148M58 147L65 149" stroke="#66885c" stroke-width="3.6"/><path d="M44 90L36 90M-14 202L-21 205M-16 226L-23 231" stroke="#66885c" stroke-width="2.8"/><path d="M44 98L36 98M-19 127L-26 129M9 129L2 132M58 228L65 229" stroke="#66885c" stroke-width="3.4"/><path d="M29 100L21 100" stroke="#5a7e52" stroke-width="2.8"/><path d="M13 101L6 105M36 167L28 167" stroke="#263828" stroke-width="3.9"/><path d="M-2 108L-10 110M22 157L15 161" stroke="#42603e" stroke-width="2.6"/><path d="M-17 115L-25 120M37 147L29 148M-7 186L-15 188M29 214L22 214M82 225L90 230" stroke="#2e4430" stroke-width="3.1"/><path d="M44 99L51 98M29 148L22 150M36 182L29 183M44 251L52 251" stroke="#42603e" stroke-width="4.6"/><path d="M58 100L65 101M96 165L104 170M23 230L15 232" stroke="#2e4430" stroke-width="4.2"/><path d="M65 100L72 103" stroke="#4e7048" stroke-width="4.5"/><path d="M79 106L86 108M-30 138L-37 142M21 183L14 185M-16 196L-24 199M37 187L29 189" stroke="#5a7e52" stroke-width="3.0"/><path d="M86 109L94 114M44 104L37 104M37 139L30 140M44 159L37 160M44 166L51 165" stroke="#4e7048" stroke-width="2.7"/><path d="M37 105L30 107M7 156L-0 159M8 194L0 197" stroke="#263828" stroke-width="4.3"/><path d="M16 111L9 114M73 231L80 233M44 235L52 235" stroke="#2e4430" stroke-width="4.5"/><path d="M44 105L52 105M58 112L66 114M72 150L79 151" stroke="#263828" stroke-width="3.7"/><path d="M52 106L59 108M94 239L101 242" stroke="#66885c" stroke-width="4.9"/><path d="M59 106L67 110M44 154L37 153M37 160L29 160" stroke="#66885c" stroke-width="3.1"/><path d="M67 109L74 114M2 117L-5 121M15 153L7 157M89 175L96 180M101 243L108 246" stroke="#4e7048" stroke-width="3.0"/><path d="M44 110L37 111M-23 231L-31 234" stroke="#5a7e52" stroke-width="3.2"/><path d="M37 112L30 112M28 168L20 170M74 238L82 241" stroke="#42603e" stroke-width="2.8"/><path d="M23 113L16 114M-13 137L-20 141" stroke="#42603e" stroke-width="4.5"/><path d="M16 115L9 115M7 166L-1 170M-15 188L-22 192M59 236L67 237" stroke="#66885c" stroke-width="4.6"/><path d="M-5 121L-12 124M51 154L59 155" stroke="#4e7048" stroke-width="4.7"/><path d="M-12 123L-19 126M-10 211L-18 215M1 236L-6 240" stroke="#5a7e52" stroke-width="4.3"/><path d="M-26 131L-33 135" stroke="#263828" stroke-width="2.7"/><path d="M44 111L51 111M81 134L89 138" stroke="#5a7e52" stroke-width="3.9"/><path d="M51 112L58 113M81 173L89 176M-21 206L-29 211M-7 257L-14 261" stroke="#2e4430" stroke-width="3.3"/><path d="M73 117L80 119M97 128L104 133M59 174L66 175M51 227L58 229" stroke="#2e4430" stroke-width="4.9"/><path d="M87 122L94 127M110 191L117 194" stroke="#42603e" stroke-width="3.2"/><path d="M29 118L22 119M72 209L79 212" stroke="#5a7e52" stroke-width="3.8"/><path d="M-8 128L-15 131M117 263L124 267" stroke="#263828" stroke-width="3.4"/><path d="M-15 131L-23 134M66 156L74 158M87 168L94 172M44 218L52 220" stroke="#5a7e52" stroke-width="4.8"/><path d="M52 117L59 119M30 140L23 141M65 148L72 150M67 236L74 237M36 251L28 252" stroke="#42603e" stroke-width="4.2"/><path d="M74 122L82 122M101 174L108 179M22 189L15 190M8 233L1 236" stroke="#4e7048" stroke-width="3.5"/><path d="M89 126L97 128" stroke="#2e4430" stroke-width="3.7"/><path d="M112 136L119 140M44 166L36 167M13 200L5 203M7 218L-1 220" stroke="#2e4430" stroke-width="4.6"/><path d="M37 125L30 124M65 229L73 230" stroke="#5a7e52" stroke-width="5.0"/><path d="M30 124L23 126" stroke="#66885c" stroke-width="4.7"/><path d="M23 126L16 127" stroke="#2e4430" stroke-width="2.6"/><path d="M16 127L9 129M-8 173L-16 178" stroke="#4e7048" stroke-width="2.6"/><path d="M2 132L-6 135M51 147L58 147M87 236L94 239M69 256L77 258" stroke="#4e7048" stroke-width="3.4"/><path d="M-6 133L-13 137" stroke="#263828" stroke-width="2.9"/><path d="M59 125L66 126M14 164L7 166M5 204L-2 206M20 238L13 242M13 243L5 246" stroke="#2e4430" stroke-width="3.5"/><path d="M21 135L14 138M29 190L22 191M7 211L-1 213" stroke="#42603e" stroke-width="4.1"/><path d="M44 139L37 139M44 175L51 175M-7 199L-14 203" stroke="#5a7e52" stroke-width="2.9"/><path d="M23 141L16 143" stroke="#2e4430" stroke-width="3.8"/><path d="M16 142L9 143M82 240L89 243" stroke="#4e7048" stroke-width="4.3"/><path d="M9 144L1 147M44 174L37 174M36 195L29 197" stroke="#5a7e52" stroke-width="4.4"/><path d="M-6 150L-13 155M58 205L65 207" stroke="#263828" stroke-width="4.8"/><path d="M-13 154L-20 158M44 147L51 148M112 250L119 255M44 243L51 244" stroke="#2e4430" stroke-width="4.8"/><path d="M22 151L15 153" stroke="#5a7e52" stroke-width="2.5"/><path d="M79 152L86 154M77 259L86 262" stroke="#4e7048" stroke-width="4.1"/><path d="M93 157L100 159M44 160L51 161M28 237L20 239" stroke="#263828" stroke-width="3.2"/><path d="M100 159L107 162M29 196L21 198" stroke="#4e7048" stroke-width="5.0"/><path d="M107 163L114 165" stroke="#263828" stroke-width="3.5"/><path d="M114 167L121 170" stroke="#66885c" stroke-width="5.0"/><path d="M29 155L22 158M95 185L102 187M30 227L23 230" stroke="#263828" stroke-width="4.4"/><path d="M74 157L81 161" stroke="#66885c" stroke-width="3.8"/><path d="M89 163L96 166M80 166L87 168M94 171L101 175M-1 221L-8 223" stroke="#42603e" stroke-width="3.4"/><path d="M22 162L14 163M15 192L8 192" stroke="#42603e" stroke-width="4.3"/><path d="M-1 170L-8 173M65 161L73 163M-1 214L-8 218M51 244L59 243M28 251L20 255" stroke="#66885c" stroke-width="3.7"/><path d="M74 171L81 173M59 243L66 245" stroke="#66885c" stroke-width="4.0"/><path d="M29 176L22 176M81 178L88 181" stroke="#263828" stroke-width="5.0"/><path d="M15 178L7 179" stroke="#5a7e52" stroke-width="4.1"/><path d="M51 174L59 176M22 206L14 208M44 227L37 227" stroke="#4e7048" stroke-width="4.4"/><path d="M88 181L95 183M1 253L-7 257" stroke="#4e7048" stroke-width="4.9"/><path d="M117 193L124 199M15 232L8 234M44 250L36 250" stroke="#42603e" stroke-width="3.7"/><path d="M29 183L21 184" stroke="#66885c" stroke-width="2.7"/><path d="M14 186L6 187M44 195L36 196M44 227L51 228" stroke="#2e4430" stroke-width="4.4"/><path d="M6 187L-1 190M37 204L29 205" stroke="#263828" stroke-width="3.3"/><path d="M-24 199L-31 203" stroke="#5a7e52" stroke-width="4.7"/><path d="M44 181L51 182" stroke="#263828" stroke-width="2.6"/><path d="M73 187L81 188" stroke="#42603e" stroke-width="5.0"/><path d="M88 192L95 195" stroke="#4e7048" stroke-width="4.0"/><path d="M95 194L103 199" stroke="#263828" stroke-width="4.7"/><path d="M44 187L37 188M90 230L98 234M15 247L8 250" stroke="#4e7048" stroke-width="2.8"/><path d="M29 205L22 207M44 243L37 243" stroke="#5a7e52" stroke-width="4.0"/><path d="M14 208L7 210M-8 223L-16 227" stroke="#66885c" stroke-width="2.9"/><path d="M44 203L51 205" stroke="#4e7048" stroke-width="3.9"/><path d="M51 204L58 206" stroke="#5a7e52" stroke-width="3.6"/><path d="M37 213L29 214" stroke="#263828" stroke-width="4.2"/><path d="M14 216L7 218" stroke="#4e7048" stroke-width="4.8"/><path d="M75 223L82 227M89 243L97 245" stroke="#4e7048" stroke-width="2.9"/><path d="M73 247L80 248" stroke="#5a7e52" stroke-width="3.1"/><path d="M87 -10L84 -8M87 33L96 37M79 134L71 135M80 185L72 186M194 48L208 54M164 139L157 143M209 161L217 164M216 170L223 174" stroke="#60786a" stroke-width="2.7"/><path d="M87 -9L90 -9M95 55L102 60M80 94L73 95M87 133L79 134M55 143L46 147M187 137L180 140M203 145L211 147M194 167L201 166" stroke="#56705a" stroke-width="2.5"/><path d="M87 5L78 7M168 196L159 202" stroke="#56705a" stroke-width="3.4"/><path d="M87 5L97 8M87 149L80 149M87 155L79 157M87 164L95 164M50 195L43 199M87 210L78 211M202 65L209 69M194 116L184 117M180 139L173 144M194 144L203 146M170 220L162 225" stroke="#60786a" stroke-width="3.2"/><path d="M87 10L75 15M63 72L55 78M117 106L125 110M87 108L80 108M87 116L97 117M104 174L112 179M87 191L94 192M185 190L177 193M194 197L187 197" stroke="#3e5444" stroke-width="2.7"/><path d="M87 11L99 16M87 67L79 67M95 173L104 174M122 200L129 205M211 149L220 154" stroke="#60786a" stroke-width="3.3"/><path d="M87 18L77 23M87 86L96 88M87 197L80 198M79 204L72 205M194 4L197 5M194 18L202 20M185 57L177 61M194 205L186 207" stroke="#4a6050" stroke-width="2.4"/><path d="M87 18L98 23M73 112L66 115M103 167L111 173M73 173L66 176M87 172L95 173M95 204L103 207M223 183L231 188" stroke="#4a6050" stroke-width="3.0"/><path d="M87 26L79 28M87 100L95 101M177 59L168 65M194 104L203 105M224 169L232 173" stroke="#4a6050" stroke-width="2.8"/><path d="M87 27L100 31M87 40L97 42M97 62L107 67M194 55L203 57M215 202L222 204" stroke="#3e5444" stroke-width="3.3"/><path d="M87 34L73 38M69 129L60 134M63 138L55 141M103 206L111 210M177 88L169 93M177 101L169 107" stroke="#3e5444" stroke-width="3.2"/><path d="M87 40L75 44M73 150L66 153M63 169L55 172M80 196L72 199" stroke="#56705a" stroke-width="2.2"/><path d="M97 42L107 47M78 89L70 93M58 101L51 105M194 79L186 78M168 117L160 121M194 213L186 214" stroke="#60786a" stroke-width="2.5"/><path d="M87 48L79 48M87 124L78 126M78 125L69 128M194 24L206 27M194 65L202 65M201 90L209 91M202 160L209 162" stroke="#56705a" stroke-width="3.1"/><path d="M79 48L71 51M87 81L77 81M65 106L58 109M87 139L96 141M87 184L80 183M186 79L178 83M194 130L187 131M217 165L224 169M186 167L177 170M201 167L208 169" stroke="#3e5444" stroke-width="3.4"/><path d="M71 51L63 55M87 73L78 75M77 83L67 87M80 100L72 102M87 134L94 134M79 165L71 166M194 -5L196 -4M203 58L213 63M220 90L229 95" stroke="#60786a" stroke-width="2.8"/><path d="M87 54L73 58M66 98L58 102M71 135L63 138M112 179L121 183M115 198L122 200M194 10L185 13" stroke="#4a6050" stroke-width="3.1"/><path d="M87 55L95 55M104 145L113 149M202 36L210 40M157 208L149 212" stroke="#60786a" stroke-width="3.0"/><path d="M87 61L79 62M78 74L68 80M194 29L207 33M211 86L220 90M186 98L177 102M194 123L203 124" stroke="#60786a" stroke-width="2.9"/><path d="M79 61L72 65M112 131L121 136M110 162L118 167M185 111L177 112M164 204L157 208M171 210L163 216M194 206L202 205" stroke="#56705a" stroke-width="2.3"/><path d="M72 64L64 68M71 70L63 73M102 101L110 104M94 133L102 137M62 160L54 165M194 151L203 152" stroke="#56705a" stroke-width="3.0"/><path d="M87 59L97 62M95 124L104 127M58 203L51 206M194 35L184 39M203 84L211 86M184 118L174 122M185 145L176 150" stroke="#56705a" stroke-width="2.6"/><path d="M79 67L71 69M96 81L105 87M70 158L62 161M102 158L110 162M87 203L79 203M87 205L95 205M194 71L184 73M218 211L227 216" stroke="#3e5444" stroke-width="2.8"/><path d="M87 79L96 82M96 87L105 91M59 180L52 185M72 186L65 187M73 195L66 198M111 211L119 215M194 24L183 27M216 93L223 97M212 128L221 132M194 151L187 151" stroke="#3e5444" stroke-width="2.9"/><path d="M87 86L78 89M78 211L70 213" stroke="#4a6050" stroke-width="3.2"/><path d="M105 91L114 95M80 149L73 150M108 195L115 197M194 35L202 37M194 197L201 198" stroke="#60786a" stroke-width="2.6"/><path d="M87 93L80 95M71 166L63 169M105 213L115 220M194 -4L190 -2M194 41L184 46M194 83L203 84M180 154L173 158M212 155L221 160M223 174L230 176M209 177L216 180" stroke="#4a6050" stroke-width="2.3"/><path d="M73 95L66 98M194 83L186 84M203 105L212 110M187 152L180 155" stroke="#56705a" stroke-width="3.2"/><path d="M87 99L80 101M125 111L132 115M95 155L102 158M177 113L168 116M203 182L213 187M210 208L218 211" stroke="#60786a" stroke-width="3.1"/><path d="M72 101L65 105M87 171L80 173M223 97L230 103M201 110L209 112M177 192L168 196" stroke="#56705a" stroke-width="2.9"/><path d="M95 100L102 102M95 165L103 168M65 188L57 191M194 111L185 111M201 198L208 199" stroke="#56705a" stroke-width="3.3"/><path d="M110 104L117 107M194 190L185 191M202 205L210 208" stroke="#4a6050" stroke-width="3.3"/><path d="M80 108L73 110M59 157L51 160M101 193L108 195M184 73L174 78M184 183L173 188" stroke="#3e5444" stroke-width="3.0"/><path d="M87 109L94 108M66 152L59 156M94 190L101 192M172 202L164 203" stroke="#3e5444" stroke-width="2.5"/><path d="M94 108L101 110M51 207L43 213M194 57L185 57M194 166L186 168M187 197L179 198" stroke="#60786a" stroke-width="2.3"/><path d="M101 111L109 116M87 124L95 125M87 156L95 155M87 177L78 179M194 49L182 54M216 116L224 120M172 134L164 138M194 144L185 145M222 205L229 210" stroke="#60786a" stroke-width="2.4"/><path d="M97 119L107 123M209 113L216 115M208 167L216 169" stroke="#3e5444" stroke-width="2.2"/><path d="M104 128L112 131M179 198L172 201M178 217L170 220" stroke="#4a6050" stroke-width="3.4"/><path d="M102 136L109 141M54 165L45 170M72 206L64 208" stroke="#4a6050" stroke-width="2.9"/><path d="M96 141L104 144M72 197L65 200M194 89L201 90M204 132L215 138M194 181L203 183" stroke="#56705a" stroke-width="2.4"/><path d="M79 156L70 158M203 153L212 155M230 178L237 183M194 174L201 176M216 181L223 183" stroke="#4a6050" stroke-width="2.7"/><path d="M87 164L79 164M56 212L48 217M194 136L187 138" stroke="#56705a" stroke-width="2.8"/><path d="M55 173L47 177M187 130L179 132M186 205L179 207M179 208L171 211" stroke="#4a6050" stroke-width="2.5"/><path d="M80 172L73 174M194 98L186 99" stroke="#3e5444" stroke-width="2.6"/><path d="M66 177L59 180M64 209L56 212M70 213L61 218" stroke="#60786a" stroke-width="3.4"/><path d="M78 178L68 184M87 210L96 211M177 171L169 175" stroke="#4a6050" stroke-width="2.2"/><path d="M57 191L50 194M87 191L80 192M65 200L58 204M194 129L204 131M208 199L215 202M186 214L178 216" stroke="#3e5444" stroke-width="2.4"/><path d="M80 191L73 194M186 84L177 87M179 133L172 134M194 159L202 160" stroke="#56705a" stroke-width="2.7"/><path d="M96 211L105 213M203 124L212 128M194 180L184 183" stroke="#3e5444" stroke-width="3.1"/><path d="M117 -4L114 -3M127 62L138 68M117 125L124 126M226 96L218 101M242 98L234 100M209 123L201 128M288 113L295 116M304 33L311 34M311 133L318 135M304 176L295 177M330 23L340 29M322 62L314 66M337 75L344 79M315 181L307 185" stroke="#4a6450" stroke-width="3.2"/><path d="M117 -4L120 -3M117 31L104 35M109 142L100 146M117 197L109 199M109 199L101 204M242 11L247 13M242 78L251 78M256 100L263 104M220 155L213 160M258 169L266 172M265 83L257 87M274 89L281 90M259 105L252 109M260 135L253 137M316 142L308 147" stroke="#34483a" stroke-width="2.7"/><path d="M117 3L114 4M117 97L125 98M99 115L89 122M138 130L145 133M109 149L101 151M117 184L126 186M225 169L217 176M251 191L243 197M280 92L271 97M288 155L279 159M330 186L338 186M320 202L311 205" stroke="#34483a" stroke-width="2.8"/><path d="M117 3L123 5M117 9L123 11M95 160L88 164M88 164L81 169M242 135L235 136M235 151L228 153M274 2L270 5M259 161L252 164M274 186L281 186M266 194L258 197M304 111L296 112M304 184L297 185M330 146L322 146M322 146L314 148M306 168L298 174" stroke="#3e5644" stroke-width="2.9"/><path d="M117 10L111 11M117 45L125 47M117 82L108 82M110 126L103 129M117 178L109 180M103 187L95 188M257 151L264 155M274 73L265 75M244 133L237 137M259 149L251 154M296 177L303 179M297 184L304 189M297 126L289 126M282 129L275 134M322 156L313 158M338 155L346 160M345 174L353 180" stroke="#34483a" stroke-width="3.3"/><path d="M117 14L113 17M117 90L108 89M89 133L82 138M242 18L233 22M281 136L274 141M304 153L311 153M319 203L326 206M330 193L321 195" stroke="#34483a" stroke-width="2.4"/><path d="M117 23L106 28M125 46L132 52M117 81L125 82M125 83L134 88M117 111L108 112M242 24L234 27M242 196L250 197M267 97L259 97M290 123L298 126M287 96L278 101M304 102L311 103M330 39L321 40" stroke="#34483a" stroke-width="2.5"/><path d="M117 24L128 28M117 127L110 126M117 185L110 185M260 91L269 95M242 120L252 122M258 148L265 151M225 162L216 167M242 167L250 167M274 111L267 111M333 110L340 115M313 169L321 173M283 190L276 194M321 40L313 45M330 54L344 59M337 116L344 118M330 171L338 172" stroke="#2c3e32" stroke-width="2.6"/><path d="M117 29L125 33M108 81L99 85M131 173L138 176M242 144L250 144M267 194L275 199M276 206L284 210M274 59L288 64M274 138L284 139M274 159L282 158M259 167L251 169M304 56L293 59M330 146L340 147M346 167L354 171" stroke="#4a6450" stroke-width="2.7"/><path d="M117 39L109 41M126 90L136 96M117 191L127 194M242 70L229 76M266 47L258 51M266 119L257 121M282 120L290 123M274 144L266 147M304 28L311 28M304 55L311 57M304 71L311 73M326 107L333 110M295 177L287 179M330 62L338 62M320 69L310 75M314 148L306 151" stroke="#4a6450" stroke-width="3.3"/><path d="M117 39L130 43M109 105L101 108M242 -4L245 -3M242 5L237 5M242 71L250 70M217 118L209 121M303 160L310 165M252 164L244 168M266 186L258 188M296 87L288 89M296 132L289 134M304 153L296 155M304 192L312 194M323 140L316 142" stroke="#3e5644" stroke-width="2.3"/><path d="M117 45L108 46M101 151L93 156M242 10L237 12M235 64L228 66M259 96L268 99M235 106L228 109M242 129L234 130M209 139L201 143M252 137L262 141M250 190L259 193M275 200L283 204M250 196L259 197M274 119L282 119M252 178L244 182M289 186L296 190M289 196L297 200M304 117L297 118M304 167L313 170M330 114L337 116M322 180L315 182M330 177L338 180" stroke="#4a6450" stroke-width="2.5"/><path d="M108 47L99 52M234 100L225 102M267 200L276 205M274 11L278 12M274 25L281 26M274 104L267 104M243 172L236 178M304 -5L307 -3M304 42L312 45M279 115L271 120M295 143L286 144M322 46L314 51M330 155L322 155" stroke="#34483a" stroke-width="3.2"/><path d="M117 61L105 65M226 123L218 126M234 144L227 146M264 153L272 159M274 67L281 66M284 166L294 172M281 172L288 175M333 162L340 167M330 68L339 69M330 124L321 125" stroke="#34483a" stroke-width="3.0"/><path d="M117 60L127 62M117 75L129 78M117 141L109 141M251 129L259 133M228 152L220 156M266 164L274 170M265 76L256 80M295 117L302 120M274 152L281 153M258 188L251 192M319 151L326 155M297 184L290 186M330 89L343 94M330 102L322 102" stroke="#2c3e32" stroke-width="2.4"/><path d="M117 67L108 68M108 112L99 116M131 128L138 130M145 134L153 139M103 158L95 160M125 157L132 158M217 133L209 139M258 160L266 165M234 167L225 171M274 19L269 20M260 114L253 116M298 126L306 131M274 151L265 154M296 104L289 105M322 81L314 84M315 112L307 115M330 186L322 188M312 198L302 202" stroke="#4a6450" stroke-width="2.6"/><path d="M108 69L99 73M96 131L89 135M117 157L125 157M257 74L265 76M228 109L220 113M250 144L258 147M252 101L245 106M314 127L324 132M330 32L342 36M330 193L337 194" stroke="#3e5644" stroke-width="2.7"/><path d="M117 75L109 75M251 79L260 82M289 181L297 185M303 194L310 199M321 144L330 147M337 193L345 196" stroke="#3e5644" stroke-width="3.1"/><path d="M109 74L101 79M251 60L259 65M227 139L220 144M264 91L254 95M281 153L288 155M274 171L281 172M304 42L295 45M288 89L280 92" stroke="#2c3e32" stroke-width="2.9"/><path d="M101 79L93 82M125 140L133 144M117 191L107 194M134 202L142 207M250 159L258 161M274 45L266 47M274 111L281 112M257 121L249 126M296 190L303 193M318 136L326 139M330 61L322 63M330 179L322 179" stroke="#3e5644" stroke-width="2.8"/><path d="M99 85L90 91M102 101L95 104M110 171L102 174M210 130L202 134M278 183L269 187M339 68L348 74" stroke="#3e5644" stroke-width="2.2"/><path d="M108 90L98 94M242 46L234 46M233 88L224 93M268 100L277 105M218 125L210 130M272 158L279 162M274 96L267 97M311 103L319 104M271 163L263 167M319 156L326 157M304 184L312 186M330 73L337 75M338 162L346 167" stroke="#34483a" stroke-width="2.9"/><path d="M98 93L89 99M117 89L126 92M234 120L226 122M259 132L268 138M242 166L234 167M250 166L258 169M252 110L245 115M246 118L239 124M281 112L288 112M297 164L305 168M274 179L282 180M304 189L312 193M289 135L281 136M313 177L322 180" stroke="#2c3e32" stroke-width="3.2"/><path d="M117 96L110 98M101 108L94 112M234 93L226 96M242 136L252 136M249 151L257 151M252 130L244 132M274 125L283 125M276 126L269 130M330 67L320 70" stroke="#4a6450" stroke-width="2.2"/><path d="M110 98L102 100M234 78L226 81M242 113L234 114M242 128L251 130M218 201L210 206M274 119L266 121M253 137L245 142M304 26L291 32M278 101L269 106M330 148L338 152M311 154L319 155M330 122L337 123" stroke="#34483a" stroke-width="3.1"/><path d="M125 98L134 103M117 147L109 147M291 130L300 134M267 139L259 143M251 170L243 174M282 179L289 182M271 120L262 124M275 133L267 137M304 198L311 200" stroke="#3e5644" stroke-width="3.3"/><path d="M117 105L109 104M117 198L125 198M233 192L224 197M259 191L267 194M274 38L284 42M274 82L265 82M267 105L259 105M265 154L255 156M297 117L290 119M304 176L313 177M330 46L322 47M321 125L312 128M322 164L314 164" stroke="#4a6450" stroke-width="3.1"/><path d="M117 111L124 113M283 125L291 129" stroke="#2c3e32" stroke-width="2.2"/><path d="M124 113L132 116M242 149L249 149M274 47L284 47M282 159L289 161M266 166L259 166M258 197L250 201M321 113L329 117M330 74L320 75M340 96L351 102M322 103L314 106M312 128L304 134M321 132L312 135" stroke="#2c3e32" stroke-width="2.3"/><path d="M117 119L108 121M109 180L101 182M242 150L235 149M242 157L233 158M242 196L234 196M304 147L295 148M286 152L277 157" stroke="#3e5644" stroke-width="3.2"/><path d="M108 121L99 123M249 98L256 101M263 104L270 108M234 114L226 114M226 115L217 118M266 171L274 174M259 127L252 130M274 185L266 186M337 120L346 125M314 119L324 124M326 158L333 160M330 10L327 10M330 17L320 20M330 18L338 20M322 110L315 112M338 179L345 184" stroke="#4a6450" stroke-width="2.8"/><path d="M99 123L90 128M242 24L249 26M242 105L235 106M252 122L261 126M274 175L282 179M274 82L287 87M274 132L267 132M274 193L266 195M304 140L313 142M330 11L334 12M330 95L340 96M330 163L322 163M321 194L312 199" stroke="#4a6450" stroke-width="2.4"/><path d="M117 120L126 120M127 194L137 199M242 52L253 55M242 86L251 88M226 198L218 202M303 179L310 184M288 193L280 198M330 53L319 56M337 125L344 127M330 131L321 133M338 171L345 173" stroke="#4a6450" stroke-width="2.3"/><path d="M126 121L134 123M132 158L140 162M117 171L124 172M274 -4L271 -3M255 156L246 162M274 157L267 158M282 195L289 197M304 47L312 49M294 162L284 166M330 -3L326 -2M330 31L319 35M305 161L297 166" stroke="#2c3e32" stroke-width="2.5"/><path d="M134 122L143 128M117 155L110 157M233 158L225 161M274 145L282 146M274 140L266 144M330 109L322 110" stroke="#2c3e32" stroke-width="3.1"/><path d="M103 128L96 130M117 147L125 148M274 19L280 21M281 67L289 72M266 146L259 148M295 95L287 97M296 111L287 112M311 199L319 202M313 157L305 161" stroke="#4a6450" stroke-width="3.4"/><path d="M124 127L131 128M110 157L103 157M110 185L103 187M242 86L233 87M251 88L260 90M219 150L212 154M242 158L250 158M242 189L233 191M267 132L260 133M304 4L308 6M281 109L273 114M307 116L299 119M330 162L338 164" stroke="#4a6450" stroke-width="2.9"/><path d="M117 140L125 140M125 148L134 152M124 171L131 173M107 193L96 199M242 92L234 94M242 190L250 190M274 164L284 165M311 56L319 60M312 186L320 187M320 75L310 80M314 166L306 168" stroke="#3e5644" stroke-width="2.4"/><path d="M133 144L141 149M126 187L135 190M242 121L234 122M284 47L294 52M281 89L288 93M267 158L259 161M311 34L318 37M286 144L278 151M287 178L278 181M322 179L331 186M306 151L298 157M345 197L352 200" stroke="#3e5644" stroke-width="3.0"/><path d="M134 152L142 156M138 176L145 182M242 63L235 63M235 136L227 138M274 31L280 32M274 165L266 165M259 175L252 178M319 73L326 77M289 106L281 108M319 105L326 107M344 119L351 122" stroke="#3e5644" stroke-width="2.5"/><path d="M140 162L147 166M102 173L95 178M260 82L269 87M274 138L267 139M290 120L283 122M289 128L282 129M272 200L264 206M312 136L303 141" stroke="#34483a" stroke-width="2.3"/><path d="M117 171L110 172M95 178L88 182M125 198L134 202M242 37L234 38M329 117L337 120" stroke="#2c3e32" stroke-width="3.4"/><path d="M101 183L93 187M225 101L217 106M242 99L249 100M288 155L295 157M274 193L282 195M304 118L314 119M304 141L295 142M280 198L272 201M344 125L351 130M322 188L313 193M347 190L355 194" stroke="#34483a" stroke-width="2.6"/><path d="M95 189L88 192M242 -4L238 -3M242 30L234 32M242 77L234 79M259 199L267 200M274 -5L278 -2M274 88L264 91M259 98L252 102M282 146L290 151M304 48L294 52M319 51L327 56M312 65L320 70M304 132L311 132M295 149L286 151M338 62L346 66M330 80L322 81M338 188L347 189" stroke="#3e5644" stroke-width="2.6"/><path d="M88 192L81 197M242 59L251 60M234 129L226 132M267 112L260 113M253 116L246 119M287 113L279 116M312 111L321 113M313 142L321 144M296 154L288 156M279 157L271 162" stroke="#2c3e32" stroke-width="2.8"/><path d="M209 91L216 94" stroke="#3e5444" stroke-width="2.3"/><path d="M194 109L201 111M201 175L209 178" stroke="#4a6050" stroke-width="2.6"/><path d="M242 3L245 5M267 126L259 127M289 160L297 165M311 72L319 74M311 147L319 151M290 187L283 190M312 193L320 195M351 128L358 133" stroke="#2c3e32" stroke-width="3.0"/><path d="M242 17L252 22M226 80L218 83M274 124L267 125M284 139L295 144M274 172L267 173M304 86L296 86M304 94L295 94M304 125L314 125M304 193L296 193M330 154L338 156" stroke="#2c3e32" stroke-width="2.7"/><path d="M234 39L225 43M228 67L220 68M218 85L210 90M312 49L319 52M304 159L294 162M314 83L307 89M330 199L320 201" stroke="#34483a" stroke-width="3.4"/><path d="M234 46L227 50M265 77L273 82M227 146L219 150M234 195L226 198M249 126L240 131M295 156L303 160M267 173L259 175M304 103L296 103M283 122L276 126M304 124L297 126M320 188L328 192M330 88L316 92" stroke="#4a6450" stroke-width="3.0"/><path d="M242 59L231 62M220 69L213 73M250 72L257 74M320 196L328 201M330 138L323 139" stroke="#3e5644" stroke-width="3.4"/><path d="M242 92L251 94M217 106L208 110M242 144L234 143M281 185L289 187M304 64L312 65M326 77L334 81M304 112L312 111M304 132L296 132M304 147L311 147M340 148L350 153" stroke="#2c3e32" stroke-width="3.3"/><path d="M251 94L259 95M226 131L217 134M274 10L269 14M288 173L296 177M296 193L288 194" stroke="#34483a" stroke-width="2.2"/><path d="M363 34L365 34M363 100L375 104M363 160L356 161M354 171L345 175" stroke="#40604a" stroke-width="2.5"/><path d="M363 40L357 42M388 177L397 183M363 183L353 184" stroke="#4a6c52" stroke-width="2.2"/><path d="M363 41L367 43M363 132L371 133M379 138L386 143" stroke="#4a6c52" stroke-width="2.7"/><path d="M363 49L358 49M363 60L375 63M345 174L336 181" stroke="#36503e" stroke-width="3.0"/><path d="M363 47L371 50M355 77L347 83M378 108L385 110M363 111L355 112M341 172L334 175M371 195L378 201M370 201L377 204" stroke="#40604a" stroke-width="2.6"/><path d="M363 54L354 58M355 112L347 115M340 143L333 147M363 188L372 190M363 199L370 201" stroke="#40604a" stroke-width="2.8"/><path d="M363 55L369 56M363 76L376 81M363 94L356 96M341 124L334 128M380 146L388 148M341 158L334 163M356 160L349 162M388 182L397 188" stroke="#36503e" stroke-width="3.1"/><path d="M363 59L350 63M363 143L355 144M387 166L395 171" stroke="#4a6c52" stroke-width="2.9"/><path d="M363 64L355 68M363 94L376 99M354 106L346 111M371 125L379 127" stroke="#4a6c52" stroke-width="3.2"/><path d="M363 65L375 69M363 88L355 91M388 131L396 136M355 144L347 147" stroke="#40604a" stroke-width="3.3"/><path d="M363 70L354 74M370 105L378 108M363 123L371 124M355 132L346 134M371 136L379 139M363 143L371 144M372 189L382 195" stroke="#36503e" stroke-width="2.4"/><path d="M363 70L371 71M363 76L355 77M347 203L339 205" stroke="#40604a" stroke-width="2.4"/><path d="M371 71L380 77M386 144L394 147M371 148L378 152" stroke="#40604a" stroke-width="3.1"/><path d="M363 83L352 85M363 89L372 91M371 133L380 135M363 147L371 149M377 203L385 208" stroke="#40604a" stroke-width="2.7"/><path d="M363 83L372 83M379 128L388 131M388 150L396 154M356 154L348 156" stroke="#36503e" stroke-width="2.9"/><path d="M372 84L381 88M353 178L342 184" stroke="#4a6c52" stroke-width="3.4"/><path d="M355 91L347 94M355 137L348 139M371 142L380 146M379 164L387 167M363 176L353 178M363 194L371 197" stroke="#40604a" stroke-width="3.2"/><path d="M372 90L382 95M363 154L356 154M363 171L371 172M371 171L380 173" stroke="#4a6c52" stroke-width="3.1"/><path d="M356 96L349 99M347 116L339 119M356 126L349 127M363 148L354 149M348 157L341 158M371 160L379 163M363 176L371 176" stroke="#4a6c52" stroke-width="3.3"/><path d="M363 106L354 107M356 119L348 121M348 140L340 142" stroke="#4a6c52" stroke-width="2.5"/><path d="M363 106L370 106M363 124L356 125" stroke="#4a6c52" stroke-width="2.6"/><path d="M385 110L392 116M338 139L329 144" stroke="#36503e" stroke-width="2.2"/><path d="M363 117L356 118" stroke="#36503e" stroke-width="2.6"/><path d="M348 119L341 123M363 132L355 132M363 137L355 136M380 179L388 183M363 199L355 200" stroke="#40604a" stroke-width="2.9"/><path d="M349 127L342 132M380 173L388 178" stroke="#4a6c52" stroke-width="3.0"/><path d="M346 133L338 139M388 138L396 143" stroke="#36503e" stroke-width="2.5"/><path d="M380 134L388 138M347 146L338 151M349 164L342 165M342 166L335 171" stroke="#36503e" stroke-width="3.3"/><path d="M363 136L371 138" stroke="#40604a" stroke-width="3.0"/><path d="M354 149L345 154M348 168L341 172M363 170L354 172M339 205L331 210" stroke="#36503e" stroke-width="2.8"/><path d="M363 154L372 155" stroke="#4a6c52" stroke-width="2.4"/><path d="M372 154L381 159" stroke="#36503e" stroke-width="3.2"/><path d="M363 160L371 160M355 200L347 203" stroke="#40604a" stroke-width="2.2"/><path d="M363 166L356 166" stroke="#36503e" stroke-width="2.3"/><path d="M356 166L348 168M353 184L343 189" stroke="#4a6c52" stroke-width="2.8"/><path d="M371 177L380 179" stroke="#36503e" stroke-width="2.7"/></g><defs><linearGradient id="dk" x1="0" y1="0" x2="0" y2="1"><stop offset="0" stop-color="#101810" stop-opacity="0"/><stop offset="1" stop-color="#101810" stop-opacity="0.45"/></linearGradient></defs><rect x="0.0" y="96.0" width="467.0" height="108.0" fill="url(#dk)"/><rect x="0.0" y="0.0" width="467.0" height="1.5" fill="#9a9e98"/><g filter="url(#b1)" opacity="0.7"><rect x="250.0" y="1.0" width="10.0" height="6.0" fill="#8a908a"/><rect x="338.0" y="1.0" width="10.0" height="4.0" fill="#7a8078"/><rect x="234.0" y="1.0" width="8.0" height="6.0" fill="#737b72"/></g><rect x="236.0" y="6.0" width="1.2" height="170.0" fill="#7a7e74" opacity="0.35"/><rect x="274.0" y="2.0" width="1.2" height="124.0" fill="#5e625a" opacity="0.35"/><rect x="339.0" y="6.0" width="1.2" height="70.0" fill="#62665e" opacity="0.35"/><polygon filter="url(#b3)" points="363.0,36.0 372.0,86.0 379.0,136.0 382.0,196.0 344.0,196.0 348.0,136.0 354.0,86.0" fill="#41604a" opacity="0.7"/><polygon filter="url(#b1)" points="160.0,66.0 163.4,70.0 165.0,76.0 166.2,82.0 165.5,88.0 169.5,94.0 170.7,100.0 170.2,106.0 171.8,112.0 170.1,118.0 172.6,124.0 176.8,130.0 178.3,136.0 178.4,142.0 174.8,148.0 177.4,154.0 185.3,160.0 180.3,166.0 183.8,172.0 181.6,178.0 187.7,184.0 189.9,190.0 184.2,196.0 181.8,202.0 183.5,208.0 186.0,213.0 134.0,213.0 133.2,210.0 139.0,204.0 138.0,198.0 136.5,192.0 129.3,186.0 130.8,180.0 134.8,174.0 133.4,168.0 135.6,162.0 142.5,156.0 138.4,150.0 145.3,144.0 146.2,138.0 147.0,132.0 143.6,126.0 148.8,120.0 148.1,114.0 150.7,108.0 152.3,102.0 151.5,96.0 153.3,90.0 153.4,84.0 154.7,78.0 156.4,72.0" fill="#667060"/><g fill="#4a5446" opacity="0.7" filter="url(#b05)"><ellipse cx="146" cy="96" rx="5.7" ry="2.0"/><ellipse cx="155" cy="103" rx="6.3" ry="2.2"/><ellipse cx="155" cy="110" rx="4.9" ry="2.6"/><ellipse cx="148" cy="117" rx="6.9" ry="1.5"/><ellipse cx="167" cy="124" rx="6.4" ry="1.5"/><ellipse cx="168" cy="131" rx="4.5" ry="2.4"/><ellipse cx="146" cy="138" rx="3.2" ry="1.8"/><ellipse cx="173" cy="145" rx="3.8" ry="2.6"/><ellipse cx="172" cy="152" rx="6.8" ry="2.0"/><ellipse cx="156" cy="159" rx="5.1" ry="2.7"/><ellipse cx="149" cy="166" rx="6.0" ry="2.7"/><ellipse cx="170" cy="173" rx="3.1" ry="2.9"/><ellipse cx="149" cy="180" rx="4.4" ry="2.4"/><ellipse cx="172" cy="187" rx="4.4" ry="2.9"/><ellipse cx="161" cy="194" rx="4.2" ry="2.0"/><ellipse cx="151" cy="201" rx="3.3" ry="1.7"/></g><g filter="url(#b05)" opacity="0.75" fill="none" stroke-width="1.6"><path d="M156 135q2 -1 5 2M158 77q2 -1 4 2M159 197q2 -1 5 2M144 145q4 -1 7 2M152 98q3 -1 6 2M149 180q3 -1 6 2M154 173q3 -1 6 2M162 104q3 -1 6 2M143 163q2 -1 4 2M161 141q2 -1 4 2M137 191q4 -1 8 2M162 138q4 -1 8 2M159 88q2 -1 3 2M143 174q2 -1 3 2M152 145q2 -1 4 2M162 107q4 -1 7 2M168 127q2 -1 4 2M166 198q4 -1 7 2M163 105q3 -1 6 2M153 119q2 -1 4 2M164 196q4 -1 7 2M155 209q2 -1 4 2M159 92q2 -1 4 2M144 203q2 -1 4 2M171 150q2 -1 4 2M154 103q2 -1 5 2M160 90q2 -1 4 2M164 187q2 -1 3 2M163 99q2 -1 3 2M140 178q2 -1 5 2M170 196q2 -1 3 2M155 143q3 -1 6 2M158 160q3 -1 6 2M165 205q3 -1 5 2M154 125q2 -1 5 2M157 88q4 -1 7 2M170 175q2 -1 4 2M159 99q4 -1 8 2M157 145q2 -1 5 2M156 116q2 -1 3 2M159 154q3 -1 6 2M157 167q2 -1 4 2M155 84q4 -1 8 2M157 86q2 -1 3 2M167 183q3 -1 6 2M175 189q3 -1 7 2M150 109q3 -1 6 2" stroke="#505a4e"/><path d="M149 195q3 -1 6 2M148 128q2 -1 5 2M147 186q3 -1 7 2M149 116q4 -1 7 2M153 113q2 -1 4 2M168 193q3 -1 6 2M161 89q3 -1 6 2M158 165q3 -1 6 2M146 203q3 -1 5 2M174 169q2 -1 3 2M159 103q3 -1 6 2M162 138q3 -1 5 2M156 112q2 -1 5 2M169 207q2 -1 5 2M149 147q3 -1 6 2M143 194q3 -1 6 2M144 204q2 -1 4 2M161 110q2 -1 4 2M156 95q2 -1 4 2M158 81q3 -1 6 2M157 73q3 -1 7 2M159 78q2 -1 4 2M158 144q3 -1 7 2M159 87q2 -1 3 2M182 206q2 -1 3 2M162 178q2 -1 4 2M170 149q2 -1 4 2M161 129q3 -1 6 2M156 169q3 -1 7 2M157 78q3 -1 6 2M153 87q4 -1 7 2M159 78q2 -1 5 2M155 99q4 -1 7 2M149 201q3 -1 7 2M161 109q3 -1 6 2M170 164q3 -1 6 2M153 142q2 -1 4 2M159 133q3 -1 6 2M162 176q3 -1 7 2M154 95q4 -1 7 2M159 92q2 -1 3 2" stroke="#7c8474"/><path d="M155 101q2 -1 5 2M162 106q3 -1 5 2M156 83q3 -1 5 2M162 126q3 -1 6 2M164 109q3 -1 5 2M156 85q3 -1 5 2M158 88q2 -1 3 2M155 93q2 -1 3 2M144 144q3 -1 7 2M153 178q3 -1 6 2M147 169q2 -1 4 2M166 141q4 -1 7 2M158 94q3 -1 6 2M144 147q4 -1 7 2M149 115q3 -1 6 2M152 178q4 -1 7 2M162 113q2 -1 3 2M166 145q4 -1 8 2M159 77q2 -1 3 2M151 195q3 -1 5 2M144 203q2 -1 4 2M164 141q4 -1 8 2M149 158q4 -1 8 2M156 84q2 -1 4 2M161 100q2 -1 3 2M172 158q2 -1 3 2M154 187q3 -1 7 2M153 101q4 -1 7 2M165 208q2 -1 5 2M157 94q4 -1 7 2M147 135q3 -1 7 2M159 158q2 -1 4 2M158 162q3 -1 5 2M170 158q4 -1 7 2M158 74q3 -1 6 2M153 92q3 -1 7 2M143 176q4 -1 8 2M158 95q4 -1 8 2M159 142q3 -1 6 2" stroke="#949888"/><path d="M146 158q2 -1 5 2M152 93q4 -1 7 2M156 89q3 -1 5 2M159 102q3 -1 5 2M150 181q3 -1 5 2M151 205q4 -1 7 2M164 180q2 -1 4 2M163 116q4 -1 8 2M162 93q2 -1 4 2M159 117q2 -1 4 2M136 206q2 -1 4 2M146 199q2 -1 5 2M157 85q4 -1 8 2M161 189q2 -1 5 2M162 103q2 -1 5 2M165 116q3 -1 6 2M160 84q3 -1 5 2M168 133q3 -1 5 2M160 109q3 -1 6 2M156 207q2 -1 3 2M165 110q3 -1 5 2M150 122q2 -1 4 2M157 91q2 -1 4 2M165 168q3 -1 6 2M141 173q3 -1 6 2M173 174q2 -1 3 2M164 133q4 -1 7 2M159 101q2 -1 4 2M170 144q2 -1 3 2M149 122q3 -1 6 2M157 169q2 -1 4 2M150 130q4 -1 8 2M159 137q4 -1 8 2M158 190q2 -1 3 2M152 103q3 -1 7 2M173 202q3 -1 6 2M146 132q3 -1 6 2M171 180q2 -1 3 2M155 88q4 -1 8 2M158 111q3 -1 5 2M162 101q4 -1 7 2" stroke="#8a9282"/><path d="M176 195q2 -1 4 2M163 142q4 -1 8 2M160 84q2 -1 5 2M161 210q2 -1 3 2M143 196q2 -1 4 2M150 165q3 -1 5 2M157 76q4 -1 7 2M152 119q3 -1 6 2M150 112q3 -1 7 2M149 127q4 -1 8 2M154 103q2 -1 4 2M173 163q2 -1 4 2M157 78q2 -1 4 2M138 194q3 -1 6 2M148 177q2 -1 4 2M161 105q3 -1 5 2M158 89q2 -1 3 2M154 130q2 -1 4 2M157 109q2 -1 5 2M160 199q2 -1 4 2M152 109q3 -1 5 2M145 153q2 -1 4 2M139 190q3 -1 6 2M161 127q3 -1 5 2M140 200q3 -1 6 2M164 134q4 -1 8 2M134 205q2 -1 3 2M165 129q2 -1 5 2M160 144q2 -1 4 2M153 94q4 -1 7 2M156 105q3 -1 5 2M162 100q3 -1 6 2" stroke="#5e6858"/></g><polygon filter="url(#b1)" points="44.0,196.0 117.0,196.0 117.0,222.0 44.0,222.0" fill="#2e3a2e"/><polygon filter="url(#b1)" points="112.0,203.0 232.0,197.0 467.0,195.0 467.0,228.0 112.0,228.0" fill="#6a5a4c"/><polygon filter="url(#b1)" points="114.0,205.0 232.0,202.0 232.0,216.0 114.0,218.0" fill="#8c7a66"/><polygon filter="url(#b1)" points="272.0,209.0 444.0,209.0 444.0,226.0 272.0,226.0" fill="#a59276"/><polygon filter="url(#b1)" points="43.0,218.0 62.0,218.0 82.0,218.0 122.0,216.5 156.0,214.0 182.0,213.5 208.0,211.5 222.0,209.0 242.0,209.0 254.0,214.0 266.0,222.0 282.0,225.0 332.0,225.0 382.0,224.5 412.0,224.0 440.0,225.0 444.0,233.0 404.0,242.0 389.0,246.0 363.0,249.0 337.0,253.0 311.0,256.0 285.0,258.5 259.0,259.0 233.0,259.0 208.0,257.5 182.0,255.0 156.0,251.0 130.0,245.0 104.0,239.0 78.0,233.0 52.0,231.0" fill="#e2e5e8"/><polygon filter="url(#b3)" points="142.0,222.0 282.0,231.0 382.0,230.0 362.0,244.0 282.0,252.0 182.0,248.0" fill="#f0f2f4"/><polygon filter="url(#b1)" points="222.0,209.0 242.0,209.0 272.0,218.0 247.0,222.0 222.0,218.0" fill="#d6d9dc"/><rect x="155.0" y="156.0" width="2.0" height="75.0" fill="#aeb0a8"/><polygon filter="url(#b1)" points="52.0,231.0 78.0,233.0 104.0,239.0 130.0,245.0 156.0,251.0 182.0,255.0 208.0,257.5 233.0,259.0 285.0,258.5 337.0,253.0 389.0,246.0 467.0,239.0 467.0,294.0 0.0,294.0 0.0,246.0 22.0,236.0" fill="#8c7a55"/><polygon filter="url(#b3)" points="142.0,259.0 467.0,251.0 467.0,268.0 142.0,270.0" fill="#86845a"/><polygon filter="url(#b3)" points="122.0,274.0 467.0,274.0 467.0,294.0 122.0,294.0" fill="#937d58"/><polygon filter="url(#b3)" points="0.0,241.0 52.0,236.0 102.0,246.0 142.0,266.0 152.0,294.0 0.0,294.0" fill="#735c4a"/><polygon filter="url(#b3)" points="0.0,176.0 37.0,186.0 47.0,231.0 32.0,246.0 0.0,251.0" fill="#2c3028" opacity="0.8"/><polygon filter="url(#b1)" points="439.0,0.0 448.0,0.0 451.0,136.0 455.0,196.0 462.0,218.0 466.0,233.0 434.0,234.0 438.0,201.0" fill="#5e4c44"/><polygon filter="url(#b1)" points="405.0,234.0 467.0,232.0 467.0,248.5 406.0,248.5 402.0,242.0" fill="#4a3e36"/><polygon filter="url(#b1)" points="340.0,294.0 344.0,285.0 357.0,280.0 377.0,280.5 392.0,286.0 400.0,294.0" fill="#a3acb5"/><polygon filter="url(#b1)" points="452.0,294.0 456.0,289.0 467.0,288.0 467.0,294.0" fill="#a3acb5"/><rect x="113.2" y="148.0" width="1.6" height="91.0" fill="#c4c8cc"/><rect x="302.8" y="156.0" width="1.8" height="91.0" fill="#c4c8cc"/><rect x="283.2" y="173.0" width="1.5" height="50.0" fill="#c4c8cc"/><rect x="430.9" y="148.0" width="1.8" height="88.0" fill="#c4c8cc"/><rect x="299.5" y="199.5" width="9.0" height="8.0" fill="#dde0e3"/><rect x="297.0" y="171.0" width="8.0" height="6.0" fill="#dde0e3"/><rect x="291.0" y="163.0" width="7.0" height="4.0" fill="#dde0e3"/><rect x="427.5" y="191.0" width="8.0" height="9.0" fill="#dde0e3"/><rect x="428.0" y="156.0" width="6.0" height="6.0" fill="#dde0e3"/><rect x="110.5" y="187.0" width="7.0" height="9.0" fill="#dde0e3"/><rect x="111.5" y="159.0" width="5.0" height="10.0" fill="#dde0e3"/><rect x="301.0" y="156.0" width="5.0" height="4.0" fill="#dde0e3"/><g filter="url(#b05)"><polyline points="7.0,176.0 22.0,216.0 37.0,256.0 50.0,294.0" fill="none" stroke="#3b3129" stroke-width="1.6"/><polyline points="4.0,196.0 14.0,231.0 30.0,266.0 34.0,294.0" fill="none" stroke="#4a3c30" stroke-width="1.2"/><polyline points="70.0,176.0 77.0,216.0 87.0,256.0 94.0,294.0" fill="none" stroke="#3b3129" stroke-width="1.6"/><polyline points="97.0,201.0 102.0,231.0 106.0,256.0 104.0,294.0" fill="none" stroke="#2f2a24" stroke-width="2.2"/><polyline points="52.0,256.0 72.0,271.0 82.0,294.0" fill="none" stroke="#8a6a50" stroke-width="1.4"/><polyline points="117.0,256.0 130.0,276.0 138.0,294.0" fill="none" stroke="#3b3129" stroke-width="1.3"/><polyline points="350.0,294.0 357.0,261.0 370.0,248.0 392.0,256.0 467.0,278.0" fill="none" stroke="#3a2e28" stroke-width="1.6"/><polyline points="372.0,256.0 402.0,268.0 432.0,286.0" fill="none" stroke="#4a3c32" stroke-width="1.2"/><polyline points="282.0,294.0 302.0,284.0 327.0,288.0" fill="none" stroke="#3a2e28" stroke-width="1.2"/></g><g fill="none" stroke-width="1.1" opacity="0.8" filter="url(#b05)"><path d="M23 271Q25 258 34 239M23 273Q24 271 36 266M125 264Q127 243 120 226M26 285Q16 267 0 248M124 278Q128 267 133 266M22 274Q47 262 64 250M14 264Q20 240 16 220M5 230Q-3 210 -4 192" stroke="#4c4a3a"/><path d="M26 258Q36 251 35 246M57 228Q67 207 69 197M118 243Q129 217 147 199M130 229Q132 222 138 216M124 268Q119 254 110 252M136 258Q137 255 144 244M84 268Q95 252 111 240M93 226Q94 209 96 198M43 247Q50 221 47 203M53 263Q42 255 42 248M134 228Q142 216 153 216" stroke="#6e6a56"/><path d="M113 235Q114 230 104 220M17 254Q30 250 32 237M110 246Q123 232 127 207M25 273Q12 249 4 235M93 250Q110 239 123 221M72 292Q80 272 88 252M10 218Q10 211 16 202M95 285Q101 271 113 246M44 247Q27 231 20 219M128 257Q120 234 106 220M19 279Q25 262 42 252" stroke="#7a7866"/><path d="M87 219Q77 208 76 186M3 275Q-20 255 -32 244M32 265Q30 241 37 225M84 227Q86 216 98 200M75 261Q62 244 38 231M105 253Q89 231 67 216M66 251Q66 237 73 226M14 294Q8 286 -2 270" stroke="#3e352c"/><path d="M30 294Q50 280 64 264M41 292Q42 276 42 265M133 236Q134 222 138 203M119 220Q112 204 106 197M19 224Q12 214 7 213M103 252Q95 241 87 226M3 256Q-11 241 -29 233" stroke="#5a5040"/></g></svg></div>
</body></html>
